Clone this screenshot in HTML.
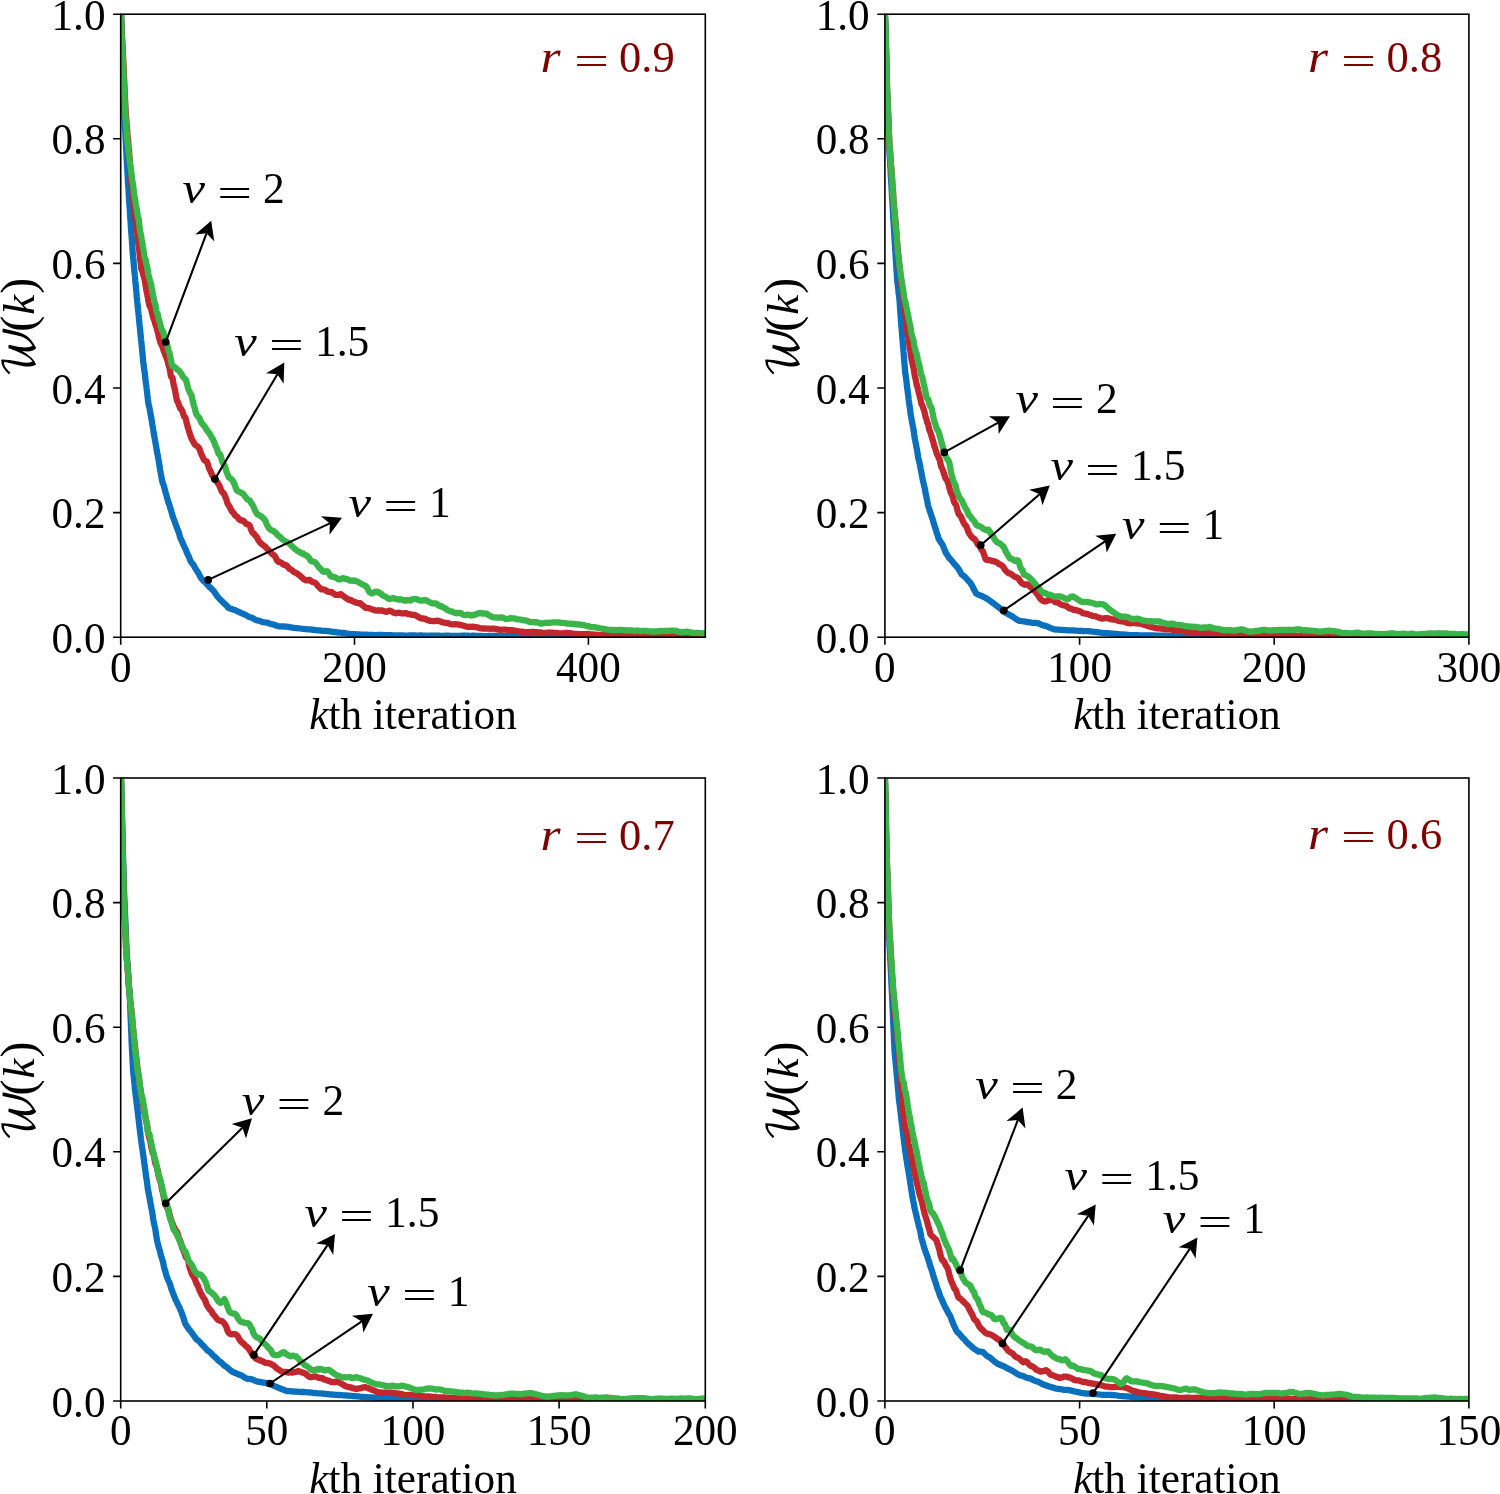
<!DOCTYPE html>
<html lang="en"><head><meta charset="utf-8"><title>W(k) versus kth iteration</title>
<style>html,body{margin:0;padding:0;background:#fff}body{width:1500px;height:1494px;overflow:hidden}svg{display:block}text{font-family:"Liberation Serif","DejaVu Serif",serif;fill:#000}.t{font-size:43.2px}.it{font-style:italic}.cal{font-family:"DejaVu Math TeX Gyre","DejaVu Serif","Liberation Serif",serif}.ax{stroke:#000;stroke-width:1.6;fill:none}.ar{stroke:#000;stroke-width:2.1;fill:none}.c{fill:none;stroke-width:6.3;stroke-linejoin:round;stroke-linecap:butt}</style></head><body>
<svg width="1500" height="1494" viewBox="0 0 1500 1494">
<rect width="1500" height="1494" fill="#fff"/>
<g id="panel1">
<clipPath id="cp1"><rect x="120.7" y="14.2" width="584.6" height="623.0"/></clipPath>
<g clip-path="url(#cp1)">
<path class="c" stroke="#0a70bd" d="M121.0,14.1 L121.1,15.6 L121.1,17.1 L121.2,18.6 L121.2,20.1 L121.3,21.6 L121.3,23.1 L121.4,24.6 L121.5,26.1 L121.5,27.6 L121.6,29.1 L121.6,30.6 L121.7,32.1 L121.7,33.6 L121.8,35.1 L121.8,36.6 L121.9,38.1 L122.0,39.6 L122.0,41.1 L122.1,42.6 L122.1,44.1 L122.1,45.6 L122.2,47.1 L122.2,48.6 L122.3,50.1 L122.3,51.6 L122.4,53.1 L122.4,54.6 L122.5,56.1 L122.5,57.6 L122.6,59.1 L122.6,60.7 L122.6,62.2 L122.7,63.7 L122.7,65.2 L122.8,66.7 L122.8,68.2 L122.9,69.7 L122.9,71.2 L123.0,72.7 L123.0,74.2 L123.0,75.7 L123.1,77.2 L123.1,78.7 L123.2,80.2 L123.2,81.7 L123.3,83.1 L123.3,84.6 L123.4,86.1 L123.4,87.6 L123.5,89.1 L123.5,90.6 L123.6,92.2 L123.7,93.7 L123.7,95.2 L123.8,96.7 L123.8,98.1 L123.9,99.5 L123.9,101.0 L124.0,102.7 L124.0,104.4 L124.1,105.9 L124.1,107.3 L124.2,108.6 L124.2,110.1 L124.3,111.7 L124.3,113.2 L124.4,114.8 L124.4,116.4 L124.5,117.9 L124.5,119.3 L124.6,120.8 L124.7,122.5 L124.8,124.0 L124.9,125.3 L124.9,126.6 L125.0,128.0 L125.1,129.4 L125.2,130.9 L125.3,132.4 L125.4,133.9 L125.5,135.4 L125.5,137.1 L125.6,138.5 L125.7,139.9 L125.8,141.3 L125.9,143.1 L126.0,144.7 L126.0,146.6 L126.1,148.2 L126.2,149.9 L126.3,151.2 L126.4,152.6 L126.5,153.9 L126.5,155.5 L126.6,157.2 L126.7,158.6 L126.8,159.9 L126.9,161.4 L126.9,163.2 L127.0,164.9 L127.1,166.1 L127.2,167.3 L127.3,168.5 L127.3,170.0 L127.4,171.5 L127.5,173.1 L127.6,174.6 L127.7,175.9 L127.7,177.1 L127.8,178.6 L127.9,180.5 L128.0,182.3 L128.1,184.0 L128.2,185.5 L128.3,186.8 L128.4,188.0 L128.5,189.6 L128.6,191.5 L128.7,193.2 L128.7,194.4 L128.8,195.3 L128.9,196.7 L129.0,198.2 L129.1,200.2 L129.2,201.7 L129.3,203.2 L129.4,204.4 L129.5,205.7 L129.6,207.0 L129.7,208.5 L129.8,209.9 L129.9,211.7 L130.0,213.0 L130.1,215.1 L130.2,216.6 L130.3,218.1 L130.4,219.3 L130.5,220.7 L130.6,222.2 L130.7,223.5 L130.8,225.1 L130.9,227.0 L131.0,228.6 L131.1,230.2 L131.2,231.5 L131.3,232.9 L131.4,234.4 L131.6,235.9 L131.7,237.3 L131.8,238.7 L131.9,240.1 L132.0,241.8 L132.1,243.5 L132.2,244.8 L132.3,246.3 L132.4,247.6 L132.5,249.1 L132.6,250.7 L132.7,252.4 L132.8,254.0 L133.0,255.1 L133.1,256.4 L133.2,257.8 L133.4,259.6 L133.5,261.1 L133.7,263.2 L133.8,264.6 L133.9,266.4 L134.1,268.1 L134.2,269.7 L134.4,271.1 L134.5,272.4 L134.6,273.4 L134.8,274.7 L134.9,276.0 L135.1,277.7 L135.2,279.3 L135.3,280.8 L135.5,282.5 L135.6,283.8 L135.8,285.2 L135.9,286.5 L136.0,288.1 L136.2,290.0 L136.3,291.7 L136.5,293.3 L136.6,294.9 L136.7,296.5 L136.9,298.4 L137.0,299.7 L137.2,301.0 L137.3,302.1 L137.5,303.6 L137.6,305.2 L137.8,306.8 L137.9,308.5 L138.1,309.8 L138.2,310.8 L138.4,312.3 L138.5,313.8 L138.7,315.3 L138.8,317.2 L139.0,319.0 L139.1,320.6 L139.3,322.0 L139.4,323.4 L139.6,324.8 L139.7,326.1 L139.9,327.6 L140.0,329.1 L140.2,330.9 L140.3,332.4 L140.5,334.0 L140.6,335.4 L140.8,337.0 L140.9,338.3 L141.0,339.6 L141.2,340.7 L141.3,342.0 L141.5,343.4 L141.6,345.0 L141.8,346.4 L141.9,348.0 L142.1,349.6 L142.2,351.2 L142.4,352.6 L142.5,354.2 L142.7,356.0 L142.8,357.6 L143.0,359.3 L143.1,361.1 L143.3,362.5 L143.5,363.8 L143.7,365.2 L143.9,366.7 L144.0,368.3 L144.2,369.5 L144.4,370.8 L144.6,372.0 L144.8,373.4 L145.0,375.2 L145.2,376.7 L145.3,378.4 L145.5,380.0 L145.7,381.5 L145.9,382.9 L146.1,384.4 L146.3,385.6 L146.5,387.0 L146.6,388.3 L146.8,389.8 L147.0,391.5 L147.2,393.5 L147.4,395.2 L147.6,396.9 L147.8,398.2 L147.9,399.8 L148.1,401.3 L148.4,403.0 L148.6,404.7 L148.9,405.7 L149.1,406.6 L149.4,407.7 L149.7,408.9 L149.9,410.3 L150.2,411.7 L150.4,413.4 L150.7,414.7 L150.9,415.9 L151.2,417.3 L151.5,418.8 L151.7,420.5 L152.0,422.2 L152.2,424.0 L152.5,425.6 L152.8,426.9 L153.0,428.5 L153.3,430.1 L153.5,431.7 L153.8,433.2 L154.0,434.9 L154.3,436.4 L154.6,437.8 L154.8,439.0 L155.1,440.6 L155.3,442.2 L155.6,443.5 L155.9,445.2 L156.1,446.7 L156.4,448.1 L156.6,449.6 L156.9,451.0 L157.1,452.4 L157.4,453.7 L157.7,455.0 L157.9,456.4 L158.2,457.8 L158.4,459.3 L158.7,460.9 L158.9,462.2 L159.2,463.8 L159.5,465.8 L159.7,467.5 L160.0,468.9 L160.2,470.3 L160.5,471.7 L160.7,473.2 L161.0,474.4 L161.3,475.9 L161.5,477.6 L161.8,479.0 L162.0,480.4 L162.4,481.8 L162.8,482.9 L163.2,484.1 L163.7,485.3 L164.1,486.8 L164.5,488.4 L165.0,490.1 L165.4,491.9 L165.8,493.4 L166.3,494.7 L166.7,496.2 L167.1,498.0 L167.6,499.7 L168.0,501.4 L168.4,502.5 L168.9,503.5 L169.3,504.8 L169.8,506.4 L170.2,507.8 L170.6,509.0 L171.1,510.3 L171.5,512.0 L172.0,513.8 L172.5,515.5 L173.0,517.3 L173.5,518.4 L174.0,519.7 L174.5,521.0 L174.9,522.2 L175.4,523.6 L175.9,524.9 L176.4,526.3 L176.9,527.7 L177.4,528.9 L177.9,530.2 L178.4,531.5 L178.9,532.8 L179.4,534.7 L179.8,536.4 L180.4,537.9 L181.0,539.3 L181.6,540.6 L182.2,541.9 L182.8,543.3 L183.4,544.7 L184.0,546.1 L184.6,547.2 L185.2,548.5 L185.9,549.8 L186.5,551.7 L187.1,553.1 L187.7,554.5 L188.3,555.4 L188.9,557.0 L189.5,558.3 L190.1,559.8 L190.7,561.3 L191.5,562.6 L192.3,563.4 L193.1,564.2 L193.9,565.6 L194.7,567.2 L195.5,568.6 L196.3,569.9 L197.1,571.0 L197.9,572.2 L198.7,573.7 L199.5,575.2 L200.3,576.8 L201.1,578.0 L201.9,579.1 L202.9,580.2 L203.9,581.2 L205.0,582.2 L206.1,583.2 L207.1,584.4 L208.2,585.5 L209.2,586.7 L210.2,587.5 L211.2,588.4 L212.2,589.4 L213.2,590.6 L214.2,591.8 L215.3,593.3 L216.3,594.7 L217.3,596.3 L218.3,597.4 L219.3,598.6 L220.3,599.7 L221.3,600.6 L222.3,601.6 L223.3,602.7 L224.4,603.7 L225.4,604.6 L226.4,605.6 L227.4,606.8 L228.5,607.9 L229.8,608.3 L231.2,608.9 L232.6,609.3 L233.9,609.8 L235.3,610.3 L236.7,611.0 L238.0,611.4 L239.4,612.2 L240.7,612.8 L242.1,613.5 L243.5,613.9 L244.8,614.5 L246.2,615.3 L247.6,616.0 L248.9,616.9 L250.3,617.4 L251.7,617.8 L253.0,618.3 L254.4,619.3 L255.7,620.0 L257.2,620.4 L258.6,620.6 L260.1,621.1 L261.5,621.7 L263.0,622.1 L264.5,622.3 L265.9,622.5 L267.4,622.7 L268.8,623.2 L270.3,623.7 L271.7,624.1 L273.2,624.4 L274.7,624.9 L276.1,625.5 L277.6,626.0 L279.1,626.3 L280.6,626.4 L282.1,626.4 L283.6,626.5 L285.1,626.6 L286.5,626.7 L288.0,626.8 L289.5,627.1 L291.0,627.3 L292.5,627.6 L294.0,627.8 L295.5,628.0 L297.0,628.2 L298.5,628.3 L300.0,628.5 L301.5,628.7 L302.9,628.8 L304.4,629.0 L305.9,629.2 L307.4,629.3 L308.9,629.4 L310.4,629.4 L311.9,629.6 L313.4,629.9 L314.9,630.0 L316.4,630.2 L317.9,630.3 L319.4,630.4 L320.9,630.6 L322.4,630.8 L323.9,630.9 L325.4,630.9 L326.9,631.0 L328.4,631.2 L329.9,631.4 L331.4,631.6 L332.8,631.8 L334.3,632.0 L335.8,632.1 L337.3,632.4 L338.8,632.6 L340.3,632.7 L341.8,632.8 L343.3,632.9 L344.8,633.0 L346.3,633.3 L347.8,633.5 L349.3,633.8 L350.8,634.0 L352.2,634.1 L353.7,634.1 L355.2,634.2 L356.7,634.4 L358.2,634.5 L359.7,634.5 L361.2,634.6 L362.7,634.6 L364.2,634.6 L365.7,634.6 L367.2,634.7 L368.7,634.8 L370.2,634.9 L371.7,634.9 L373.3,635.0 L374.8,635.1 L376.3,635.1 L377.8,635.0 L379.3,635.0 L380.8,635.0 L382.3,635.0 L383.8,635.1 L385.3,635.2 L386.8,635.1 L388.3,635.1 L389.8,635.2 L391.3,635.2 L392.8,635.3 L394.3,635.4 L395.8,635.4 L397.3,635.5 L398.8,635.4 L400.3,635.5 L401.8,635.5 L403.3,635.5 L404.8,635.6 L406.3,635.6 L407.8,635.6 L409.3,635.5 L410.8,635.4 L412.3,635.5 L413.8,635.5 L415.3,635.5 L416.8,635.6 L418.3,635.6 L419.8,635.5 L421.3,635.5 L422.8,635.6 L424.3,635.6 L425.8,635.7 L427.3,635.8 L428.8,635.7 L430.3,635.7 L431.8,635.6 L433.3,635.7 L434.8,635.7 L436.3,635.7 L437.9,635.6 L439.4,635.7 L440.9,635.8 L442.4,635.8 L443.9,635.8 L445.4,635.7 L446.9,635.7 L448.4,635.7 L449.9,635.8 L451.4,635.8 L452.9,635.8 L454.4,635.8 L455.9,635.9 L457.4,635.8 L458.9,635.8 L460.4,635.8 L461.9,635.7 L463.4,635.7 L464.9,635.7 L466.4,635.7 L467.9,635.7 L469.4,635.8 L470.9,635.8 L472.4,635.7 L473.9,635.7 L475.4,635.8 L476.9,635.8 L478.4,635.9 L479.9,635.9 L481.4,636.0 L482.9,636.1 L484.4,636.1 L485.9,636.1 L487.4,636.1 L488.9,636.0 L490.4,636.0 L491.9,635.9 L493.4,635.9 L494.9,636.0 L496.5,636.0 L498.0,636.0 L499.5,635.9 L501.0,635.9 L502.5,636.0 L504.0,636.1 L505.5,636.1 L507.0,636.1 L508.5,636.1 L510.0,636.1 L511.5,636.1 L513.0,636.2 L514.5,636.2 L516.0,636.2 L517.5,636.2 L519.0,636.2 L520.5,636.1 L522.0,636.1 L523.5,636.1 L525.0,636.2 L526.5,636.2 L528.0,636.1 L529.5,636.1 L531.0,636.1 L532.5,636.1 L534.0,636.2 L535.5,636.2 L537.0,636.3 L538.5,636.3 L540.0,636.3 L541.5,636.3 L543.0,636.2 L544.5,636.2 L546.0,636.3 L547.5,636.4 L549.0,636.4 L550.5,636.3 L552.0,636.2 L553.5,636.3 L555.0,636.3 L556.5,636.3 L558.1,636.2 L559.6,636.2 L561.1,636.3 L562.6,636.4 L564.1,636.6 L565.6,636.6 L567.1,636.6 L568.6,636.6 L570.1,636.5 L571.6,636.4 L573.1,636.4 L574.6,636.4 L576.1,636.4 L577.6,636.4 L579.1,636.5 L580.6,636.6 L582.1,636.6 L583.6,636.6 L585.1,636.5 L586.6,636.4 L588.1,636.4 L589.6,636.5 L591.1,636.5 L592.6,636.5 L594.1,636.5 L595.6,636.5 L597.1,636.5 L598.6,636.5 L600.1,636.5 L601.6,636.5 L603.1,636.6 L604.6,636.7 L606.1,636.6 L607.6,636.6 L609.1,636.6 L610.6,636.6 L612.1,636.5 L613.6,636.5 L615.1,636.5 L616.7,636.5 L618.2,636.5 L619.7,636.7 L621.2,636.8 L622.7,636.9 L624.2,636.9 L625.7,636.7 L627.2,636.6 L628.7,636.6 L630.2,636.7 L631.7,636.6 L633.2,636.5 L634.7,636.5 L636.2,636.4 L637.7,636.5 L639.2,636.6 L640.7,636.7 L642.2,636.6 L643.7,636.6 L645.2,636.6 L646.7,636.6 L648.2,636.6 L649.7,636.6 L651.2,636.6 L652.7,636.6 L654.2,636.5 L655.7,636.5 L657.2,636.5 L658.7,636.5 L660.2,636.5 L661.7,636.6 L663.2,636.7 L664.7,636.8 L666.2,636.7 L667.7,636.5 L669.2,636.4 L670.7,636.3 L672.2,636.3 L673.7,636.4 L675.2,636.4 L676.8,636.5 L678.3,636.5 L679.8,636.5 L681.3,636.6 L682.8,636.7 L684.3,636.7 L685.8,636.7 L687.3,636.7 L688.8,636.7 L690.3,636.6 L691.8,636.7 L693.3,636.8 L694.8,636.8 L696.3,636.8 L697.8,636.7 L699.3,636.7 L700.8,636.6 L702.3,636.6 L703.8,636.6 L705.3,636.6"/>
<path class="c" stroke="#c1272d" d="M121.0,14.1 L121.1,15.6 L121.1,17.1 L121.2,18.6 L121.3,20.1 L121.3,21.6 L121.4,23.1 L121.4,24.6 L121.5,26.1 L121.6,27.6 L121.6,29.1 L121.7,30.6 L121.8,32.1 L121.9,33.6 L121.9,35.1 L122.0,36.6 L122.1,38.1 L122.2,39.6 L122.3,41.1 L122.3,42.6 L122.4,44.1 L122.5,45.6 L122.6,47.1 L122.6,48.6 L122.7,50.1 L122.8,51.6 L122.9,53.1 L123.0,54.6 L123.0,56.1 L123.1,57.6 L123.2,59.1 L123.3,60.6 L123.4,62.1 L123.4,63.6 L123.5,65.1 L123.6,66.6 L123.6,68.1 L123.7,69.6 L123.8,71.1 L123.8,72.6 L123.9,74.1 L124.0,75.6 L124.0,77.1 L124.1,78.6 L124.2,80.1 L124.3,81.5 L124.3,83.0 L124.4,84.4 L124.5,86.0 L124.5,87.4 L124.6,89.1 L124.7,90.7 L124.7,92.4 L124.8,93.9 L124.9,95.4 L124.9,96.7 L125.0,98.2 L125.1,99.7 L125.2,101.3 L125.2,102.9 L125.3,104.4 L125.4,105.6 L125.4,107.0 L125.5,108.3 L125.6,109.8 L125.6,111.3 L125.7,113.0 L125.8,114.7 L126.0,116.1 L126.1,117.5 L126.2,119.3 L126.4,120.8 L126.5,122.3 L126.6,123.6 L126.8,125.2 L126.9,126.7 L127.0,128.5 L127.2,130.1 L127.3,131.9 L127.4,133.2 L127.5,134.8 L127.7,136.3 L127.8,137.8 L127.9,138.6 L128.1,139.9 L128.2,141.3 L128.3,143.5 L128.5,145.1 L128.6,147.2 L128.7,148.4 L128.9,149.4 L129.0,150.1 L129.1,150.7 L129.2,153.2 L129.3,155.0 L129.4,157.3 L129.6,158.5 L129.7,159.3 L129.8,160.7 L129.9,162.5 L130.0,164.3 L130.1,166.4 L130.2,167.0 L130.4,168.6 L130.5,169.9 L130.6,172.0 L130.7,174.0 L130.8,175.7 L130.9,177.0 L131.0,177.8 L131.2,179.5 L131.3,180.7 L131.4,182.4 L131.5,183.9 L131.6,185.7 L131.7,187.1 L131.8,188.3 L132.0,189.5 L132.1,190.8 L132.2,192.7 L132.4,194.6 L132.6,196.0 L132.8,197.1 L133.0,197.6 L133.2,199.0 L133.3,201.1 L133.5,203.7 L133.7,205.7 L133.9,207.6 L134.1,208.9 L134.3,210.4 L134.5,211.0 L134.7,212.5 L134.8,214.1 L135.0,214.9 L135.2,216.4 L135.4,217.4 L135.6,218.9 L135.8,221.1 L136.0,223.0 L136.1,224.7 L136.3,225.2 L136.5,226.4 L136.7,228.2 L136.9,229.4 L137.1,231.3 L137.2,232.6 L137.4,233.6 L137.6,235.2 L137.7,237.1 L137.9,238.7 L138.1,240.8 L138.3,242.9 L138.4,244.9 L138.6,245.5 L138.8,246.3 L138.9,248.0 L139.1,249.3 L139.3,250.6 L139.4,252.5 L139.6,253.4 L139.8,255.1 L139.9,257.0 L140.1,259.4 L140.3,260.8 L140.5,261.3 L140.6,262.6 L140.8,264.1 L141.0,265.6 L141.1,267.7 L141.4,269.3 L141.8,269.9 L142.2,270.2 L142.6,271.8 L143.0,273.7 L143.4,275.3 L143.8,276.6 L144.2,278.0 L144.5,279.4 L144.9,281.1 L145.3,283.1 L145.5,285.1 L145.8,286.5 L146.1,288.6 L146.3,290.2 L146.6,291.4 L146.8,292.3 L147.1,293.8 L147.4,294.8 L147.6,296.6 L147.9,297.8 L148.1,299.5 L148.5,301.3 L148.9,303.4 L149.3,305.0 L149.7,306.3 L150.1,306.8 L150.6,307.9 L151.0,308.7 L151.4,310.0 L151.8,311.9 L152.2,313.5 L152.6,315.2 L153.0,316.7 L153.4,318.0 L153.9,319.2 L154.3,320.3 L154.7,321.4 L155.1,323.3 L155.6,324.9 L156.0,326.1 L156.4,327.2 L156.9,328.3 L157.3,330.6 L157.7,331.9 L158.2,333.8 L158.6,335.8 L159.0,337.4 L159.5,339.1 L159.9,340.8 L160.3,342.4 L160.8,343.6 L161.3,344.0 L161.8,345.3 L162.3,346.5 L162.8,348.0 L163.3,349.5 L163.8,351.0 L164.3,352.2 L164.8,353.5 L165.3,354.8 L165.8,356.0 L166.3,357.6 L166.8,358.6 L167.3,359.9 L167.8,361.8 L168.3,363.9 L168.8,365.8 L169.2,367.2 L169.6,368.5 L169.9,370.3 L170.3,372.0 L170.6,374.5 L171.0,376.2 L171.3,377.2 L171.7,377.2 L172.0,377.2 L172.3,377.7 L172.7,379.0 L173.0,381.3 L173.4,383.5 L173.7,385.3 L174.1,386.5 L174.4,387.8 L174.7,389.0 L175.1,390.2 L175.4,392.6 L175.8,394.4 L176.1,396.6 L176.5,398.5 L176.8,399.7 L177.1,401.2 L177.7,401.9 L178.3,403.2 L179.0,405.3 L179.7,407.0 L180.3,408.5 L181.0,408.8 L181.7,409.9 L182.4,411.2 L183.0,413.4 L183.7,415.3 L184.3,416.9 L184.8,417.2 L185.2,417.3 L185.7,418.5 L186.1,420.4 L186.5,422.2 L187.0,424.1 L187.4,425.6 L187.8,427.3 L188.3,428.5 L188.7,430.1 L189.2,431.7 L189.6,433.2 L190.0,434.6 L190.5,435.7 L190.9,436.7 L191.3,437.8 L191.7,439.0 L192.3,440.1 L193.2,441.5 L194.1,443.3 L195.0,444.7 L195.9,445.3 L196.8,445.9 L197.7,446.5 L198.6,447.5 L199.3,448.6 L200.1,450.7 L200.9,453.2 L201.7,454.9 L202.5,456.5 L203.2,458.1 L204.0,459.8 L205.0,460.7 L206.0,461.2 L206.8,461.3 L207.4,463.0 L208.0,464.6 L208.6,466.9 L209.2,468.8 L209.8,469.8 L210.4,471.1 L211.1,472.5 L211.7,474.0 L212.3,475.4 L212.9,476.2 L213.5,477.0 L214.1,478.5 L214.8,479.5 L215.7,480.3 L216.6,481.2 L217.5,482.3 L218.4,484.1 L219.3,485.3 L220.2,487.7 L221.0,489.7 L221.9,491.7 L222.6,492.5 L223.2,493.0 L223.8,493.5 L224.4,494.6 L225.0,496.1 L225.5,497.7 L226.1,498.5 L226.7,500.7 L227.3,502.8 L227.9,504.3 L228.4,504.8 L229.0,505.7 L229.6,506.8 L230.2,508.2 L231.1,509.7 L232.0,511.5 L233.0,512.4 L234.0,513.5 L234.9,515.1 L235.9,516.2 L236.9,516.6 L237.8,517.4 L238.8,519.0 L239.8,519.8 L240.9,520.5 L242.3,520.3 L243.6,521.0 L245.0,522.5 L246.4,523.9 L247.8,524.5 L248.8,524.8 L249.6,525.4 L250.4,527.5 L251.2,529.8 L251.9,531.6 L252.7,532.9 L253.5,533.2 L254.3,534.3 L255.1,535.3 L256.0,536.2 L257.1,537.4 L258.1,539.7 L259.2,541.4 L260.3,542.8 L261.3,543.7 L262.4,544.7 L263.5,545.4 L264.5,546.1 L265.6,547.0 L266.7,548.5 L267.7,549.2 L268.7,550.2 L269.7,551.4 L270.6,552.5 L271.6,553.4 L272.6,554.6 L273.5,554.9 L274.5,555.6 L275.5,557.2 L276.4,559.1 L277.4,560.9 L278.4,561.7 L279.6,562.1 L280.8,562.5 L282.1,563.2 L283.3,564.6 L284.6,565.0 L285.8,564.9 L287.1,566.0 L288.3,567.6 L289.6,568.9 L290.9,569.4 L292.1,570.4 L293.4,571.6 L294.7,572.4 L295.9,572.8 L297.2,573.7 L298.5,574.5 L299.7,575.4 L301.0,576.8 L302.3,577.8 L303.5,579.0 L304.8,579.8 L306.0,580.3 L307.3,580.4 L308.6,579.8 L309.8,579.9 L311.1,581.2 L312.3,581.9 L313.6,582.4 L314.8,582.6 L316.1,583.7 L317.4,585.4 L318.8,587.0 L320.2,588.3 L321.6,589.4 L323.0,589.4 L324.4,589.6 L325.7,590.1 L327.1,591.4 L328.5,591.8 L329.9,592.0 L331.4,591.9 L332.8,593.2 L334.2,593.9 L335.7,594.9 L337.1,594.9 L338.5,595.0 L339.9,594.2 L341.3,594.4 L342.7,595.7 L344.0,596.4 L345.3,597.4 L346.7,598.5 L348.0,599.3 L349.4,600.2 L350.7,599.8 L352.1,600.9 L353.4,601.5 L354.7,601.9 L356.1,602.6 L357.4,602.8 L358.8,603.3 L360.1,603.1 L361.5,604.5 L362.8,605.5 L364.2,606.7 L365.5,607.8 L366.8,607.9 L368.2,608.1 L369.5,608.4 L370.9,608.9 L372.2,609.6 L373.7,609.7 L375.2,610.5 L376.7,610.7 L378.2,610.2 L379.7,610.6 L381.2,610.3 L382.7,610.6 L384.2,611.3 L385.7,611.8 L387.2,611.6 L388.7,610.9 L390.2,610.7 L391.7,611.5 L393.2,612.4 L394.7,612.9 L396.2,613.3 L397.7,612.8 L399.1,612.7 L400.6,613.2 L402.1,613.5 L403.6,613.3 L405.1,613.1 L406.5,613.1 L407.9,614.0 L409.4,614.1 L410.8,614.5 L412.2,614.8 L413.7,614.7 L415.1,615.2 L416.5,615.7 L418.0,616.8 L419.4,617.5 L420.8,618.4 L422.3,618.5 L423.8,618.5 L425.3,618.9 L426.7,619.8 L428.2,620.1 L429.7,620.8 L431.2,620.8 L432.6,621.2 L434.1,621.1 L435.6,621.0 L437.1,620.7 L438.5,620.8 L440.0,621.2 L441.5,622.1 L443.0,622.3 L444.5,622.8 L445.9,622.8 L447.4,623.1 L448.9,623.6 L450.4,624.2 L451.9,624.4 L453.4,624.3 L454.9,624.2 L456.3,624.4 L457.8,624.4 L459.3,624.8 L460.8,624.9 L462.3,625.4 L463.8,625.8 L465.3,626.2 L466.7,626.6 L468.2,626.9 L469.7,626.7 L471.2,626.8 L472.7,626.7 L474.2,627.0 L475.6,627.1 L477.1,627.3 L478.6,627.8 L480.1,628.3 L481.6,628.4 L483.1,628.5 L484.6,628.5 L486.1,628.6 L487.6,628.7 L489.1,628.7 L490.6,628.8 L492.1,628.6 L493.6,628.6 L495.1,628.8 L496.6,629.1 L498.1,629.5 L499.6,629.6 L501.1,629.8 L502.6,629.7 L504.1,629.7 L505.6,629.7 L507.1,629.8 L508.6,630.1 L510.1,630.2 L511.6,630.2 L513.1,630.4 L514.6,630.7 L516.1,630.9 L517.5,631.2 L519.0,631.4 L520.5,631.6 L522.0,631.6 L523.5,631.9 L525.0,632.1 L526.5,632.1 L528.0,632.1 L529.5,632.1 L531.0,632.0 L532.5,631.9 L534.0,631.9 L535.5,632.1 L537.0,632.2 L538.5,632.4 L540.0,632.5 L541.5,632.6 L543.1,632.8 L544.6,632.8 L546.1,632.8 L547.6,632.7 L549.1,632.7 L550.6,632.7 L552.1,632.7 L553.6,632.8 L555.1,632.8 L556.6,632.8 L558.1,633.1 L559.6,633.3 L561.1,633.3 L562.6,633.3 L564.1,633.1 L565.6,633.0 L567.1,632.9 L568.6,633.1 L570.1,633.2 L571.6,633.5 L573.1,633.7 L574.6,633.9 L576.1,633.8 L577.6,634.1 L579.1,634.2 L580.6,634.1 L582.1,634.2 L583.6,634.2 L585.1,634.2 L586.6,634.0 L588.1,633.9 L589.6,634.2 L591.1,634.4 L592.6,634.4 L594.1,634.6 L595.6,634.7 L597.1,634.9 L598.6,635.2 L600.1,635.1 L601.6,635.1 L603.1,635.0 L604.6,635.1 L606.1,635.2 L607.6,635.2 L609.1,635.3 L610.6,635.5 L612.1,635.5 L613.6,635.8 L615.1,635.8 L616.6,635.8 L618.1,635.9 L619.6,635.7 L621.1,635.6 L622.6,635.4 L624.1,635.3 L625.6,635.5 L627.2,635.4 L628.7,635.7 L630.2,635.7 L631.7,635.6 L633.2,635.7 L634.7,635.8 L636.2,635.8 L637.7,635.9 L639.2,635.7 L640.7,635.8 L642.2,635.8 L643.7,635.9 L645.2,636.1 L646.7,636.2 L648.2,636.2 L649.7,636.1 L651.2,635.8 L652.7,635.9 L654.2,635.9 L655.7,635.9 L657.2,635.6 L658.7,635.6 L660.2,635.6 L661.7,635.7 L663.2,635.8 L664.7,635.8 L666.2,635.8 L667.7,635.9 L669.2,636.0 L670.7,636.2 L672.2,636.2 L673.7,636.1 L675.2,636.1 L676.7,636.1 L678.2,636.4 L679.8,636.5 L681.3,636.6 L682.8,636.7 L684.3,636.4 L685.8,636.4 L687.3,636.5 L688.8,636.6 L690.3,636.7 L691.8,636.7 L693.3,636.6 L694.8,636.7 L696.3,636.7 L697.8,636.7 L699.3,636.6 L700.8,636.4 L702.3,636.4 L703.8,636.4 L705.3,636.4"/>
<path class="c" stroke="#3ab54a" d="M121.0,14.1 L121.0,15.6 L121.1,17.1 L121.1,18.6 L121.2,20.1 L121.2,21.6 L121.3,23.1 L121.3,24.6 L121.4,26.1 L121.4,27.6 L121.5,29.1 L121.5,30.6 L121.6,32.1 L121.6,33.6 L121.7,35.1 L121.8,36.6 L121.8,38.1 L121.9,39.6 L122.0,41.1 L122.1,42.6 L122.1,44.1 L122.2,45.6 L122.3,47.1 L122.3,48.6 L122.4,50.2 L122.5,51.7 L122.5,53.2 L122.6,54.7 L122.7,56.2 L122.7,57.7 L122.8,59.2 L122.9,60.7 L123.0,62.2 L123.0,63.7 L123.1,65.2 L123.2,66.7 L123.2,68.2 L123.3,69.7 L123.4,71.2 L123.4,72.7 L123.5,74.2 L123.6,75.7 L123.6,77.2 L123.7,78.7 L123.7,80.2 L123.8,81.7 L123.9,83.0 L123.9,84.4 L124.0,85.9 L124.1,87.5 L124.1,89.2 L124.2,90.7 L124.3,92.2 L124.3,93.5 L124.4,95.2 L124.5,96.7 L124.5,98.2 L124.6,99.7 L124.7,101.2 L124.7,102.5 L124.8,103.8 L124.9,105.1 L124.9,107.0 L125.0,108.5 L125.1,109.9 L125.1,111.2 L125.2,112.3 L125.3,113.7 L125.4,115.8 L125.5,117.4 L125.7,118.9 L125.8,120.6 L125.9,122.4 L126.0,123.8 L126.1,125.0 L126.2,126.4 L126.3,127.7 L126.4,128.9 L126.5,130.3 L126.7,131.8 L126.8,132.8 L126.9,134.2 L127.0,136.7 L127.1,138.9 L127.2,140.5 L127.4,141.0 L127.5,142.1 L127.7,143.4 L127.9,145.4 L128.1,147.7 L128.3,149.9 L128.5,151.5 L128.7,152.5 L128.8,153.3 L129.0,154.8 L129.2,156.3 L129.4,157.9 L129.6,160.3 L129.8,161.8 L130.0,163.0 L130.1,163.9 L130.3,164.8 L130.5,166.9 L130.7,168.0 L130.9,169.6 L131.1,170.8 L131.3,172.5 L131.4,173.9 L131.6,175.6 L131.8,176.9 L132.0,178.4 L132.2,180.0 L132.4,181.3 L132.6,182.5 L132.8,183.4 L133.1,184.8 L133.3,186.9 L133.5,189.2 L133.8,190.9 L134.0,192.8 L134.2,194.4 L134.5,196.1 L134.7,197.0 L134.9,198.2 L135.1,199.7 L135.4,201.7 L135.6,203.3 L135.8,204.6 L136.1,206.2 L136.3,207.0 L136.5,208.4 L136.7,209.4 L137.0,210.4 L137.2,212.4 L137.4,213.3 L137.7,215.5 L137.9,217.0 L138.1,218.2 L138.3,218.3 L138.6,218.3 L138.9,220.4 L139.1,223.0 L139.4,225.3 L139.7,227.8 L139.9,230.0 L140.2,232.0 L140.5,233.0 L140.8,234.1 L141.0,235.2 L141.3,236.5 L141.6,238.4 L141.8,240.2 L142.1,241.5 L142.4,242.7 L142.6,244.4 L142.9,246.5 L143.2,248.0 L143.5,249.6 L143.7,251.0 L144.0,252.7 L144.3,254.9 L144.5,256.4 L144.8,258.2 L145.1,259.2 L145.3,259.3 L145.6,259.4 L145.8,260.3 L146.1,261.8 L146.4,264.1 L146.6,264.9 L146.9,265.9 L147.2,267.2 L147.4,268.4 L147.7,269.8 L148.0,271.8 L148.2,274.0 L148.6,275.5 L149.1,277.6 L149.6,279.1 L150.1,281.1 L150.5,281.8 L150.8,283.0 L151.1,284.6 L151.4,286.1 L151.7,288.0 L152.0,289.5 L152.3,290.6 L152.5,292.5 L152.8,294.2 L153.1,294.9 L153.4,296.4 L153.7,298.1 L154.0,300.3 L154.3,301.5 L154.7,302.3 L155.1,303.7 L155.5,304.9 L155.8,307.0 L156.2,309.6 L156.6,311.4 L156.9,312.6 L157.3,313.7 L157.7,314.0 L158.1,316.2 L158.5,317.6 L158.9,319.7 L159.4,321.5 L159.8,322.4 L160.3,324.3 L160.7,326.0 L161.1,327.7 L161.6,329.4 L162.0,329.9 L162.5,330.7 L162.9,331.4 L163.4,332.5 L163.8,334.7 L164.3,336.4 L164.7,338.3 L165.2,339.3 L165.6,340.7 L166.0,342.4 L166.5,343.6 L166.9,344.5 L167.3,345.4 L167.7,346.4 L168.0,348.6 L168.4,349.9 L168.8,351.2 L169.2,352.1 L169.6,353.2 L170.0,355.6 L170.4,357.8 L170.8,359.6 L171.2,361.8 L171.6,363.1 L172.0,365.1 L172.5,366.2 L173.6,366.2 L174.6,367.0 L175.7,367.8 L176.7,369.1 L177.8,369.9 L178.9,370.5 L179.9,371.9 L181.0,373.2 L182.0,375.1 L183.1,376.9 L184.2,378.2 L184.8,378.6 L185.3,379.1 L185.8,379.6 L186.4,381.5 L186.9,383.6 L187.4,385.6 L188.0,387.9 L188.5,389.6 L189.0,390.9 L189.6,391.8 L190.1,393.1 L190.6,393.8 L191.0,394.3 L191.5,395.1 L191.9,397.0 L192.3,399.0 L192.8,401.3 L193.2,402.7 L193.6,404.7 L194.0,405.9 L194.5,407.5 L194.9,408.7 L195.3,410.8 L195.8,412.3 L196.2,414.0 L196.8,414.7 L197.6,416.1 L198.4,416.8 L199.2,417.7 L200.0,419.5 L200.8,421.1 L201.6,422.9 L202.4,424.1 L203.2,424.7 L204.0,425.8 L204.7,426.5 L205.5,427.9 L206.3,429.3 L207.2,430.7 L208.0,431.7 L208.9,432.4 L209.7,433.7 L210.5,435.5 L211.4,436.8 L212.2,438.4 L213.1,439.5 L213.9,441.7 L214.7,443.4 L215.2,445.3 L215.8,446.4 L216.3,447.2 L216.9,448.5 L217.4,450.1 L218.0,451.9 L218.5,453.9 L219.1,454.4 L219.7,454.2 L220.2,454.4 L220.8,456.2 L221.3,458.4 L221.9,460.4 L222.4,461.9 L223.0,463.2 L223.5,464.1 L224.1,464.7 L224.6,465.6 L225.2,466.8 L225.7,468.7 L226.3,471.1 L227.2,473.5 L228.0,475.6 L228.8,477.3 L229.6,477.6 L230.4,478.6 L231.1,478.9 L231.8,479.7 L232.5,480.3 L233.2,481.3 L233.8,483.1 L234.5,484.2 L235.2,486.1 L235.9,488.4 L236.7,490.4 L237.8,490.9 L239.0,491.6 L240.1,492.3 L241.3,492.9 L242.4,493.2 L243.6,494.5 L244.7,496.0 L245.9,497.3 L247.0,499.1 L248.2,499.8 L249.1,500.0 L249.9,500.6 L250.7,502.2 L251.4,503.6 L252.2,504.2 L253.0,505.7 L253.8,507.7 L254.6,509.4 L255.4,511.0 L256.2,512.6 L257.1,514.0 L258.2,514.7 L259.2,515.4 L260.3,515.8 L261.4,516.5 L262.4,517.5 L263.5,518.4 L264.6,519.6 L265.6,521.2 L266.7,524.1 L267.8,526.3 L268.8,528.1 L269.8,529.1 L270.8,529.8 L271.8,530.5 L272.8,530.8 L273.8,531.2 L274.8,532.2 L275.8,532.9 L276.9,534.2 L277.9,535.5 L278.9,536.0 L279.9,536.8 L281.1,537.9 L282.2,539.2 L283.4,540.0 L284.5,540.8 L285.7,541.7 L286.8,542.3 L288.0,542.5 L289.1,543.3 L290.3,544.1 L291.4,545.7 L292.6,546.8 L293.9,547.9 L295.2,549.2 L296.5,550.1 L297.8,551.3 L299.1,551.5 L300.4,552.4 L301.7,553.4 L303.0,553.3 L304.3,554.6 L305.6,555.2 L306.9,555.7 L308.1,557.0 L309.2,558.0 L310.3,560.2 L311.4,561.3 L312.4,561.4 L313.5,561.6 L314.6,562.0 L315.7,563.0 L316.8,564.5 L317.9,565.9 L319.0,567.4 L320.3,568.6 L321.5,569.8 L322.7,571.4 L324.0,571.8 L325.2,571.7 L326.4,571.1 L327.7,571.7 L328.9,573.3 L330.1,575.5 L331.4,576.6 L332.8,576.7 L334.2,577.2 L335.6,577.5 L337.0,578.4 L338.4,579.4 L339.8,579.3 L341.2,579.1 L342.6,578.2 L344.0,578.3 L345.4,579.0 L346.8,579.0 L348.3,579.7 L349.8,580.7 L351.2,580.7 L352.7,580.8 L354.2,580.4 L355.6,581.0 L357.1,581.4 L358.6,582.3 L360.1,583.1 L361.4,584.1 L362.6,584.5 L363.9,585.1 L365.1,585.7 L366.3,586.5 L367.6,588.5 L368.8,591.2 L370.0,592.5 L371.4,593.4 L372.8,593.0 L374.2,592.3 L375.7,591.6 L377.1,591.8 L378.5,592.3 L380.0,593.2 L381.4,594.0 L382.8,595.5 L384.3,596.3 L385.7,596.7 L387.1,597.7 L388.6,598.9 L390.1,598.8 L391.5,598.5 L393.0,598.2 L394.4,598.4 L395.9,599.0 L397.4,599.2 L398.8,599.7 L400.3,599.2 L401.7,599.6 L403.2,599.9 L404.7,600.8 L406.2,600.0 L407.7,600.5 L409.2,600.2 L410.7,600.5 L412.2,599.4 L413.7,599.0 L415.2,598.8 L416.7,599.3 L418.2,599.8 L419.7,600.4 L421.2,600.7 L422.6,600.5 L424.1,600.2 L425.5,600.1 L426.9,600.5 L428.4,601.6 L429.8,602.1 L431.3,603.1 L432.7,603.4 L434.2,603.5 L435.6,603.5 L437.1,604.0 L438.4,605.5 L439.8,606.0 L441.1,606.0 L442.4,607.0 L443.8,607.6 L445.1,608.6 L446.5,609.2 L447.8,610.2 L449.2,610.9 L450.5,611.4 L452.0,611.4 L453.4,612.3 L454.9,612.9 L456.4,613.3 L457.9,612.9 L459.4,613.0 L460.9,613.2 L462.4,614.3 L463.9,615.0 L465.4,615.2 L466.8,614.6 L468.3,614.7 L469.8,615.1 L471.3,615.6 L472.8,615.1 L474.3,615.0 L475.8,614.2 L477.3,613.9 L478.8,613.2 L480.3,613.0 L481.8,613.5 L483.2,613.5 L484.7,613.5 L486.1,613.6 L487.6,614.4 L489.0,615.2 L490.5,616.0 L491.9,616.9 L493.4,617.4 L494.8,617.4 L496.3,617.5 L497.7,617.6 L499.2,617.6 L500.6,617.5 L502.1,617.5 L503.6,618.0 L505.1,618.8 L506.6,619.0 L508.1,618.8 L509.6,618.4 L511.1,618.2 L512.6,618.3 L514.1,618.4 L515.6,618.7 L517.1,619.3 L518.6,619.3 L520.1,619.5 L521.6,619.8 L523.1,620.3 L524.6,620.3 L526.0,620.4 L527.5,620.9 L529.0,621.7 L530.5,622.1 L531.9,622.2 L533.4,622.0 L534.9,622.3 L536.4,622.2 L537.8,622.5 L539.3,623.0 L540.8,623.6 L542.3,623.5 L543.8,623.2 L545.3,622.8 L546.8,622.9 L548.3,622.6 L549.8,622.8 L551.3,622.7 L552.8,622.4 L554.3,622.4 L555.8,622.3 L557.3,622.4 L558.8,622.5 L560.3,622.7 L561.8,622.8 L563.3,623.0 L564.8,623.2 L566.3,623.5 L567.8,623.5 L569.3,623.7 L570.8,624.0 L572.3,623.7 L573.8,623.8 L575.3,624.1 L576.8,624.5 L578.3,624.3 L579.8,624.6 L581.2,624.7 L582.7,625.0 L584.2,625.2 L585.7,625.6 L587.1,625.9 L588.6,626.1 L590.1,626.7 L591.5,627.1 L593.0,627.1 L594.5,627.2 L596.0,627.5 L597.4,627.7 L598.9,628.1 L600.4,628.3 L601.8,628.7 L603.3,628.9 L604.8,629.1 L606.3,629.4 L607.8,629.6 L609.3,629.8 L610.8,630.0 L612.3,629.9 L613.8,630.0 L615.3,630.1 L616.8,630.2 L618.3,630.1 L619.8,629.8 L621.3,629.9 L622.8,630.1 L624.3,630.2 L625.8,630.5 L627.3,630.4 L628.8,630.3 L630.3,630.3 L631.8,630.4 L633.3,630.6 L634.8,630.8 L636.3,630.7 L637.8,630.7 L639.3,630.8 L640.8,631.0 L642.3,631.0 L643.8,630.8 L645.3,630.8 L646.8,631.0 L648.3,631.1 L649.8,631.3 L651.3,631.5 L652.8,631.5 L654.3,631.5 L655.8,631.4 L657.3,631.3 L658.8,631.1 L660.3,631.0 L661.8,631.1 L663.4,630.9 L664.9,630.9 L666.4,630.9 L667.9,630.9 L669.4,630.8 L670.9,630.6 L672.4,630.6 L673.9,630.6 L675.3,630.7 L676.8,631.1 L678.3,631.6 L679.8,631.9 L681.3,632.1 L682.8,632.0 L684.3,631.8 L685.8,631.8 L687.3,631.7 L688.8,632.0 L690.3,632.4 L691.8,632.6 L693.3,632.8 L694.8,633.0 L696.3,632.9 L697.8,632.9 L699.3,633.1 L700.8,633.2 L702.3,633.4 L703.8,633.5 L705.3,633.6"/>
</g>
<rect class="ax" x="120.7" y="14.2" width="584.6" height="623.0"/>
<text class="t" transform="translate(105.5,652.8) scale(1,1.04)" text-anchor="end">0.0</text>
<text class="t" transform="translate(105.5,528.2) scale(1,1.04)" text-anchor="end">0.2</text>
<text class="t" transform="translate(105.5,403.6) scale(1,1.04)" text-anchor="end">0.4</text>
<text class="t" transform="translate(105.5,279.0) scale(1,1.04)" text-anchor="end">0.6</text>
<text class="t" transform="translate(105.5,154.4) scale(1,1.04)" text-anchor="end">0.8</text>
<text class="t" transform="translate(105.5,29.8) scale(1,1.04)" text-anchor="end">1.0</text>
<text class="t" transform="translate(120.7,681.6) scale(1,1.04)" text-anchor="middle">0</text>
<text class="t" transform="translate(354.5,681.6) scale(1,1.04)" text-anchor="middle">200</text>
<text class="t" transform="translate(588.4,681.6) scale(1,1.04)" text-anchor="middle">400</text>
<path class="ax" d="M120.7,637.2h-7.6M120.7,512.6h-7.6M120.7,388.0h-7.6M120.7,263.4h-7.6M120.7,138.8h-7.6M120.7,14.2h-7.6M120.7,637.2v7.6M354.5,637.2v7.6M588.4,637.2v7.6"/>
<text class="t" transform="translate(413.0,728.8) scale(1,1.04)" text-anchor="middle"><tspan class="it">k</tspan>th iteration</text>
<g transform="translate(33.5,328.7) rotate(-90)">
<text y="0"><tspan class="cal" x="-49" font-size="42">𝒲</tspan><tspan x="-3" font-size="48">(</tspan><tspan class="it" dx="1" font-size="45">k</tspan><tspan dx="1" font-size="48">)</tspan></text>
</g>
<text y="72.2" style="fill:#7f0000"><tspan class="it" x="540.6" font-size="46" textLength="20.05" lengthAdjust="spacingAndGlyphs">r</tspan> <tspan x="574.1" dy="2.0" font-size="38" textLength="35.1" lengthAdjust="spacingAndGlyphs">=</tspan> <tspan x="619.1" dy="-2.0" font-size="44.5">0.9</tspan></text>
<path class="ar" d="M165.7,342.1L206.5,233.3"/>
<path d="M211.2,220.7L214.3,241.6L206.5,233.3L195.2,234.4Z" fill="#000"/>
<circle cx="165.7" cy="342.1" r="3.85" fill="#000"/>
<path class="ar" d="M214.9,479.1L277.4,374.2"/>
<path d="M284.3,362.6L283.6,383.7L277.4,374.2L266.1,373.3Z" fill="#000"/>
<circle cx="214.9" cy="479.1" r="3.85" fill="#000"/>
<path class="ar" d="M208.2,579.9L329.8,523.4"/>
<path d="M342.0,517.7L329.5,534.7L329.8,523.4L320.9,516.2Z" fill="#000"/>
<circle cx="208.2" cy="579.9" r="3.85" fill="#000"/>
<text y="202.9"><tspan class="it" x="182.5" font-size="44" textLength="22.5" lengthAdjust="spacingAndGlyphs">ν</tspan> <tspan x="217.2" dy="2.6" font-size="38" textLength="34.9" lengthAdjust="spacingAndGlyphs">=</tspan> <tspan x="263.1" dy="-2.6" font-size="43.5">2</tspan></text>
<text y="355.7"><tspan class="it" x="234.3" font-size="44" textLength="22.5" lengthAdjust="spacingAndGlyphs">ν</tspan> <tspan x="269.0" dy="2.6" font-size="38" textLength="34.9" lengthAdjust="spacingAndGlyphs">=</tspan> <tspan x="314.9" dy="-2.6" font-size="43.5">1.5</tspan></text>
<text y="516.7"><tspan class="it" x="348.5" font-size="44" textLength="22.5" lengthAdjust="spacingAndGlyphs">ν</tspan> <tspan x="383.2" dy="2.6" font-size="38" textLength="34.9" lengthAdjust="spacingAndGlyphs">=</tspan> <tspan x="429.1" dy="-2.6" font-size="43.5">1</tspan></text>
</g>
<g id="panel2">
<clipPath id="cp2"><rect x="884.9" y="14.2" width="584.0" height="623.0"/></clipPath>
<g clip-path="url(#cp2)">
<path class="c" stroke="#0a70bd" d="M884.9,14.1 L885.0,15.6 L885.0,17.1 L885.1,18.6 L885.1,20.1 L885.2,21.6 L885.2,23.1 L885.3,24.6 L885.3,26.1 L885.4,27.6 L885.4,29.1 L885.5,30.6 L885.5,32.1 L885.6,33.6 L885.6,35.1 L885.7,36.6 L885.7,38.1 L885.8,39.7 L885.8,41.2 L885.8,42.7 L885.9,44.2 L885.9,45.7 L885.9,47.2 L886.0,48.7 L886.0,50.2 L886.0,51.7 L886.1,53.2 L886.1,54.7 L886.1,56.2 L886.2,57.7 L886.2,59.2 L886.2,60.7 L886.3,62.2 L886.3,63.7 L886.3,65.2 L886.4,66.7 L886.4,68.2 L886.4,69.7 L886.5,71.2 L886.5,72.7 L886.5,74.2 L886.6,75.7 L886.6,77.3 L886.6,78.8 L886.7,80.3 L886.7,81.8 L886.7,83.3 L886.8,84.8 L886.8,86.3 L886.8,87.8 L886.9,89.3 L886.9,90.8 L887.0,92.4 L887.0,93.8 L887.1,95.2 L887.1,96.7 L887.2,98.3 L887.3,99.7 L887.3,101.3 L887.4,102.7 L887.4,104.2 L887.5,105.7 L887.6,107.4 L887.6,108.9 L887.7,110.4 L887.7,111.7 L887.8,113.2 L887.9,114.5 L887.9,116.1 L888.0,117.6 L888.0,119.3 L888.1,121.0 L888.2,122.7 L888.2,124.3 L888.3,125.9 L888.3,127.1 L888.4,128.7 L888.4,130.1 L888.5,131.7 L888.6,133.1 L888.6,134.5 L888.7,136.0 L888.7,137.5 L888.8,138.9 L888.9,140.3 L888.9,142.0 L889.0,143.7 L889.1,145.2 L889.2,146.7 L889.3,148.5 L889.4,150.1 L889.4,151.5 L889.5,153.0 L889.6,154.6 L889.7,156.1 L889.8,157.2 L889.9,158.4 L890.0,160.1 L890.1,161.7 L890.1,163.5 L890.2,165.1 L890.3,166.4 L890.4,167.4 L890.5,168.8 L890.6,170.5 L890.7,172.6 L890.7,174.4 L890.8,176.0 L890.9,177.3 L891.0,178.3 L891.1,179.7 L891.2,181.3 L891.3,182.7 L891.3,184.1 L891.4,185.6 L891.5,187.0 L891.6,188.6 L891.7,190.2 L891.8,191.9 L891.9,193.4 L891.9,194.9 L892.0,196.7 L892.1,198.3 L892.2,199.8 L892.3,201.1 L892.4,202.3 L892.5,203.4 L892.5,204.6 L892.6,206.0 L892.7,207.5 L892.8,209.1 L892.9,211.0 L893.0,212.7 L893.1,214.5 L893.1,215.7 L893.2,216.9 L893.3,218.0 L893.4,219.9 L893.5,221.6 L893.6,223.1 L893.7,224.7 L893.8,225.9 L893.9,227.6 L894.0,229.2 L894.1,230.9 L894.1,232.1 L894.2,233.3 L894.3,234.6 L894.4,236.4 L894.5,238.0 L894.6,240.0 L894.7,241.6 L894.8,243.0 L894.9,244.4 L895.0,246.1 L895.1,247.9 L895.2,249.5 L895.3,250.9 L895.4,252.4 L895.5,253.6 L895.6,254.9 L895.7,256.5 L895.7,258.0 L895.8,259.1 L895.9,260.3 L896.0,261.7 L896.1,263.2 L896.2,264.9 L896.3,266.7 L896.4,268.4 L896.5,269.9 L896.6,271.0 L896.7,272.4 L896.8,273.9 L896.9,275.8 L897.0,277.5 L897.1,279.2 L897.2,280.6 L897.3,282.0 L897.5,283.0 L897.7,284.3 L897.8,285.5 L898.0,286.9 L898.2,288.3 L898.4,290.2 L898.5,292.0 L898.7,293.5 L898.9,294.8 L899.1,296.3 L899.3,298.0 L899.4,299.7 L899.6,301.0 L899.7,302.5 L899.8,304.3 L899.9,306.0 L900.0,307.4 L900.1,308.8 L900.2,310.3 L900.3,311.6 L900.4,312.8 L900.5,314.4 L900.6,316.1 L900.8,317.6 L900.9,319.2 L901.0,320.9 L901.1,322.5 L901.2,324.1 L901.3,325.5 L901.4,326.7 L901.6,328.0 L901.7,329.5 L901.8,331.0 L901.9,332.5 L902.1,334.0 L902.2,335.5 L902.3,337.1 L902.4,338.5 L902.6,340.4 L902.7,341.9 L902.8,343.5 L902.9,344.8 L903.0,346.1 L903.2,347.3 L903.3,348.7 L903.4,350.2 L903.5,351.8 L903.7,353.4 L903.8,355.1 L903.9,356.6 L904.0,358.3 L904.1,359.8 L904.3,361.2 L904.4,362.7 L904.5,364.3 L904.6,365.8 L904.8,367.0 L904.9,368.3 L905.0,369.8 L905.1,371.5 L905.3,373.1 L905.5,374.3 L905.7,375.6 L905.9,377.0 L906.1,378.6 L906.3,380.0 L906.5,381.6 L906.7,383.5 L906.8,384.9 L907.0,386.4 L907.2,387.8 L907.4,389.5 L907.6,390.8 L907.8,392.2 L908.0,393.8 L908.2,395.3 L908.4,396.7 L908.5,398.4 L908.7,400.1 L908.9,401.5 L909.1,402.6 L909.3,403.9 L909.5,405.4 L909.7,406.7 L909.9,408.1 L910.1,409.5 L910.3,411.3 L910.5,413.0 L910.8,414.9 L911.0,416.3 L911.3,417.7 L911.6,419.4 L911.8,420.8 L912.1,422.3 L912.3,423.6 L912.6,424.8 L912.8,426.1 L913.1,427.2 L913.4,428.8 L913.6,430.6 L913.9,432.3 L914.1,434.2 L914.4,435.8 L914.6,437.3 L914.9,438.9 L915.2,440.3 L915.4,441.7 L915.7,442.9 L915.9,444.2 L916.2,445.6 L916.4,447.1 L916.7,448.2 L916.9,449.4 L917.2,450.9 L917.5,452.5 L917.7,454.6 L918.0,456.4 L918.2,457.9 L918.5,459.0 L918.8,459.9 L919.2,461.4 L919.5,462.8 L919.8,464.3 L920.1,465.7 L920.4,467.4 L920.7,469.1 L921.0,470.6 L921.3,472.0 L921.6,473.6 L921.9,475.3 L922.2,477.0 L922.5,478.6 L922.8,480.0 L923.1,481.3 L923.4,482.7 L923.7,484.0 L924.0,485.2 L924.3,486.4 L924.7,488.0 L925.0,489.7 L925.3,491.3 L925.6,493.2 L925.9,494.5 L926.2,495.9 L926.5,497.3 L926.8,498.8 L927.1,500.3 L927.4,501.8 L927.7,503.5 L928.0,505.1 L928.4,506.5 L928.8,507.8 L929.3,509.2 L929.7,510.7 L930.2,512.0 L930.6,513.5 L931.1,514.7 L931.5,516.0 L932.0,517.2 L932.4,518.5 L932.9,520.0 L933.3,521.7 L933.8,523.3 L934.2,524.8 L934.7,526.2 L935.1,527.6 L935.6,529.0 L936.1,530.7 L936.5,532.3 L937.0,533.5 L937.4,534.7 L937.9,536.0 L938.3,537.8 L939.0,539.3 L939.7,540.6 L940.5,541.8 L941.2,542.7 L941.9,543.6 L942.6,545.0 L943.3,546.4 L944.0,548.4 L944.7,550.1 L945.5,551.9 L946.2,553.5 L946.9,554.4 L947.6,555.5 L948.3,556.6 L949.0,557.8 L950.0,558.7 L950.9,559.8 L951.9,561.0 L952.8,562.1 L953.8,563.2 L954.7,564.4 L955.6,565.4 L956.6,566.5 L957.5,567.6 L958.5,568.9 L959.4,570.5 L960.4,572.2 L961.3,573.9 L962.3,574.9 L963.3,575.7 L964.3,576.4 L965.3,577.3 L966.3,578.4 L967.3,579.6 L968.2,580.7 L969.2,581.5 L970.2,582.6 L971.0,584.0 L971.7,585.1 L972.5,586.5 L973.2,587.9 L974.0,589.5 L974.7,590.9 L975.4,592.1 L976.2,593.5 L977.6,594.3 L978.9,594.9 L980.3,595.4 L981.6,596.0 L983.0,596.6 L984.3,597.3 L985.7,598.0 L987.0,598.8 L988.3,599.5 L989.5,600.4 L990.7,601.3 L991.9,602.4 L993.1,603.0 L994.3,604.0 L995.5,604.8 L996.7,605.8 L997.9,606.7 L999.1,607.6 L1000.3,608.6 L1001.5,609.7 L1002.7,610.8 L1003.9,611.8 L1005.2,612.6 L1006.5,613.2 L1007.7,613.8 L1009.0,614.7 L1010.3,615.3 L1011.5,615.9 L1012.8,616.7 L1014.1,617.7 L1015.3,618.5 L1016.6,619.4 L1017.9,620.2 L1019.3,620.8 L1020.8,621.0 L1022.3,621.2 L1023.7,621.3 L1025.2,621.6 L1026.7,621.8 L1028.2,622.2 L1029.7,622.4 L1031.2,622.6 L1032.7,622.8 L1034.2,622.8 L1035.6,622.9 L1037.1,623.1 L1038.6,623.4 L1040.0,624.1 L1041.4,624.8 L1042.8,625.3 L1044.2,625.7 L1045.6,625.9 L1047.0,626.4 L1048.4,627.0 L1049.8,627.7 L1051.3,628.3 L1052.7,628.9 L1054.1,629.4 L1055.5,629.5 L1057.0,629.6 L1058.5,629.6 L1060.0,629.8 L1061.5,629.9 L1063.0,630.0 L1064.5,630.2 L1066.0,630.2 L1067.5,630.3 L1069.1,630.3 L1070.6,630.4 L1072.1,630.4 L1073.6,630.5 L1075.1,630.6 L1076.6,630.7 L1078.1,630.8 L1079.6,630.8 L1081.1,630.9 L1082.6,631.0 L1084.1,631.1 L1085.6,631.1 L1087.1,631.2 L1088.6,631.2 L1090.1,631.4 L1091.6,631.5 L1093.1,631.7 L1094.6,631.8 L1096.1,632.0 L1097.6,632.1 L1099.1,632.4 L1100.6,632.6 L1102.1,632.8 L1103.5,633.0 L1105.0,633.1 L1106.5,633.1 L1108.0,633.1 L1109.5,633.3 L1111.0,633.5 L1112.5,633.6 L1114.0,633.7 L1115.5,633.8 L1117.0,633.9 L1118.5,634.1 L1120.0,634.3 L1121.5,634.4 L1123.0,634.5 L1124.5,634.6 L1126.0,634.7 L1127.5,634.9 L1129.0,635.0 L1130.5,635.2 L1132.0,635.2 L1133.5,635.2 L1135.0,635.2 L1136.5,635.2 L1138.0,635.2 L1139.5,635.3 L1141.0,635.3 L1142.6,635.3 L1144.1,635.3 L1145.6,635.3 L1147.1,635.3 L1148.6,635.3 L1150.1,635.3 L1151.6,635.3 L1153.1,635.3 L1154.6,635.5 L1156.1,635.6 L1157.6,635.7 L1159.1,635.7 L1160.6,635.6 L1162.1,635.6 L1163.6,635.6 L1165.1,635.7 L1166.6,635.8 L1168.1,635.8 L1169.6,635.8 L1171.1,636.0 L1172.6,636.1 L1174.1,636.0 L1175.6,636.0 L1177.1,636.0 L1178.6,636.0 L1180.1,636.0 L1181.6,636.0 L1183.2,636.0 L1184.7,636.1 L1186.2,636.1 L1187.7,636.1 L1189.2,636.1 L1190.7,636.1 L1192.2,636.1 L1193.7,636.1 L1195.2,636.1 L1196.7,636.2 L1198.2,636.2 L1199.7,636.2 L1201.2,636.2 L1202.7,636.1 L1204.2,636.2 L1205.7,636.2 L1207.2,636.2 L1208.7,636.2 L1210.2,636.2 L1211.7,636.3 L1213.2,636.4 L1214.7,636.3 L1216.2,636.3 L1217.7,636.3 L1219.2,636.3 L1220.7,636.3 L1222.3,636.3 L1223.8,636.3 L1225.3,636.3 L1226.8,636.2 L1228.3,636.2 L1229.8,636.2 L1231.3,636.2 L1232.8,636.3 L1234.3,636.3 L1235.8,636.4 L1237.3,636.4 L1238.8,636.4 L1240.3,636.4 L1241.8,636.3 L1243.3,636.4 L1244.8,636.4 L1246.3,636.5 L1247.8,636.5 L1249.3,636.5 L1250.8,636.4 L1252.3,636.5 L1253.8,636.5 L1255.3,636.4 L1256.8,636.3 L1258.3,636.4 L1259.9,636.4 L1261.4,636.4 L1262.9,636.4 L1264.4,636.4 L1265.9,636.4 L1267.4,636.5 L1268.9,636.6 L1270.4,636.6 L1271.9,636.6 L1273.4,636.6 L1274.9,636.6 L1276.4,636.6 L1277.9,636.5 L1279.4,636.5 L1280.9,636.4 L1282.4,636.4 L1283.9,636.5 L1285.4,636.5 L1286.9,636.5 L1288.4,636.6 L1289.9,636.5 L1291.4,636.6 L1292.9,636.6 L1294.4,636.6 L1295.9,636.6 L1297.4,636.6 L1299.0,636.6 L1300.5,636.6 L1302.0,636.6 L1303.5,636.7 L1305.0,636.6 L1306.5,636.5 L1308.0,636.5 L1309.5,636.5 L1311.0,636.5 L1312.5,636.5 L1314.0,636.6 L1315.5,636.6 L1317.0,636.7 L1318.5,636.6 L1320.0,636.6 L1321.5,636.6 L1323.0,636.6 L1324.5,636.5 L1326.0,636.6 L1327.5,636.6 L1329.0,636.6 L1330.5,636.6 L1332.0,636.5 L1333.5,636.5 L1335.0,636.5 L1336.6,636.5 L1338.1,636.5 L1339.6,636.5 L1341.1,636.6 L1342.6,636.6 L1344.1,636.6 L1345.6,636.6 L1347.1,636.5 L1348.6,636.4 L1350.1,636.4 L1351.6,636.5 L1353.1,636.6 L1354.6,636.6 L1356.1,636.6 L1357.6,636.5 L1359.1,636.5 L1360.6,636.4 L1362.1,636.5 L1363.6,636.5 L1365.1,636.6 L1366.6,636.5 L1368.1,636.6 L1369.6,636.6 L1371.1,636.7 L1372.6,636.8 L1374.2,636.7 L1375.7,636.7 L1377.2,636.7 L1378.7,636.7 L1380.2,636.6 L1381.7,636.6 L1383.2,636.6 L1384.7,636.6 L1386.2,636.7 L1387.7,636.7 L1389.2,636.7 L1390.7,636.7 L1392.2,636.7 L1393.7,636.7 L1395.2,636.7 L1396.7,636.7 L1398.2,636.7 L1399.7,636.8 L1401.2,636.8 L1402.7,636.8 L1404.2,636.7 L1405.7,636.7 L1407.2,636.7 L1408.7,636.6 L1410.2,636.6 L1411.7,636.6 L1413.3,636.6 L1414.8,636.7 L1416.3,636.8 L1417.8,636.8 L1419.3,636.8 L1420.8,636.8 L1422.3,636.8 L1423.8,636.7 L1425.3,636.8 L1426.8,636.8 L1428.3,636.8 L1429.8,636.7 L1431.3,636.7 L1432.8,636.7 L1434.3,636.6 L1435.8,636.7 L1437.3,636.7 L1438.8,636.6 L1440.3,636.5 L1441.8,636.4 L1443.3,636.5 L1444.8,636.6 L1446.3,636.6 L1447.8,636.6 L1449.3,636.6 L1450.9,636.6 L1452.4,636.6 L1453.9,636.6 L1455.4,636.6 L1456.9,636.6 L1458.4,636.6 L1459.9,636.5 L1461.4,636.5 L1462.9,636.5 L1464.4,636.6 L1465.9,636.6 L1467.4,636.6 L1468.9,636.6"/>
<path class="c" stroke="#c1272d" d="M884.9,14.1 L885.0,15.6 L885.0,17.1 L885.1,18.6 L885.2,20.1 L885.2,21.6 L885.3,23.1 L885.3,24.6 L885.4,26.1 L885.5,27.6 L885.5,29.1 L885.6,30.6 L885.6,32.1 L885.7,33.6 L885.7,35.1 L885.7,36.6 L885.8,38.1 L885.8,39.6 L885.8,41.1 L885.9,42.6 L885.9,44.1 L886.0,45.6 L886.0,47.2 L886.0,48.7 L886.1,50.2 L886.1,51.7 L886.1,53.2 L886.2,54.7 L886.2,56.2 L886.2,57.7 L886.3,59.2 L886.3,60.7 L886.4,62.2 L886.4,63.7 L886.4,65.2 L886.5,66.7 L886.5,68.2 L886.5,69.7 L886.6,71.2 L886.6,72.7 L886.6,74.2 L886.7,75.7 L886.7,77.2 L886.7,78.7 L886.8,80.2 L886.8,81.7 L886.9,83.3 L887.0,84.8 L887.0,86.3 L887.1,87.9 L887.1,89.6 L887.2,91.1 L887.3,92.6 L887.3,94.0 L887.4,95.6 L887.5,97.0 L887.5,98.3 L887.6,99.5 L887.6,100.9 L887.7,102.6 L887.8,104.4 L887.8,106.0 L887.9,107.5 L888.0,108.7 L888.0,110.2 L888.1,112.0 L888.1,114.0 L888.2,115.3 L888.3,116.7 L888.3,118.0 L888.4,119.5 L888.4,121.0 L888.5,122.4 L888.6,123.8 L888.6,125.4 L888.7,127.1 L888.8,129.4 L888.8,130.8 L888.9,132.4 L888.9,133.4 L889.0,135.1 L889.1,136.7 L889.1,137.9 L889.2,139.2 L889.3,141.0 L889.3,142.8 L889.4,144.3 L889.5,145.2 L889.7,146.6 L889.8,147.7 L889.9,148.6 L890.0,150.0 L890.1,151.4 L890.2,152.5 L890.3,154.3 L890.4,156.4 L890.5,157.6 L890.6,159.0 L890.7,161.0 L890.8,163.0 L890.9,164.5 L891.0,165.7 L891.2,167.2 L891.3,168.5 L891.4,170.1 L891.5,172.1 L891.6,173.7 L891.7,174.3 L891.8,175.0 L891.9,176.4 L892.0,178.1 L892.1,180.0 L892.2,182.0 L892.3,183.1 L892.4,184.7 L892.5,186.5 L892.7,188.2 L892.8,189.6 L892.9,190.0 L893.0,190.8 L893.1,191.6 L893.2,193.6 L893.3,195.8 L893.4,197.7 L893.5,198.8 L893.6,201.0 L893.8,203.6 L893.9,205.6 L894.0,207.1 L894.1,208.3 L894.3,209.5 L894.4,210.4 L894.5,211.7 L894.7,213.1 L894.8,214.7 L894.9,215.8 L895.1,217.0 L895.2,218.9 L895.3,219.9 L895.5,221.5 L895.6,223.1 L895.7,225.1 L895.9,227.2 L896.0,228.2 L896.1,230.1 L896.2,231.7 L896.4,233.2 L896.5,235.5 L896.6,237.0 L896.8,238.3 L896.9,240.0 L897.0,241.1 L897.2,243.5 L897.3,245.5 L897.4,247.3 L897.6,248.5 L897.7,249.3 L897.8,250.6 L898.0,251.8 L898.1,253.7 L898.2,255.5 L898.4,256.3 L898.5,256.9 L898.7,258.5 L898.8,260.4 L899.0,262.0 L899.1,263.3 L899.3,265.0 L899.4,266.1 L899.6,267.5 L899.7,269.3 L899.9,270.7 L900.0,271.9 L900.2,273.2 L900.3,274.8 L900.5,276.3 L900.6,278.4 L900.8,280.3 L900.9,281.8 L901.1,282.1 L901.3,283.1 L901.5,284.8 L901.6,286.1 L901.8,288.0 L902.0,289.4 L902.2,290.6 L902.4,292.2 L902.6,294.0 L902.8,296.2 L903.0,297.6 L903.2,298.3 L903.4,299.3 L903.6,300.7 L903.8,302.3 L904.0,304.6 L904.2,306.5 L904.4,308.3 L904.6,309.4 L904.8,310.8 L905.0,312.0 L905.2,313.2 L905.4,313.8 L905.6,315.5 L905.8,317.7 L906.0,319.7 L906.2,321.8 L906.4,323.4 L906.6,324.6 L906.8,326.3 L907.0,327.7 L907.2,329.9 L907.4,331.4 L907.6,332.6 L907.8,334.0 L908.0,335.2 L908.2,336.3 L908.4,337.8 L908.6,339.3 L908.8,341.1 L909.0,342.4 L909.2,343.8 L909.4,345.5 L909.6,347.2 L909.8,348.0 L910.0,348.3 L910.2,350.0 L910.5,352.4 L910.8,354.8 L911.1,357.0 L911.4,358.4 L911.7,360.1 L912.0,361.2 L912.3,362.7 L912.6,364.4 L912.9,365.3 L913.2,366.8 L913.5,368.0 L913.8,369.1 L914.0,370.8 L914.3,372.9 L914.6,374.9 L914.9,376.4 L915.2,377.6 L915.5,378.8 L915.8,380.2 L916.1,381.6 L916.4,383.6 L916.7,385.0 L917.0,386.0 L917.3,386.7 L917.6,387.3 L917.9,388.7 L918.2,390.5 L918.6,391.9 L919.0,393.9 L919.4,394.9 L919.8,397.0 L920.3,398.3 L920.7,400.5 L921.1,402.5 L921.5,404.1 L921.9,404.9 L922.4,405.6 L922.8,406.5 L923.2,407.9 L923.6,409.3 L924.1,410.7 L924.5,412.0 L924.9,413.5 L925.3,415.8 L925.7,417.3 L926.2,418.3 L926.6,419.9 L927.0,421.8 L927.4,422.9 L927.9,423.5 L928.3,424.9 L928.7,427.1 L929.2,429.6 L929.6,430.5 L930.1,431.7 L930.5,432.5 L931.0,434.3 L931.4,435.6 L931.9,437.5 L932.3,439.1 L932.8,440.0 L933.2,441.4 L933.7,443.4 L934.1,445.8 L934.6,446.8 L935.0,447.6 L935.5,449.3 L936.0,451.1 L936.4,452.5 L936.9,454.2 L937.3,454.9 L937.8,455.7 L938.2,456.5 L938.7,457.9 L939.2,459.0 L939.7,459.8 L940.2,462.2 L940.7,464.7 L941.2,466.4 L941.8,467.8 L942.3,468.6 L942.8,470.6 L943.3,471.3 L943.8,473.3 L944.3,474.9 L944.8,476.2 L945.3,477.8 L945.8,478.6 L946.3,479.3 L946.8,480.0 L947.3,480.8 L947.8,482.4 L948.4,483.7 L948.9,485.5 L949.4,487.7 L949.9,489.9 L950.5,491.6 L951.0,493.1 L951.5,494.0 L952.0,495.1 L952.6,496.3 L953.1,498.2 L953.6,500.4 L954.2,502.2 L954.7,503.2 L955.2,503.8 L955.8,504.5 L956.3,505.7 L956.8,507.6 L957.3,509.8 L957.9,511.8 L958.4,513.3 L958.9,514.3 L959.6,515.0 L960.3,515.6 L961.0,516.5 L961.7,518.5 L962.4,519.9 L963.0,521.4 L963.7,522.8 L964.4,524.2 L965.1,524.9 L965.8,525.7 L966.5,526.9 L967.2,528.7 L967.8,530.1 L968.5,532.2 L969.3,533.6 L970.3,535.0 L971.3,536.6 L972.3,537.6 L973.3,538.3 L974.2,538.8 L975.2,540.0 L976.2,541.7 L977.2,543.3 L978.2,545.0 L979.2,545.7 L980.2,546.5 L980.9,548.8 L981.5,549.6 L982.1,550.7 L982.8,551.2 L983.4,552.6 L984.0,554.7 L984.7,556.4 L985.3,558.5 L985.9,559.6 L986.9,559.7 L988.3,560.1 L989.6,560.2 L991.0,560.5 L992.4,561.1 L993.7,561.1 L995.1,561.8 L996.5,562.3 L997.9,563.0 L999.1,564.2 L1000.4,564.5 L1001.6,565.3 L1002.8,566.3 L1004.0,568.0 L1005.2,570.1 L1006.5,571.3 L1007.7,572.6 L1008.9,573.3 L1010.1,573.5 L1011.3,574.1 L1012.5,575.1 L1013.7,576.0 L1014.9,576.8 L1016.1,577.0 L1017.3,577.8 L1018.5,578.5 L1019.7,580.5 L1020.9,582.1 L1022.2,583.5 L1023.5,584.1 L1024.8,584.8 L1026.2,584.4 L1027.5,584.3 L1028.8,585.6 L1030.1,586.8 L1031.5,587.7 L1032.6,588.7 L1033.5,589.8 L1034.4,590.6 L1035.3,591.6 L1036.2,592.8 L1037.1,594.1 L1038.0,594.8 L1038.9,596.2 L1039.8,598.0 L1040.8,599.2 L1042.2,600.4 L1043.7,601.2 L1045.1,601.5 L1046.6,601.1 L1048.0,600.3 L1049.4,600.3 L1050.9,599.8 L1052.3,600.0 L1053.8,601.0 L1055.2,602.1 L1056.7,602.4 L1058.2,602.7 L1059.6,603.6 L1061.1,604.6 L1062.5,605.1 L1063.9,605.3 L1065.2,605.7 L1066.6,606.1 L1067.9,607.3 L1069.2,608.3 L1070.6,608.5 L1071.9,609.0 L1073.3,609.8 L1074.6,610.0 L1076.1,610.0 L1077.6,610.7 L1079.0,610.8 L1080.5,611.5 L1081.9,612.6 L1083.4,613.3 L1084.9,613.5 L1086.3,613.8 L1087.7,614.0 L1089.2,614.8 L1090.6,615.0 L1092.0,615.8 L1093.5,616.0 L1094.9,616.2 L1096.3,616.6 L1097.7,617.2 L1099.2,617.6 L1100.7,618.2 L1102.2,618.6 L1103.7,618.4 L1105.2,618.2 L1106.7,618.1 L1108.2,618.4 L1109.7,618.8 L1111.2,619.3 L1112.6,619.5 L1114.0,619.4 L1115.5,619.8 L1116.9,620.2 L1118.4,620.9 L1119.8,621.1 L1121.3,621.3 L1122.7,621.5 L1124.2,621.7 L1125.6,622.3 L1127.1,622.9 L1128.6,623.2 L1130.1,623.4 L1131.6,623.2 L1133.1,623.0 L1134.6,622.9 L1136.1,623.3 L1137.6,623.5 L1139.1,623.6 L1140.6,623.7 L1142.0,623.9 L1143.5,624.6 L1144.9,624.9 L1146.4,625.5 L1147.8,626.0 L1149.3,626.5 L1150.8,626.9 L1152.2,627.2 L1153.7,627.6 L1155.1,627.9 L1156.6,628.3 L1158.1,628.3 L1159.6,628.4 L1161.1,628.6 L1162.6,628.8 L1164.1,629.1 L1165.6,629.1 L1167.1,629.3 L1168.6,629.3 L1170.1,629.5 L1171.6,629.7 L1173.1,629.9 L1174.5,630.2 L1176.0,630.3 L1177.5,630.4 L1179.0,630.4 L1180.5,630.4 L1182.0,630.8 L1183.5,631.1 L1184.9,631.4 L1186.4,631.7 L1187.9,631.9 L1189.4,632.1 L1190.9,632.3 L1192.4,632.6 L1193.9,632.5 L1195.4,632.5 L1196.9,632.5 L1198.4,632.9 L1199.9,633.2 L1201.4,633.2 L1202.9,633.1 L1204.4,633.1 L1205.9,633.1 L1207.4,633.0 L1208.9,633.1 L1210.4,633.2 L1211.9,633.3 L1213.4,633.4 L1214.9,633.5 L1216.4,633.6 L1217.9,633.7 L1219.4,633.7 L1220.9,633.9 L1222.4,633.9 L1223.9,633.9 L1225.4,633.9 L1226.9,634.1 L1228.4,634.4 L1229.9,634.6 L1231.4,634.8 L1232.9,635.0 L1234.4,635.1 L1235.9,634.9 L1237.4,634.8 L1238.9,634.9 L1240.4,635.0 L1241.9,635.1 L1243.4,635.2 L1244.9,635.4 L1246.4,635.5 L1247.9,635.5 L1249.4,635.6 L1250.9,635.6 L1252.4,635.4 L1254.0,635.2 L1255.5,635.2 L1257.0,635.3 L1258.5,635.5 L1260.0,635.4 L1261.5,635.4 L1263.0,635.2 L1264.5,635.3 L1266.0,635.4 L1267.5,635.7 L1269.0,635.8 L1270.5,636.0 L1272.0,636.0 L1273.5,636.0 L1275.0,635.9 L1276.5,635.9 L1278.0,635.8 L1279.5,635.8 L1281.0,635.7 L1282.5,635.6 L1284.0,635.5 L1285.5,635.6 L1287.0,635.6 L1288.5,635.6 L1290.0,635.4 L1291.5,635.5 L1293.0,635.5 L1294.5,635.6 L1296.0,635.7 L1297.5,635.6 L1299.0,635.6 L1300.6,635.5 L1302.1,635.5 L1303.6,635.6 L1305.1,635.8 L1306.6,635.6 L1308.1,635.6 L1309.6,635.6 L1311.1,635.9 L1312.6,635.9 L1314.1,636.1 L1315.6,636.3 L1317.1,636.3 L1318.6,636.0 L1320.1,635.9 L1321.6,635.7 L1323.1,636.0 L1324.6,636.0 L1326.1,635.9 L1327.6,636.0 L1329.1,636.0 L1330.6,636.1 L1332.1,636.2 L1333.6,636.4 L1335.1,636.5 L1336.6,636.6 L1338.1,636.6 L1339.6,636.6 L1341.1,636.7 L1342.6,636.6 L1344.1,636.6 L1345.6,636.4 L1347.1,636.2 L1348.6,636.0 L1350.1,636.0 L1351.7,636.1 L1353.2,636.1 L1354.7,636.0 L1356.2,636.0 L1357.7,635.9 L1359.2,635.9 L1360.7,635.8 L1362.2,635.9 L1363.7,635.9 L1365.2,635.9 L1366.7,635.9 L1368.2,636.1 L1369.7,636.1 L1371.2,636.2 L1372.7,636.3 L1374.2,636.4 L1375.7,636.7 L1377.2,636.7 L1378.7,636.6 L1380.2,636.6 L1381.7,636.4 L1383.2,636.4 L1384.7,636.3 L1386.2,636.3 L1387.7,636.3 L1389.2,636.2 L1390.7,636.0 L1392.2,635.9 L1393.7,635.9 L1395.2,636.1 L1396.7,636.2 L1398.3,636.2 L1399.8,636.1 L1401.3,635.9 L1402.8,636.1 L1404.3,636.3 L1405.8,636.5 L1407.3,636.6 L1408.8,636.5 L1410.3,636.5 L1411.8,636.5 L1413.3,636.4 L1414.8,636.3 L1416.3,636.2 L1417.8,636.3 L1419.3,636.3 L1420.8,636.4 L1422.3,636.6 L1423.8,636.7 L1425.3,636.6 L1426.8,636.4 L1428.3,636.4 L1429.8,636.5 L1431.3,636.6 L1432.8,636.6 L1434.3,636.6 L1435.8,636.7 L1437.3,636.5 L1438.8,636.6 L1440.3,636.5 L1441.8,636.6 L1443.3,636.5 L1444.8,636.5 L1446.4,636.4 L1447.9,636.6 L1449.4,636.6 L1450.9,636.6 L1452.4,636.5 L1453.9,636.4 L1455.4,636.4 L1456.9,636.6 L1458.4,636.9 L1459.9,636.9 L1461.4,636.9 L1462.9,636.9 L1464.4,636.8 L1465.9,636.8 L1467.4,636.8 L1468.9,636.8"/>
<path class="c" stroke="#3ab54a" d="M884.9,14.1 L885.0,15.6 L885.0,17.1 L885.1,18.6 L885.2,20.1 L885.2,21.6 L885.3,23.1 L885.3,24.6 L885.4,26.1 L885.5,27.6 L885.5,29.1 L885.6,30.6 L885.6,32.1 L885.7,33.6 L885.7,35.1 L885.7,36.6 L885.8,38.1 L885.8,39.6 L885.8,41.1 L885.9,42.7 L885.9,44.2 L886.0,45.7 L886.0,47.2 L886.0,48.7 L886.1,50.2 L886.1,51.7 L886.1,53.2 L886.2,54.7 L886.2,56.2 L886.2,57.7 L886.3,59.2 L886.3,60.7 L886.4,62.2 L886.4,63.7 L886.4,65.2 L886.5,66.7 L886.5,68.2 L886.5,69.7 L886.6,71.2 L886.6,72.7 L886.6,74.2 L886.7,75.7 L886.7,77.2 L886.7,78.6 L886.8,80.2 L886.8,81.8 L886.9,83.3 L887.0,84.9 L887.0,86.3 L887.1,87.8 L887.1,89.2 L887.2,90.6 L887.3,91.9 L887.3,93.3 L887.4,94.8 L887.5,96.3 L887.5,98.0 L887.6,99.6 L887.6,101.0 L887.7,102.7 L887.8,104.1 L887.8,105.5 L887.9,106.6 L888.0,108.2 L888.0,109.8 L888.1,111.5 L888.1,113.8 L888.2,115.6 L888.3,117.5 L888.3,118.9 L888.4,120.5 L888.5,122.3 L888.5,123.5 L888.6,125.3 L888.6,126.6 L888.7,127.2 L888.8,128.4 L888.8,129.6 L888.9,131.0 L888.9,132.7 L889.0,133.9 L889.1,136.2 L889.1,137.2 L889.2,138.5 L889.3,139.8 L889.3,141.6 L889.4,143.8 L889.5,145.9 L889.7,147.2 L889.8,147.9 L889.9,148.6 L890.0,149.9 L890.1,151.6 L890.2,153.4 L890.3,155.3 L890.4,156.7 L890.5,158.1 L890.6,159.1 L890.7,160.7 L890.8,162.0 L890.9,163.8 L891.0,165.0 L891.1,166.5 L891.2,167.8 L891.3,168.6 L891.4,169.6 L891.5,170.3 L891.6,172.2 L891.7,173.5 L891.8,176.0 L892.0,177.6 L892.1,178.8 L892.2,180.1 L892.3,181.8 L892.4,184.1 L892.5,186.3 L892.6,188.0 L892.7,190.0 L892.8,192.1 L892.9,193.9 L893.0,195.0 L893.1,196.1 L893.2,197.5 L893.3,198.7 L893.4,199.7 L893.5,201.3 L893.7,203.1 L893.8,204.1 L893.9,205.3 L894.1,206.8 L894.2,208.8 L894.3,210.4 L894.5,212.3 L894.6,214.4 L894.7,215.5 L894.9,216.9 L895.0,218.1 L895.1,220.1 L895.3,221.7 L895.4,223.3 L895.5,224.6 L895.7,225.9 L895.8,226.4 L895.9,228.1 L896.1,229.0 L896.2,231.1 L896.4,232.7 L896.5,234.3 L896.6,235.0 L896.8,236.4 L896.9,238.6 L897.0,241.1 L897.2,243.0 L897.3,244.5 L897.4,245.8 L897.6,247.5 L897.7,250.2 L897.8,251.3 L898.0,252.9 L898.1,253.1 L898.3,254.2 L898.5,255.5 L898.6,257.3 L898.8,259.6 L899.0,261.0 L899.2,263.0 L899.4,265.1 L899.5,265.8 L899.7,266.3 L899.9,267.3 L900.1,268.9 L900.2,270.8 L900.4,272.6 L900.6,274.1 L900.8,274.8 L900.9,275.7 L901.1,277.2 L901.3,278.7 L901.5,279.4 L901.8,281.1 L902.1,283.0 L902.3,284.9 L902.6,286.6 L902.9,288.2 L903.2,290.0 L903.5,292.5 L903.8,294.7 L904.0,297.2 L904.3,298.5 L904.6,299.9 L904.9,300.8 L905.2,301.4 L905.5,302.7 L905.8,304.2 L906.0,306.2 L906.3,306.8 L906.6,307.8 L906.9,308.9 L907.2,311.1 L907.5,313.0 L907.8,314.0 L908.1,315.0 L908.4,316.5 L908.6,318.1 L908.9,319.8 L909.2,320.9 L909.5,322.8 L909.9,324.2 L910.2,325.8 L910.5,326.9 L910.8,329.2 L911.1,330.8 L911.5,333.3 L911.8,334.8 L912.1,335.9 L912.4,336.4 L912.7,337.7 L913.0,339.1 L913.4,340.1 L913.7,341.1 L914.0,343.4 L914.3,345.3 L914.6,346.9 L915.0,348.3 L915.3,350.2 L915.6,351.8 L915.9,352.2 L916.2,353.0 L916.6,353.4 L916.9,355.0 L917.2,356.2 L917.5,357.4 L917.8,359.7 L918.2,361.3 L918.6,362.6 L918.9,363.9 L919.3,365.4 L919.7,367.6 L920.1,368.6 L920.5,371.3 L920.8,374.0 L921.2,374.8 L921.6,375.6 L922.0,376.4 L922.3,377.4 L922.7,378.8 L923.1,380.7 L923.5,382.9 L923.8,384.4 L924.2,385.6 L924.6,387.8 L925.0,389.2 L925.3,390.8 L925.7,393.3 L926.1,395.5 L926.5,397.3 L927.0,398.1 L927.4,398.6 L927.9,399.2 L928.3,399.6 L928.7,401.2 L929.2,403.2 L929.6,404.7 L930.1,405.9 L930.5,406.3 L931.0,406.7 L931.4,408.1 L931.9,409.3 L932.3,411.2 L932.7,413.4 L933.2,415.6 L933.6,418.6 L934.1,420.3 L934.5,421.9 L935.0,423.2 L935.4,424.2 L935.9,426.0 L936.3,427.2 L936.8,428.8 L937.2,429.4 L937.6,430.0 L938.1,430.5 L938.5,432.0 L939.0,433.1 L939.4,434.7 L939.9,436.3 L940.3,438.0 L940.8,439.7 L941.2,441.6 L941.7,443.1 L942.1,444.7 L942.6,445.9 L943.0,448.0 L943.5,449.6 L943.9,451.2 L944.4,452.6 L944.9,454.3 L945.5,456.1 L946.1,457.0 L946.7,458.0 L947.2,458.9 L947.8,460.0 L948.4,460.5 L949.0,461.9 L949.5,463.4 L950.1,465.8 L950.3,467.7 L950.6,469.9 L950.9,471.4 L951.2,472.7 L951.4,474.5 L951.7,475.3 L952.0,476.0 L952.3,477.0 L952.8,478.7 L953.3,480.6 L953.8,481.8 L954.3,482.7 L954.9,484.1 L955.4,484.7 L955.9,486.6 L956.4,489.0 L956.9,491.5 L957.5,492.8 L958.0,494.0 L958.5,495.5 L959.0,496.6 L959.5,497.5 L960.0,498.1 L960.6,499.4 L961.3,499.7 L962.1,501.1 L962.8,502.7 L963.6,504.5 L964.3,505.4 L965.1,507.5 L965.8,508.5 L966.6,510.0 L967.3,511.3 L968.1,513.4 L968.8,515.0 L969.8,515.8 L970.8,516.8 L971.7,518.5 L972.7,519.5 L973.7,520.6 L974.7,522.1 L975.6,523.5 L976.6,525.1 L977.6,525.7 L978.7,525.8 L980.1,526.5 L981.5,527.2 L982.9,528.4 L984.3,529.2 L985.7,530.0 L987.1,530.3 L988.4,529.7 L989.2,530.8 L990.0,532.0 L990.8,533.6 L991.6,534.5 L992.4,535.1 L993.2,536.6 L994.0,538.1 L994.8,539.7 L995.8,540.9 L996.9,541.9 L998.1,542.8 L999.2,543.1 L1000.3,543.7 L1001.5,544.8 L1002.6,546.0 L1003.6,546.7 L1004.3,548.3 L1005.0,549.6 L1005.7,551.2 L1006.4,552.8 L1007.1,554.1 L1007.8,554.9 L1008.5,555.9 L1009.2,557.3 L1010.3,558.7 L1011.6,558.8 L1013.0,559.5 L1014.3,560.6 L1015.7,560.9 L1017.0,560.2 L1018.3,560.8 L1019.1,562.5 L1019.8,565.6 L1020.5,567.8 L1021.2,568.9 L1021.8,569.5 L1022.5,570.1 L1023.2,572.3 L1023.9,574.5 L1024.8,574.9 L1026.1,575.3 L1027.4,576.0 L1028.7,577.1 L1029.9,578.0 L1031.2,579.6 L1032.5,580.5 L1033.4,581.9 L1034.2,582.7 L1035.1,583.6 L1035.9,585.2 L1036.8,585.9 L1037.7,586.6 L1038.5,587.7 L1039.4,588.5 L1040.3,590.1 L1041.5,591.4 L1042.9,592.2 L1044.2,593.2 L1045.6,593.0 L1046.9,594.2 L1048.2,594.7 L1049.6,594.6 L1051.0,595.2 L1052.5,595.9 L1054.0,596.5 L1055.5,596.8 L1057.0,596.3 L1058.5,596.5 L1060.0,596.4 L1061.5,596.8 L1063.0,597.4 L1064.4,598.2 L1065.9,598.9 L1067.3,599.4 L1068.7,598.7 L1070.1,597.4 L1071.6,596.6 L1073.0,596.4 L1074.4,597.4 L1075.9,598.1 L1077.4,599.3 L1078.9,600.1 L1080.4,601.2 L1081.9,601.7 L1083.4,602.1 L1084.9,601.8 L1086.4,601.9 L1087.9,602.1 L1089.3,602.4 L1090.8,602.7 L1092.2,603.0 L1093.7,603.3 L1095.1,604.1 L1096.6,604.4 L1098.1,604.3 L1099.4,604.0 L1100.8,604.1 L1102.1,604.1 L1103.5,604.5 L1104.8,605.3 L1106.2,606.6 L1107.5,607.6 L1108.9,609.0 L1110.2,609.9 L1111.6,610.8 L1112.9,612.0 L1114.2,612.8 L1115.6,613.8 L1116.9,614.7 L1118.3,615.4 L1119.6,616.1 L1121.0,616.5 L1122.3,616.6 L1123.7,616.9 L1125.1,616.7 L1126.5,617.0 L1128.0,617.2 L1129.5,618.0 L1131.0,618.8 L1132.4,619.3 L1133.9,618.9 L1135.4,618.8 L1136.9,618.7 L1138.4,618.9 L1139.8,619.3 L1141.3,620.0 L1142.8,620.6 L1144.3,620.7 L1145.8,620.9 L1147.3,621.2 L1148.8,621.3 L1150.3,621.1 L1151.8,621.3 L1153.3,621.5 L1154.8,621.4 L1156.3,621.3 L1157.8,621.5 L1159.3,621.5 L1160.8,622.0 L1162.3,622.5 L1163.7,622.9 L1165.2,623.4 L1166.7,623.7 L1168.2,624.2 L1169.7,623.8 L1171.2,623.6 L1172.7,623.7 L1174.2,624.1 L1175.6,624.5 L1177.1,624.8 L1178.6,624.8 L1180.1,625.0 L1181.6,625.1 L1183.1,625.7 L1184.6,626.0 L1186.1,626.2 L1187.6,626.4 L1189.1,626.5 L1190.6,626.6 L1192.0,626.7 L1193.5,626.8 L1195.0,626.9 L1196.5,626.9 L1198.0,627.2 L1199.5,627.7 L1201.0,627.9 L1202.5,627.6 L1204.0,627.5 L1205.5,627.4 L1207.0,627.5 L1208.5,627.3 L1209.9,626.9 L1211.4,627.6 L1212.9,628.0 L1214.3,628.4 L1215.8,628.6 L1217.2,628.8 L1218.7,629.0 L1220.2,629.3 L1221.6,629.7 L1223.1,630.1 L1224.5,630.2 L1226.0,630.3 L1227.5,630.2 L1229.0,630.0 L1230.5,630.1 L1232.0,630.4 L1233.5,630.6 L1235.0,630.4 L1236.5,630.3 L1238.0,629.9 L1239.5,629.8 L1241.0,629.4 L1242.5,629.5 L1243.9,630.1 L1245.4,630.4 L1246.9,630.9 L1248.4,631.4 L1249.9,631.7 L1251.4,631.6 L1252.9,631.4 L1254.4,631.1 L1255.9,631.1 L1257.4,630.9 L1258.9,630.8 L1260.4,630.4 L1261.9,630.2 L1263.4,629.8 L1264.9,629.8 L1266.4,630.0 L1267.9,630.3 L1269.4,630.5 L1270.9,630.4 L1272.4,630.4 L1273.9,630.2 L1275.4,630.2 L1276.9,630.2 L1278.4,630.0 L1279.9,629.9 L1281.4,630.0 L1282.9,630.0 L1284.4,630.1 L1285.9,629.9 L1287.4,629.8 L1288.9,629.8 L1290.4,629.9 L1291.9,630.0 L1293.4,629.8 L1294.9,629.7 L1296.4,629.4 L1297.9,629.3 L1299.5,629.4 L1301.0,629.8 L1302.4,630.1 L1303.9,630.3 L1305.4,630.2 L1306.9,630.3 L1308.4,630.4 L1309.9,630.6 L1311.4,630.7 L1312.9,630.8 L1314.4,630.9 L1315.9,631.1 L1317.4,631.3 L1318.9,631.5 L1320.4,631.6 L1321.9,631.5 L1323.4,631.3 L1324.9,631.1 L1326.4,630.9 L1327.9,630.8 L1329.4,630.7 L1330.9,630.9 L1332.3,631.1 L1333.8,631.2 L1335.3,631.3 L1336.8,631.5 L1338.3,631.9 L1339.7,632.3 L1341.2,632.8 L1342.7,633.0 L1344.2,633.1 L1345.7,633.0 L1347.2,633.0 L1348.7,633.2 L1350.2,633.3 L1351.7,633.3 L1353.2,633.2 L1354.7,633.0 L1356.2,632.7 L1357.7,632.7 L1359.2,632.9 L1360.7,633.3 L1362.2,633.6 L1363.7,633.6 L1365.2,633.6 L1366.7,633.5 L1368.2,633.3 L1369.7,633.4 L1371.2,633.5 L1372.7,633.5 L1374.2,633.8 L1375.8,633.9 L1377.3,633.9 L1378.8,634.0 L1380.3,634.1 L1381.8,634.2 L1383.3,634.2 L1384.8,634.0 L1386.3,633.8 L1387.8,633.6 L1389.3,633.6 L1390.8,633.5 L1392.3,633.4 L1393.8,633.5 L1395.3,633.7 L1396.8,633.8 L1398.3,634.0 L1399.8,634.0 L1401.3,633.8 L1402.8,633.7 L1404.3,633.6 L1405.8,634.0 L1407.3,634.2 L1408.8,634.1 L1410.3,633.8 L1411.8,633.7 L1413.3,633.9 L1414.8,634.3 L1416.3,634.4 L1417.9,634.3 L1419.4,634.2 L1420.9,634.0 L1422.4,634.1 L1423.9,633.9 L1425.4,633.8 L1426.9,633.7 L1428.4,633.5 L1429.9,633.4 L1431.4,633.4 L1432.9,633.5 L1434.4,633.6 L1435.9,633.4 L1437.4,633.4 L1438.9,633.2 L1440.4,633.3 L1441.9,633.5 L1443.4,633.5 L1444.9,633.5 L1446.4,633.4 L1447.9,633.6 L1449.4,633.9 L1450.9,634.0 L1452.4,633.9 L1453.9,634.0 L1455.4,634.0 L1456.9,634.3 L1458.4,634.4 L1459.9,634.2 L1461.4,634.0 L1462.9,634.1 L1464.4,634.4 L1465.9,634.4 L1467.4,634.4 L1468.9,634.4"/>
</g>
<rect class="ax" x="884.9" y="14.2" width="584.0" height="623.0"/>
<text class="t" transform="translate(869.7,652.8) scale(1,1.04)" text-anchor="end">0.0</text>
<text class="t" transform="translate(869.7,528.2) scale(1,1.04)" text-anchor="end">0.2</text>
<text class="t" transform="translate(869.7,403.6) scale(1,1.04)" text-anchor="end">0.4</text>
<text class="t" transform="translate(869.7,279.0) scale(1,1.04)" text-anchor="end">0.6</text>
<text class="t" transform="translate(869.7,154.4) scale(1,1.04)" text-anchor="end">0.8</text>
<text class="t" transform="translate(869.7,29.8) scale(1,1.04)" text-anchor="end">1.0</text>
<text class="t" transform="translate(884.9,681.6) scale(1,1.04)" text-anchor="middle">0</text>
<text class="t" transform="translate(1079.6,681.6) scale(1,1.04)" text-anchor="middle">100</text>
<text class="t" transform="translate(1274.2,681.6) scale(1,1.04)" text-anchor="middle">200</text>
<text class="t" transform="translate(1468.9,681.6) scale(1,1.04)" text-anchor="middle">300</text>
<path class="ax" d="M884.9,637.2h-7.6M884.9,512.6h-7.6M884.9,388.0h-7.6M884.9,263.4h-7.6M884.9,138.8h-7.6M884.9,14.2h-7.6M884.9,637.2v7.6M1079.6,637.2v7.6M1274.2,637.2v7.6M1468.9,637.2v7.6"/>
<text class="t" transform="translate(1176.9,728.8) scale(1,1.04)" text-anchor="middle"><tspan class="it">k</tspan>th iteration</text>
<g transform="translate(797.7,328.7) rotate(-90)">
<text y="0"><tspan class="cal" x="-49" font-size="42">𝒲</tspan><tspan x="-3" font-size="48">(</tspan><tspan class="it" dx="1" font-size="45">k</tspan><tspan dx="1" font-size="48">)</tspan></text>
</g>
<text y="72.3" style="fill:#7f0000"><tspan class="it" x="1308.1" font-size="46" textLength="20.05" lengthAdjust="spacingAndGlyphs">r</tspan> <tspan x="1341.0" dy="2.0" font-size="38" textLength="35.1" lengthAdjust="spacingAndGlyphs">=</tspan> <tspan x="1386.6" dy="-2.0" font-size="44.5">0.8</tspan></text>
<path class="ar" d="M944.3,452.4L998.2,422.7"/>
<path d="M1010.0,416.2L998.7,434.1L998.2,422.7L988.9,416.2Z" fill="#000"/>
<circle cx="944.3" cy="452.4" r="3.85" fill="#000"/>
<path class="ar" d="M980.7,545.2L1039.6,494.2"/>
<path d="M1049.8,485.4L1042.5,505.2L1039.6,494.2L1029.1,489.8Z" fill="#000"/>
<circle cx="980.7" cy="545.2" r="3.85" fill="#000"/>
<path class="ar" d="M1003.8,610.4L1105.0,541.3"/>
<path d="M1116.2,533.7L1106.7,552.6L1105.0,541.3L1095.2,535.7Z" fill="#000"/>
<circle cx="1003.8" cy="610.4" r="3.85" fill="#000"/>
<text y="412.9"><tspan class="it" x="1015.4" font-size="44" textLength="22.5" lengthAdjust="spacingAndGlyphs">ν</tspan> <tspan x="1050.1" dy="2.6" font-size="38" textLength="34.9" lengthAdjust="spacingAndGlyphs">=</tspan> <tspan x="1096.0" dy="-2.6" font-size="43.5">2</tspan></text>
<text y="480.2"><tspan class="it" x="1050.4" font-size="44" textLength="22.5" lengthAdjust="spacingAndGlyphs">ν</tspan> <tspan x="1085.1" dy="2.6" font-size="38" textLength="34.9" lengthAdjust="spacingAndGlyphs">=</tspan> <tspan x="1131.0" dy="-2.6" font-size="43.5">1.5</tspan></text>
<text y="538.6"><tspan class="it" x="1122.0" font-size="44" textLength="22.5" lengthAdjust="spacingAndGlyphs">ν</tspan> <tspan x="1156.7" dy="2.6" font-size="38" textLength="34.9" lengthAdjust="spacingAndGlyphs">=</tspan> <tspan x="1202.6" dy="-2.6" font-size="43.5">1</tspan></text>
</g>
<g id="panel3">
<clipPath id="cp3"><rect x="120.7" y="778.0" width="584.6" height="623.0"/></clipPath>
<g clip-path="url(#cp3)">
<path class="c" stroke="#0a70bd" d="M121.0,778.3 L121.0,779.8 L121.1,781.3 L121.1,782.8 L121.2,784.3 L121.2,785.8 L121.2,787.3 L121.3,788.8 L121.3,790.3 L121.4,791.8 L121.4,793.3 L121.5,794.8 L121.5,796.3 L121.5,797.8 L121.6,799.3 L121.6,800.8 L121.6,802.3 L121.7,803.8 L121.7,805.3 L121.8,806.8 L121.8,808.3 L121.8,809.8 L121.9,811.3 L121.9,812.8 L121.9,814.3 L122.0,815.9 L122.0,817.4 L122.0,818.9 L122.1,820.4 L122.1,821.9 L122.1,823.4 L122.2,824.9 L122.2,826.4 L122.2,827.9 L122.3,829.4 L122.3,830.9 L122.4,832.4 L122.4,833.9 L122.4,835.4 L122.5,836.9 L122.5,838.4 L122.6,839.9 L122.6,841.4 L122.7,842.9 L122.7,844.3 L122.7,845.8 L122.8,847.3 L122.8,848.8 L122.9,850.3 L122.9,851.8 L123.0,853.3 L123.0,854.8 L123.0,856.3 L123.1,857.9 L123.1,859.6 L123.2,861.1 L123.2,862.7 L123.3,864.1 L123.3,865.6 L123.3,866.9 L123.4,868.4 L123.4,869.9 L123.5,871.3 L123.5,872.8 L123.6,874.5 L123.6,876.3 L123.6,878.0 L123.7,879.4 L123.7,880.8 L123.8,882.2 L123.8,883.6 L123.8,885.0 L123.9,886.3 L123.9,887.8 L124.0,889.2 L124.0,890.7 L124.1,892.3 L124.2,893.9 L124.2,895.5 L124.3,897.0 L124.4,898.7 L124.4,900.4 L124.5,901.9 L124.5,903.4 L124.6,904.8 L124.7,906.4 L124.7,908.0 L124.8,909.5 L124.9,910.8 L124.9,912.0 L125.0,913.4 L125.1,915.0 L125.1,916.4 L125.2,918.1 L125.3,919.5 L125.3,921.1 L125.4,922.7 L125.5,924.1 L125.5,925.6 L125.6,927.2 L125.7,928.7 L125.7,930.4 L125.8,931.9 L125.8,933.4 L125.9,934.8 L126.0,936.2 L126.0,937.6 L126.1,939.1 L126.2,940.8 L126.2,942.5 L126.3,943.8 L126.4,945.2 L126.4,946.6 L126.5,948.1 L126.6,949.3 L126.6,951.0 L126.7,952.6 L126.8,954.2 L126.9,955.7 L127.0,957.1 L127.1,958.5 L127.2,960.1 L127.3,961.5 L127.4,963.2 L127.5,964.5 L127.6,966.1 L127.7,967.5 L127.8,969.2 L127.9,970.6 L128.0,972.0 L128.1,973.6 L128.2,975.1 L128.3,976.6 L128.4,978.0 L128.5,979.8 L128.6,981.4 L128.7,982.7 L128.8,984.2 L128.9,985.6 L129.0,987.0 L129.1,988.5 L129.2,990.4 L129.3,991.8 L129.4,992.9 L129.5,994.3 L129.6,995.9 L129.7,997.2 L129.8,998.4 L129.9,999.5 L130.0,1001.1 L130.0,1002.6 L130.1,1004.2 L130.2,1005.9 L130.2,1007.4 L130.3,1008.9 L130.3,1010.3 L130.4,1011.5 L130.5,1013.2 L130.5,1015.0 L130.6,1016.8 L130.7,1018.4 L130.7,1019.8 L130.8,1021.5 L130.9,1023.2 L130.9,1024.8 L131.0,1026.5 L131.0,1027.7 L131.1,1029.1 L131.2,1030.2 L131.2,1032.0 L131.3,1033.5 L131.4,1035.0 L131.4,1036.4 L131.5,1038.3 L131.5,1039.9 L131.6,1041.4 L131.7,1042.8 L131.7,1044.3 L131.8,1045.6 L131.9,1046.8 L131.9,1048.0 L132.0,1049.5 L132.1,1050.9 L132.1,1052.4 L132.2,1054.1 L132.3,1055.8 L132.4,1057.7 L132.5,1059.0 L132.6,1060.5 L132.6,1061.9 L132.7,1063.6 L132.8,1065.1 L132.9,1066.6 L133.0,1068.1 L133.1,1069.9 L133.2,1071.2 L133.3,1072.7 L133.5,1074.0 L133.6,1075.7 L133.8,1076.9 L133.9,1078.4 L134.1,1079.7 L134.2,1081.1 L134.4,1082.6 L134.5,1084.3 L134.7,1086.2 L134.8,1087.9 L134.9,1089.2 L135.1,1090.4 L135.3,1091.9 L135.5,1093.4 L135.6,1094.7 L135.8,1096.2 L136.0,1097.7 L136.2,1099.3 L136.4,1100.6 L136.5,1102.1 L136.7,1103.5 L136.9,1105.0 L137.1,1106.3 L137.3,1107.8 L137.4,1109.2 L137.6,1111.0 L137.8,1112.7 L138.0,1114.3 L138.2,1115.9 L138.4,1117.5 L138.5,1119.0 L138.7,1120.4 L138.9,1121.8 L139.1,1123.4 L139.3,1124.9 L139.4,1126.6 L139.6,1128.2 L139.8,1129.7 L140.0,1131.2 L140.2,1132.4 L140.3,1133.7 L140.5,1135.2 L140.7,1136.9 L140.9,1138.8 L141.1,1140.3 L141.3,1141.7 L141.5,1142.9 L141.7,1144.3 L141.9,1145.9 L142.1,1147.2 L142.3,1148.4 L142.5,1149.8 L142.7,1151.3 L142.9,1153.0 L143.1,1154.6 L143.3,1155.8 L143.5,1157.5 L143.8,1158.9 L144.0,1160.7 L144.2,1162.3 L144.4,1163.8 L144.6,1165.5 L144.8,1166.9 L145.0,1168.3 L145.2,1169.7 L145.4,1171.0 L145.6,1172.7 L145.8,1174.2 L146.0,1175.9 L146.2,1177.4 L146.5,1178.6 L146.7,1180.2 L146.9,1181.6 L147.1,1183.2 L147.3,1184.6 L147.5,1186.3 L147.7,1187.9 L147.9,1189.4 L148.1,1190.5 L148.4,1191.9 L148.6,1193.2 L148.9,1194.6 L149.1,1195.7 L149.4,1197.2 L149.7,1198.7 L149.9,1200.2 L150.2,1201.6 L150.5,1203.1 L150.7,1204.7 L151.0,1206.0 L151.3,1207.4 L151.5,1208.8 L151.8,1210.0 L152.1,1211.5 L152.3,1213.1 L152.6,1214.9 L152.9,1216.8 L153.1,1218.7 L153.4,1220.3 L153.7,1221.7 L153.9,1223.0 L154.2,1224.2 L154.5,1225.4 L154.7,1226.5 L155.0,1227.6 L155.2,1228.8 L155.5,1230.5 L155.8,1232.6 L156.0,1234.3 L156.3,1235.8 L156.6,1237.5 L156.8,1239.1 L157.1,1240.5 L157.4,1241.9 L157.8,1243.5 L158.2,1245.1 L158.6,1246.7 L159.0,1248.1 L159.4,1249.4 L159.8,1250.6 L160.2,1252.2 L160.5,1253.7 L160.9,1255.1 L161.3,1256.4 L161.7,1257.6 L162.1,1258.9 L162.5,1260.3 L162.9,1261.7 L163.3,1263.2 L163.6,1265.2 L164.0,1266.9 L164.4,1268.7 L164.8,1269.8 L165.2,1271.1 L165.6,1272.3 L166.0,1274.0 L166.4,1275.4 L166.9,1277.0 L167.4,1278.3 L168.0,1279.7 L168.5,1280.8 L169.0,1281.8 L169.5,1283.0 L170.1,1284.5 L170.6,1286.2 L171.1,1288.0 L171.6,1289.6 L172.2,1290.9 L172.7,1292.3 L173.2,1293.6 L173.7,1295.0 L174.3,1296.4 L174.8,1297.9 L175.3,1299.1 L176.0,1300.6 L176.7,1301.7 L177.4,1303.5 L178.1,1304.8 L178.8,1306.2 L179.5,1307.6 L180.1,1309.2 L180.6,1310.4 L181.1,1311.4 L181.6,1312.4 L182.0,1314.0 L182.5,1315.4 L183.0,1316.5 L183.5,1317.9 L183.9,1319.3 L184.4,1321.0 L184.9,1322.8 L185.6,1324.2 L186.5,1325.6 L187.3,1327.0 L188.2,1327.9 L189.0,1329.4 L189.9,1330.3 L190.7,1331.4 L191.5,1332.5 L192.4,1333.6 L193.2,1334.8 L194.1,1336.0 L195.1,1337.4 L196.1,1339.0 L197.2,1339.9 L198.3,1340.7 L199.4,1341.5 L200.4,1342.7 L201.5,1344.1 L202.6,1345.2 L203.7,1346.2 L204.7,1347.2 L205.8,1348.5 L206.9,1349.8 L208.0,1350.8 L209.0,1351.4 L210.1,1352.2 L211.2,1353.4 L212.3,1354.6 L213.4,1355.8 L214.5,1356.6 L215.6,1357.7 L216.7,1358.7 L217.8,1359.9 L218.9,1361.0 L219.9,1361.7 L221.1,1362.3 L222.2,1363.5 L223.4,1364.6 L224.5,1365.8 L225.7,1366.4 L226.9,1367.2 L228.0,1368.3 L229.2,1369.2 L230.3,1370.3 L231.5,1371.0 L232.7,1372.0 L234.1,1372.5 L235.5,1373.0 L236.9,1373.6 L238.2,1374.4 L239.6,1374.8 L241.0,1375.3 L242.4,1376.0 L243.8,1376.9 L245.1,1377.8 L246.5,1378.5 L248.0,1378.8 L249.4,1378.9 L250.9,1379.1 L252.3,1379.5 L253.8,1380.2 L255.2,1380.8 L256.6,1381.3 L258.1,1381.6 L259.5,1381.9 L261.0,1382.2 L262.5,1382.5 L263.9,1382.6 L265.4,1382.9 L266.9,1383.2 L268.3,1383.7 L269.8,1383.9 L271.2,1384.6 L272.6,1385.2 L274.0,1385.9 L275.4,1386.4 L276.7,1387.0 L278.1,1387.6 L279.5,1388.3 L280.9,1388.8 L282.2,1389.3 L283.6,1389.8 L285.0,1390.3 L286.4,1390.9 L287.9,1391.1 L289.4,1391.2 L290.9,1391.3 L292.4,1391.5 L293.9,1391.5 L295.4,1391.6 L296.9,1391.7 L298.4,1391.8 L299.9,1391.9 L301.4,1392.0 L302.9,1392.0 L304.4,1392.0 L305.9,1392.2 L307.4,1392.3 L308.9,1392.4 L310.4,1392.5 L311.9,1392.7 L313.4,1393.0 L314.9,1393.1 L316.4,1393.2 L317.9,1393.3 L319.4,1393.3 L320.8,1393.4 L322.3,1393.6 L323.8,1393.7 L325.3,1393.9 L326.8,1394.0 L328.3,1394.2 L329.8,1394.4 L331.3,1394.5 L332.8,1394.6 L334.3,1394.7 L335.8,1394.8 L337.3,1395.0 L338.8,1395.0 L340.3,1395.1 L341.8,1395.2 L343.3,1395.3 L344.8,1395.4 L346.3,1395.5 L347.8,1395.6 L349.3,1395.7 L350.8,1395.8 L352.3,1396.0 L353.8,1396.1 L355.3,1396.2 L356.8,1396.3 L358.3,1396.4 L359.8,1396.6 L361.3,1396.8 L362.8,1396.9 L364.3,1397.0 L365.8,1397.1 L367.3,1397.2 L368.8,1397.3 L370.3,1397.3 L371.8,1397.4 L373.3,1397.5 L374.8,1397.7 L376.3,1397.8 L377.8,1398.0 L379.3,1398.1 L380.8,1398.2 L382.3,1398.2 L383.8,1398.2 L385.3,1398.2 L386.8,1398.2 L388.3,1398.2 L389.8,1398.2 L391.3,1398.3 L392.8,1398.4 L394.3,1398.4 L395.8,1398.4 L397.3,1398.5 L398.8,1398.5 L400.3,1398.5 L401.8,1398.5 L403.3,1398.6 L404.8,1398.7 L406.3,1398.7 L407.8,1398.8 L409.3,1398.9 L410.8,1399.0 L412.3,1399.1 L413.8,1399.1 L415.3,1399.2 L416.8,1399.1 L418.3,1399.1 L419.8,1399.2 L421.3,1399.3 L422.8,1399.3 L424.3,1399.4 L425.8,1399.4 L427.3,1399.3 L428.8,1399.2 L430.3,1399.2 L431.8,1399.2 L433.3,1399.2 L434.8,1399.2 L436.4,1399.3 L437.9,1399.3 L439.4,1399.3 L440.9,1399.4 L442.4,1399.4 L443.9,1399.4 L445.4,1399.4 L446.9,1399.4 L448.4,1399.4 L449.9,1399.5 L451.4,1399.5 L452.9,1399.6 L454.4,1399.5 L455.9,1399.5 L457.4,1399.5 L458.9,1399.6 L460.4,1399.5 L461.9,1399.4 L463.4,1399.3 L464.9,1399.3 L466.4,1399.3 L467.9,1399.4 L469.4,1399.4 L470.9,1399.5 L472.4,1399.6 L473.9,1399.6 L475.4,1399.6 L476.9,1399.5 L478.4,1399.4 L479.9,1399.4 L481.4,1399.5 L482.9,1399.6 L484.4,1399.6 L485.9,1399.6 L487.4,1399.6 L488.9,1399.6 L490.4,1399.7 L491.9,1399.7 L493.4,1399.7 L494.9,1399.7 L496.5,1399.7 L498.0,1399.6 L499.5,1399.5 L501.0,1399.5 L502.5,1399.5 L504.0,1399.5 L505.5,1399.5 L507.0,1399.6 L508.5,1399.6 L510.0,1399.7 L511.5,1399.7 L513.0,1399.7 L514.5,1399.7 L516.0,1399.6 L517.5,1399.6 L519.0,1399.6 L520.5,1399.6 L522.0,1399.6 L523.5,1399.5 L525.0,1399.5 L526.5,1399.6 L528.0,1399.7 L529.5,1399.8 L531.0,1399.7 L532.5,1399.6 L534.0,1399.6 L535.5,1399.6 L537.0,1399.7 L538.5,1399.8 L540.0,1399.8 L541.5,1399.7 L543.0,1399.6 L544.5,1399.6 L546.0,1399.6 L547.5,1399.6 L549.0,1399.5 L550.5,1399.5 L552.0,1399.6 L553.5,1399.6 L555.0,1399.7 L556.6,1399.7 L558.1,1399.6 L559.6,1399.6 L561.1,1399.6 L562.6,1399.7 L564.1,1399.8 L565.6,1399.9 L567.1,1399.8 L568.6,1399.7 L570.1,1399.8 L571.6,1399.9 L573.1,1399.9 L574.6,1399.9 L576.1,1399.9 L577.6,1399.9 L579.1,1399.8 L580.6,1399.8 L582.1,1399.7 L583.6,1399.8 L585.1,1399.9 L586.6,1399.9 L588.1,1399.9 L589.6,1399.8 L591.1,1399.7 L592.6,1399.8 L594.1,1399.8 L595.6,1399.8 L597.1,1399.8 L598.6,1399.8 L600.1,1399.8 L601.6,1399.8 L603.1,1399.9 L604.6,1399.8 L606.1,1399.8 L607.6,1399.8 L609.1,1399.9 L610.6,1399.8 L612.1,1399.9 L613.6,1399.9 L615.1,1400.1 L616.7,1400.1 L618.2,1400.1 L619.7,1400.1 L621.2,1400.1 L622.7,1400.0 L624.2,1400.0 L625.7,1400.0 L627.2,1400.0 L628.7,1399.9 L630.2,1399.9 L631.7,1400.0 L633.2,1400.0 L634.7,1400.0 L636.2,1400.0 L637.7,1400.0 L639.2,1400.0 L640.7,1400.0 L642.2,1399.9 L643.7,1400.0 L645.2,1400.0 L646.7,1400.0 L648.2,1399.9 L649.7,1399.9 L651.2,1400.0 L652.7,1400.1 L654.2,1400.1 L655.7,1400.1 L657.2,1400.1 L658.7,1400.1 L660.2,1400.1 L661.7,1400.2 L663.2,1400.2 L664.7,1400.1 L666.2,1400.1 L667.7,1400.1 L669.2,1400.0 L670.7,1399.9 L672.2,1400.0 L673.7,1400.0 L675.2,1400.1 L676.8,1400.2 L678.3,1400.2 L679.8,1400.2 L681.3,1400.2 L682.8,1400.3 L684.3,1400.3 L685.8,1400.3 L687.3,1400.3 L688.8,1400.3 L690.3,1400.4 L691.8,1400.5 L693.3,1400.4 L694.8,1400.2 L696.3,1400.1 L697.8,1400.2 L699.3,1400.2 L700.8,1400.3 L702.3,1400.2 L703.8,1400.2 L705.3,1400.2"/>
<path class="c" stroke="#c1272d" d="M121.0,778.3 L121.0,779.8 L121.1,781.3 L121.1,782.8 L121.2,784.3 L121.2,785.8 L121.2,787.3 L121.3,788.8 L121.3,790.3 L121.4,791.8 L121.4,793.3 L121.5,794.8 L121.5,796.3 L121.5,797.8 L121.6,799.3 L121.6,800.8 L121.6,802.3 L121.7,803.8 L121.7,805.3 L121.7,806.8 L121.8,808.3 L121.8,809.8 L121.8,811.3 L121.8,812.8 L121.9,814.3 L121.9,815.8 L121.9,817.3 L122.0,818.8 L122.0,820.4 L122.0,821.9 L122.1,823.4 L122.1,824.9 L122.1,826.4 L122.1,827.9 L122.2,829.4 L122.2,830.9 L122.2,832.4 L122.3,833.9 L122.3,835.4 L122.3,836.9 L122.4,838.4 L122.4,839.9 L122.5,841.3 L122.5,842.8 L122.5,844.3 L122.6,845.8 L122.6,847.4 L122.6,849.0 L122.7,850.5 L122.7,851.9 L122.7,853.2 L122.8,854.7 L122.8,856.2 L122.8,857.7 L122.9,859.3 L122.9,860.9 L122.9,862.6 L123.0,864.0 L123.0,865.5 L123.0,867.0 L123.1,868.3 L123.1,869.7 L123.1,871.5 L123.2,872.9 L123.2,874.8 L123.3,876.5 L123.3,878.5 L123.3,879.8 L123.4,880.9 L123.4,881.7 L123.4,883.1 L123.5,884.8 L123.5,886.5 L123.5,888.0 L123.6,889.0 L123.6,890.3 L123.7,891.8 L123.7,893.5 L123.8,895.5 L123.9,897.1 L123.9,898.8 L124.0,899.9 L124.1,900.5 L124.1,901.9 L124.2,904.3 L124.3,906.3 L124.3,908.0 L124.4,908.9 L124.4,910.7 L124.5,912.3 L124.6,913.8 L124.6,915.6 L124.7,916.8 L124.8,918.0 L124.8,919.8 L124.9,920.9 L125.0,922.5 L125.0,923.2 L125.1,925.2 L125.2,927.0 L125.2,928.6 L125.3,929.8 L125.4,931.2 L125.4,932.9 L125.5,934.6 L125.6,935.4 L125.6,936.9 L125.7,937.7 L125.7,939.1 L125.8,940.4 L125.9,942.8 L125.9,945.3 L126.0,947.1 L126.1,949.0 L126.1,950.6 L126.2,952.2 L126.3,953.7 L126.4,955.7 L126.6,957.3 L126.7,959.1 L126.8,959.5 L126.9,960.7 L127.1,961.6 L127.2,962.4 L127.3,963.6 L127.4,965.4 L127.5,967.4 L127.7,969.3 L127.8,970.3 L127.9,971.9 L128.0,973.5 L128.2,976.2 L128.3,978.5 L128.4,979.9 L128.5,980.7 L128.6,982.2 L128.8,984.1 L128.9,986.2 L129.0,987.5 L129.1,988.4 L129.3,989.0 L129.4,990.2 L129.5,990.9 L129.6,992.8 L129.7,993.7 L129.9,995.3 L130.0,996.6 L130.1,998.5 L130.2,1000.0 L130.4,1001.7 L130.5,1003.7 L130.7,1005.5 L130.8,1006.3 L131.0,1007.0 L131.1,1007.9 L131.3,1009.7 L131.4,1011.4 L131.6,1012.9 L131.7,1013.6 L131.9,1014.8 L132.0,1016.0 L132.2,1017.9 L132.4,1020.2 L132.5,1022.6 L132.7,1024.9 L132.8,1026.6 L133.0,1027.8 L133.1,1028.9 L133.3,1030.1 L133.4,1032.2 L133.6,1034.6 L133.7,1035.9 L133.9,1037.9 L134.0,1038.7 L134.2,1039.8 L134.3,1040.7 L134.5,1041.6 L134.7,1043.3 L134.8,1044.1 L135.0,1045.8 L135.2,1047.9 L135.3,1049.7 L135.5,1051.5 L135.6,1052.5 L135.8,1053.7 L136.0,1055.3 L136.1,1056.8 L136.3,1058.0 L136.5,1059.5 L136.6,1060.9 L136.8,1062.1 L137.0,1063.5 L137.1,1065.4 L137.3,1066.9 L137.5,1068.5 L137.6,1070.2 L137.9,1071.6 L138.1,1072.9 L138.3,1074.3 L138.5,1075.6 L138.7,1077.1 L138.9,1078.4 L139.2,1080.2 L139.4,1081.6 L139.6,1083.5 L139.8,1085.3 L140.0,1086.6 L140.2,1087.8 L140.5,1089.4 L140.7,1090.8 L140.9,1092.8 L141.2,1094.7 L141.5,1096.0 L141.7,1096.4 L142.0,1097.6 L142.3,1099.1 L142.5,1100.6 L142.8,1102.3 L143.1,1104.4 L143.4,1106.7 L143.6,1108.6 L143.9,1110.0 L144.2,1111.6 L144.5,1113.1 L144.7,1114.4 L145.0,1114.8 L145.3,1116.0 L145.6,1117.7 L145.8,1119.9 L146.1,1121.0 L146.4,1122.0 L146.6,1122.7 L146.9,1124.0 L147.2,1125.9 L147.5,1128.6 L147.7,1130.5 L148.0,1132.2 L148.3,1133.4 L148.7,1135.4 L149.0,1136.8 L149.3,1138.1 L149.7,1139.4 L150.0,1139.9 L150.4,1141.7 L150.7,1143.3 L151.1,1145.3 L151.4,1147.8 L151.8,1149.1 L152.1,1150.8 L152.4,1151.7 L152.8,1153.0 L153.1,1153.5 L153.5,1154.4 L153.8,1155.4 L154.2,1157.5 L154.5,1159.1 L154.8,1161.0 L155.2,1162.7 L155.5,1164.2 L155.9,1164.6 L156.2,1165.7 L156.6,1166.3 L157.0,1167.8 L157.3,1169.0 L157.7,1170.7 L158.1,1172.3 L158.4,1174.4 L158.8,1176.4 L159.2,1178.0 L159.5,1179.3 L159.9,1179.8 L160.3,1180.6 L160.6,1182.2 L161.0,1183.5 L161.4,1186.0 L161.7,1187.9 L162.1,1189.7 L162.5,1191.0 L162.9,1192.5 L163.2,1194.2 L163.6,1196.1 L164.0,1198.1 L164.3,1199.9 L164.7,1200.8 L165.1,1202.2 L165.5,1203.6 L165.9,1205.3 L166.4,1206.2 L166.9,1207.2 L167.3,1208.0 L167.8,1208.2 L168.3,1209.4 L168.7,1211.2 L169.2,1212.9 L169.7,1214.7 L170.1,1216.6 L170.6,1218.3 L171.1,1220.1 L171.5,1221.1 L172.0,1222.2 L172.5,1223.5 L173.1,1225.3 L173.8,1227.0 L174.5,1228.4 L175.1,1229.4 L175.8,1230.4 L176.5,1231.4 L177.2,1232.4 L177.8,1234.5 L178.4,1236.3 L179.0,1237.8 L179.5,1239.0 L180.1,1240.6 L180.6,1242.1 L181.0,1243.7 L181.5,1245.5 L182.0,1247.2 L182.4,1248.3 L182.9,1249.3 L183.4,1250.4 L183.8,1251.7 L184.4,1252.6 L184.9,1254.1 L185.5,1256.0 L186.1,1257.5 L186.6,1258.2 L187.2,1258.5 L187.8,1259.0 L188.4,1260.9 L188.8,1263.5 L189.3,1266.2 L189.7,1268.0 L190.2,1269.2 L190.6,1269.9 L191.1,1271.4 L191.5,1272.9 L192.0,1274.3 L192.7,1275.2 L193.3,1276.2 L194.0,1277.6 L194.7,1278.6 L195.4,1280.6 L196.1,1282.7 L196.8,1283.8 L197.4,1285.1 L198.1,1286.1 L198.7,1288.3 L199.4,1290.1 L200.1,1291.4 L200.7,1293.0 L201.4,1294.2 L202.1,1295.4 L202.8,1296.9 L203.4,1297.7 L204.1,1298.7 L204.8,1299.9 L205.5,1301.1 L206.1,1303.3 L206.8,1304.9 L207.5,1306.2 L208.1,1307.1 L209.0,1308.3 L209.8,1309.4 L210.6,1310.2 L211.4,1311.1 L212.2,1312.8 L213.0,1314.0 L213.9,1315.1 L214.7,1315.7 L215.6,1317.1 L216.6,1318.4 L217.9,1319.8 L219.1,1320.3 L220.4,1320.9 L221.6,1320.8 L222.8,1321.8 L223.8,1322.9 L224.8,1324.1 L225.8,1325.8 L226.7,1328.0 L227.4,1330.3 L228.1,1331.8 L228.7,1332.7 L229.4,1333.5 L230.1,1334.0 L231.3,1334.3 L232.8,1334.2 L234.3,1334.1 L235.7,1334.4 L237.2,1335.7 L238.5,1337.5 L239.5,1339.7 L240.5,1340.8 L241.4,1342.0 L242.4,1342.9 L243.4,1343.4 L244.4,1344.5 L245.4,1345.7 L246.3,1346.3 L247.2,1347.1 L248.1,1347.9 L249.0,1349.2 L249.9,1350.7 L250.8,1351.9 L251.6,1353.4 L252.5,1354.6 L253.5,1356.0 L254.8,1357.6 L256.2,1358.7 L257.6,1359.2 L258.9,1360.1 L260.3,1360.2 L261.6,1360.9 L263.0,1361.5 L264.4,1362.3 L265.7,1362.9 L267.0,1363.0 L268.3,1363.1 L269.6,1363.3 L270.9,1363.9 L272.2,1364.8 L273.5,1365.2 L274.8,1366.5 L276.1,1367.9 L277.4,1368.8 L278.8,1369.8 L280.1,1370.4 L281.4,1371.4 L282.8,1371.9 L284.1,1371.9 L285.5,1372.1 L286.8,1371.9 L288.2,1372.5 L289.6,1372.5 L291.1,1372.3 L292.6,1372.6 L294.0,1372.1 L295.5,1371.9 L297.0,1371.6 L298.4,1370.9 L299.8,1371.7 L301.1,1371.9 L302.5,1372.6 L303.8,1372.9 L305.2,1373.6 L306.5,1374.6 L307.9,1375.9 L309.3,1376.8 L310.8,1377.3 L312.3,1376.9 L313.8,1376.6 L315.3,1376.5 L316.8,1376.9 L318.3,1377.8 L319.8,1377.9 L321.2,1378.3 L322.6,1378.1 L324.0,1379.4 L325.4,1379.8 L326.8,1380.3 L328.2,1380.8 L329.5,1380.9 L330.9,1381.9 L332.3,1382.2 L333.7,1382.0 L335.2,1382.0 L336.7,1381.5 L338.1,1382.0 L339.6,1382.8 L341.0,1383.5 L342.5,1384.4 L344.0,1385.1 L345.4,1386.1 L346.8,1386.7 L348.2,1386.9 L349.7,1387.3 L351.1,1387.4 L352.5,1388.1 L353.9,1388.4 L355.4,1388.8 L356.8,1389.0 L358.3,1388.4 L359.7,1388.4 L361.2,1388.0 L362.6,1387.6 L364.1,1387.2 L365.5,1387.2 L366.9,1387.8 L368.3,1388.3 L369.7,1388.8 L371.1,1389.5 L372.4,1389.9 L373.8,1390.4 L375.2,1391.0 L376.6,1391.9 L378.1,1392.2 L379.6,1392.3 L381.1,1392.6 L382.6,1392.7 L384.1,1392.5 L385.6,1392.6 L387.1,1392.6 L388.6,1392.6 L390.1,1392.7 L391.6,1392.7 L393.1,1392.9 L394.6,1393.1 L396.1,1393.3 L397.6,1393.6 L399.1,1393.7 L400.6,1393.9 L402.0,1394.2 L403.5,1394.6 L405.0,1394.9 L406.5,1395.1 L408.0,1395.0 L409.5,1395.1 L411.0,1395.1 L412.5,1395.2 L414.0,1395.1 L415.5,1395.3 L417.0,1395.3 L418.5,1395.4 L420.0,1395.5 L421.5,1395.8 L423.0,1396.1 L424.5,1396.3 L426.0,1396.3 L427.5,1396.4 L429.0,1396.4 L430.5,1396.6 L432.0,1396.7 L433.5,1396.8 L435.0,1397.0 L436.5,1397.1 L438.0,1397.4 L439.5,1397.5 L441.0,1397.5 L442.5,1397.5 L444.0,1397.5 L445.5,1397.6 L447.0,1397.6 L448.5,1397.7 L450.0,1397.8 L451.5,1397.8 L453.0,1397.9 L454.5,1398.1 L456.0,1398.2 L457.5,1398.4 L459.0,1398.4 L460.5,1398.4 L462.0,1398.4 L463.5,1398.3 L465.0,1398.2 L466.5,1398.1 L468.0,1398.3 L469.5,1398.3 L471.0,1398.3 L472.5,1398.4 L474.0,1398.5 L475.5,1398.5 L477.0,1398.3 L478.5,1398.2 L480.0,1398.1 L481.5,1398.2 L483.0,1398.1 L484.5,1397.9 L486.0,1397.9 L487.5,1398.0 L489.0,1398.2 L490.5,1398.4 L492.0,1398.4 L493.5,1398.3 L495.0,1398.2 L496.5,1398.1 L498.0,1398.1 L499.5,1398.2 L501.0,1398.4 L502.5,1398.6 L504.0,1398.5 L505.5,1398.6 L507.0,1398.5 L508.5,1398.5 L510.0,1398.7 L511.5,1398.9 L513.0,1398.9 L514.5,1398.9 L516.0,1398.8 L517.5,1398.5 L519.0,1398.3 L520.5,1398.4 L522.0,1398.5 L523.5,1398.5 L525.0,1398.5 L526.5,1398.7 L528.1,1398.6 L529.6,1398.7 L531.1,1398.7 L532.6,1398.5 L534.1,1398.6 L535.6,1398.5 L537.1,1398.6 L538.6,1398.6 L540.1,1398.8 L541.6,1398.9 L543.1,1398.9 L544.6,1399.0 L546.1,1399.0 L547.6,1399.1 L549.1,1399.0 L550.6,1399.0 L552.1,1398.9 L553.6,1398.9 L555.1,1399.1 L556.6,1399.3 L558.1,1399.5 L559.6,1399.6 L561.1,1399.5 L562.6,1399.6 L564.1,1399.6 L565.6,1399.6 L567.1,1399.5 L568.6,1399.5 L570.1,1399.3 L571.6,1399.4 L573.1,1399.6 L574.6,1399.8 L576.1,1399.8 L577.6,1399.8 L579.1,1400.1 L580.6,1400.2 L582.1,1400.0 L583.6,1399.9 L585.1,1399.7 L586.6,1399.7 L588.1,1399.6 L589.6,1399.7 L591.1,1399.8 L592.6,1399.9 L594.1,1399.8 L595.6,1399.8 L597.1,1399.8 L598.6,1400.0 L600.1,1399.9 L601.6,1399.8 L603.1,1399.8 L604.7,1399.9 L606.2,1399.9 L607.7,1399.9 L609.2,1399.7 L610.7,1399.6 L612.2,1399.6 L613.7,1399.8 L615.2,1399.9 L616.7,1399.8 L618.2,1399.7 L619.7,1399.6 L621.2,1399.5 L622.7,1399.6 L624.2,1399.7 L625.7,1399.8 L627.2,1399.7 L628.7,1399.7 L630.2,1399.7 L631.7,1399.8 L633.2,1400.0 L634.7,1400.0 L636.2,1399.9 L637.7,1399.8 L639.2,1399.8 L640.7,1399.8 L642.2,1399.9 L643.7,1399.9 L645.2,1400.1 L646.7,1400.1 L648.2,1400.1 L649.7,1399.9 L651.2,1399.9 L652.7,1400.0 L654.2,1400.1 L655.7,1400.0 L657.2,1399.8 L658.7,1399.8 L660.2,1399.8 L661.7,1399.9 L663.2,1400.0 L664.7,1400.0 L666.2,1400.1 L667.7,1400.0 L669.2,1400.0 L670.7,1400.1 L672.3,1400.1 L673.8,1400.3 L675.3,1400.3 L676.8,1400.3 L678.3,1400.3 L679.8,1400.3 L681.3,1400.3 L682.8,1400.3 L684.3,1400.3 L685.8,1400.2 L687.3,1400.2 L688.8,1400.3 L690.3,1400.3 L691.8,1400.3 L693.3,1400.2 L694.8,1400.1 L696.3,1400.0 L697.8,1399.9 L699.3,1400.0 L700.8,1399.9 L702.3,1400.0 L703.8,1400.0 L705.3,1400.1"/>
<path class="c" stroke="#3ab54a" d="M121.0,778.3 L121.0,779.8 L121.1,781.3 L121.1,782.8 L121.2,784.3 L121.2,785.8 L121.2,787.3 L121.3,788.8 L121.3,790.3 L121.4,791.8 L121.4,793.3 L121.5,794.8 L121.5,796.3 L121.5,797.8 L121.6,799.3 L121.6,800.8 L121.6,802.3 L121.7,803.8 L121.7,805.3 L121.7,806.8 L121.8,808.3 L121.8,809.8 L121.8,811.4 L121.8,812.9 L121.9,814.4 L121.9,815.9 L121.9,817.4 L122.0,818.9 L122.0,820.4 L122.0,821.9 L122.1,823.4 L122.1,824.9 L122.1,826.4 L122.1,827.9 L122.2,829.4 L122.2,830.9 L122.2,832.4 L122.3,833.9 L122.3,835.4 L122.3,836.9 L122.4,838.4 L122.4,839.9 L122.5,841.4 L122.5,842.9 L122.5,844.4 L122.6,845.9 L122.6,847.4 L122.6,848.9 L122.7,850.4 L122.7,852.0 L122.7,853.4 L122.8,854.8 L122.8,856.3 L122.8,857.8 L122.9,859.1 L122.9,860.7 L122.9,862.4 L123.0,864.4 L123.0,865.9 L123.0,867.4 L123.1,868.8 L123.1,870.0 L123.2,871.4 L123.2,873.0 L123.2,874.8 L123.3,876.3 L123.3,877.5 L123.3,878.7 L123.4,880.1 L123.4,881.7 L123.4,883.1 L123.5,884.9 L123.5,887.0 L123.5,888.9 L123.6,890.7 L123.6,891.9 L123.7,892.8 L123.7,894.2 L123.8,895.8 L123.9,897.7 L123.9,899.2 L124.0,900.9 L124.1,901.7 L124.1,902.9 L124.2,904.0 L124.3,905.5 L124.3,906.8 L124.4,908.1 L124.5,910.0 L124.5,911.6 L124.6,913.8 L124.6,916.3 L124.7,918.3 L124.8,919.1 L124.8,920.1 L124.9,921.1 L125.0,922.9 L125.0,924.0 L125.1,925.3 L125.2,926.9 L125.2,929.0 L125.3,930.1 L125.4,931.3 L125.4,932.1 L125.5,934.5 L125.6,936.1 L125.6,938.0 L125.7,939.7 L125.7,940.8 L125.8,942.6 L125.9,943.8 L125.9,945.6 L126.0,947.0 L126.1,948.0 L126.1,949.6 L126.2,950.6 L126.3,951.9 L126.4,953.6 L126.6,956.2 L126.7,957.9 L126.8,959.6 L126.9,961.1 L127.1,962.2 L127.2,964.0 L127.3,965.3 L127.4,966.8 L127.5,967.5 L127.7,968.3 L127.8,969.9 L127.9,971.1 L128.0,971.8 L128.2,973.4 L128.3,974.7 L128.4,975.5 L128.5,976.8 L128.6,979.1 L128.8,981.9 L128.9,984.0 L129.0,985.9 L129.1,988.2 L129.3,990.1 L129.4,991.5 L129.5,992.6 L129.6,993.9 L129.8,995.6 L129.9,996.2 L130.0,998.4 L130.1,999.9 L130.2,1001.1 L130.4,1001.3 L130.5,1002.7 L130.7,1004.7 L130.8,1005.8 L131.0,1007.7 L131.1,1009.2 L131.3,1010.4 L131.4,1011.2 L131.6,1012.9 L131.7,1014.8 L131.9,1016.7 L132.1,1018.8 L132.2,1021.3 L132.4,1022.2 L132.5,1023.2 L132.7,1024.9 L132.8,1027.0 L133.0,1028.4 L133.1,1029.2 L133.3,1030.2 L133.4,1031.3 L133.6,1032.8 L133.7,1034.7 L133.9,1036.4 L134.0,1037.4 L134.2,1039.2 L134.3,1041.6 L134.5,1043.7 L134.7,1045.0 L134.8,1046.7 L135.0,1048.8 L135.2,1050.1 L135.3,1051.0 L135.5,1052.9 L135.7,1053.9 L135.8,1054.9 L136.0,1056.2 L136.2,1057.6 L136.3,1059.4 L136.5,1061.0 L136.7,1062.8 L136.8,1063.8 L137.0,1064.8 L137.2,1067.0 L137.3,1068.6 L137.5,1070.0 L137.7,1071.3 L137.9,1072.8 L138.1,1073.6 L138.4,1074.5 L138.6,1075.6 L138.8,1076.4 L139.1,1077.5 L139.3,1080.0 L139.5,1082.4 L139.8,1085.0 L140.0,1087.2 L140.3,1089.1 L140.5,1089.8 L140.7,1091.1 L141.0,1092.7 L141.3,1094.1 L141.5,1095.6 L141.8,1097.0 L142.1,1098.0 L142.3,1098.3 L142.6,1098.8 L142.9,1100.4 L143.2,1101.8 L143.4,1103.7 L143.7,1105.7 L144.0,1107.2 L144.3,1108.4 L144.5,1110.0 L144.8,1112.7 L145.1,1114.9 L145.3,1116.7 L145.6,1118.0 L145.9,1119.4 L146.2,1120.8 L146.4,1122.2 L146.7,1124.0 L147.0,1125.7 L147.3,1127.2 L147.5,1129.3 L147.8,1131.4 L148.1,1132.7 L148.4,1133.4 L148.7,1133.7 L149.1,1134.4 L149.4,1134.3 L149.7,1135.2 L150.1,1136.8 L150.4,1139.0 L150.8,1141.1 L151.1,1142.8 L151.5,1144.2 L151.8,1145.3 L152.1,1147.1 L152.5,1149.3 L152.8,1151.3 L153.2,1151.6 L153.5,1152.9 L153.9,1154.7 L154.2,1156.5 L154.5,1157.2 L154.9,1158.4 L155.2,1159.5 L155.6,1161.0 L155.9,1162.1 L156.3,1163.9 L156.6,1165.5 L157.0,1167.2 L157.4,1169.2 L157.7,1172.1 L158.1,1173.9 L158.5,1175.1 L158.8,1175.3 L159.2,1176.2 L159.6,1177.5 L159.9,1179.1 L160.3,1180.3 L160.7,1181.6 L161.0,1183.0 L161.4,1184.4 L161.8,1185.9 L162.1,1187.1 L162.5,1188.9 L162.9,1191.2 L163.2,1193.4 L163.6,1195.5 L164.0,1196.2 L164.3,1196.6 L164.7,1198.2 L165.1,1200.2 L165.4,1202.3 L165.8,1203.6 L166.2,1204.3 L166.6,1205.4 L167.0,1205.6 L167.4,1206.3 L167.8,1208.5 L168.2,1210.8 L168.6,1212.5 L169.0,1213.9 L169.3,1215.2 L169.7,1217.0 L170.1,1218.5 L170.5,1219.5 L170.9,1220.8 L171.3,1221.7 L171.7,1222.6 L172.1,1224.5 L172.6,1225.9 L173.2,1228.4 L173.9,1230.0 L174.6,1230.9 L175.2,1231.5 L175.9,1232.6 L176.6,1233.9 L177.2,1235.5 L177.9,1236.9 L178.7,1238.5 L179.6,1240.9 L180.3,1242.5 L180.9,1244.0 L181.5,1244.8 L182.2,1245.8 L182.8,1247.4 L183.4,1249.2 L184.0,1250.6 L184.6,1251.1 L185.3,1251.2 L185.9,1252.8 L186.6,1254.6 L187.3,1256.7 L187.9,1259.1 L188.6,1260.6 L189.3,1262.0 L190.0,1262.6 L190.7,1263.5 L191.5,1264.4 L192.3,1265.7 L193.1,1267.7 L193.9,1269.4 L194.6,1270.9 L195.4,1271.6 L196.2,1273.0 L197.3,1273.9 L198.4,1274.6 L199.5,1274.4 L200.6,1274.7 L201.7,1275.7 L202.7,1277.1 L203.8,1278.2 L204.5,1279.9 L205.1,1280.8 L205.8,1282.4 L206.5,1284.3 L207.1,1286.8 L207.8,1289.0 L208.5,1290.4 L209.6,1291.5 L210.7,1292.1 L211.8,1292.7 L212.9,1294.1 L213.9,1294.6 L214.9,1295.9 L216.0,1297.3 L216.9,1299.1 L217.8,1300.7 L218.6,1301.6 L219.5,1302.3 L220.4,1302.9 L221.4,1301.9 L222.5,1300.8 L223.5,1300.1 L224.4,1299.2 L225.1,1300.6 L225.7,1301.8 L226.4,1303.8 L227.0,1305.2 L227.7,1307.2 L228.3,1308.8 L229.0,1310.7 L229.6,1311.7 L230.3,1312.6 L231.7,1313.2 L233.1,1313.5 L234.5,1313.6 L235.9,1314.5 L236.8,1315.8 L237.5,1317.7 L238.3,1318.5 L239.0,1319.9 L239.7,1320.7 L240.5,1321.6 L241.9,1322.0 L243.3,1322.4 L244.7,1322.8 L246.0,1323.0 L247.4,1323.1 L248.6,1323.5 L249.4,1324.5 L250.2,1325.8 L250.9,1327.4 L251.7,1328.6 L252.5,1330.0 L253.2,1332.6 L254.0,1334.2 L254.7,1335.6 L255.5,1336.1 L256.3,1337.1 L257.4,1337.6 L258.7,1337.9 L259.9,1338.8 L261.2,1340.4 L262.4,1341.9 L263.6,1343.3 L264.8,1343.9 L265.6,1344.5 L266.5,1345.4 L267.4,1346.5 L268.2,1347.7 L269.1,1348.3 L270.0,1349.3 L270.8,1350.2 L271.7,1352.0 L272.7,1353.9 L274.2,1355.0 L275.7,1355.2 L277.2,1355.1 L278.6,1354.7 L280.1,1354.2 L281.6,1353.0 L283.1,1352.2 L284.6,1352.4 L286.1,1353.9 L287.5,1354.6 L289.0,1355.6 L290.5,1356.3 L291.9,1355.9 L293.4,1355.7 L294.8,1356.4 L296.3,1356.5 L297.4,1358.0 L298.5,1358.5 L299.5,1360.4 L300.6,1361.4 L301.7,1361.8 L302.7,1363.0 L303.8,1363.9 L304.9,1365.2 L306.3,1365.8 L307.6,1366.8 L309.0,1367.8 L310.3,1369.0 L311.6,1369.8 L313.1,1370.5 L314.6,1370.1 L316.1,1369.9 L317.6,1369.0 L319.1,1369.6 L320.6,1369.0 L322.1,1369.4 L323.6,1370.1 L325.1,1370.4 L326.6,1370.2 L328.1,1369.6 L329.5,1370.1 L330.8,1371.3 L332.1,1372.3 L333.5,1373.1 L334.8,1374.1 L336.2,1374.9 L337.5,1375.5 L338.9,1375.8 L340.2,1376.8 L341.6,1377.5 L343.1,1377.4 L344.6,1377.0 L346.1,1377.3 L347.6,1377.2 L349.1,1377.0 L350.5,1377.3 L352.0,1378.2 L353.5,1377.9 L355.0,1377.6 L356.5,1377.1 L358.0,1377.7 L359.4,1378.1 L360.9,1378.4 L362.4,1379.2 L363.9,1379.5 L365.3,1379.9 L366.7,1380.4 L368.1,1380.6 L369.5,1381.6 L370.9,1382.2 L372.2,1382.9 L373.6,1383.4 L375.0,1383.9 L376.4,1384.2 L377.9,1384.3 L379.4,1384.4 L380.9,1384.8 L382.4,1385.0 L383.9,1385.4 L385.4,1385.8 L386.9,1386.4 L388.4,1386.1 L389.9,1386.2 L391.4,1385.8 L392.9,1385.7 L394.4,1386.0 L395.9,1386.4 L397.4,1386.4 L398.9,1386.4 L400.4,1385.8 L401.9,1385.7 L403.4,1385.9 L404.8,1386.4 L406.3,1386.7 L407.8,1386.9 L409.2,1387.5 L410.7,1388.2 L412.1,1388.6 L413.6,1389.2 L415.1,1389.7 L416.5,1390.1 L418.0,1389.9 L419.5,1389.9 L421.0,1389.7 L422.5,1389.5 L424.0,1389.3 L425.5,1389.0 L426.9,1388.7 L428.4,1388.5 L429.9,1388.5 L431.4,1388.6 L432.9,1388.7 L434.4,1389.1 L435.9,1389.5 L437.4,1389.5 L438.9,1389.3 L440.4,1389.5 L441.9,1389.9 L443.3,1390.4 L444.8,1390.9 L446.3,1391.2 L447.8,1391.2 L449.3,1391.2 L450.8,1391.4 L452.3,1391.6 L453.8,1391.7 L455.3,1391.8 L456.8,1392.1 L458.3,1392.5 L459.8,1392.6 L461.3,1392.7 L462.8,1392.7 L464.3,1392.8 L465.8,1392.8 L467.3,1392.7 L468.8,1392.8 L470.3,1393.1 L471.8,1393.4 L473.3,1393.5 L474.8,1393.3 L476.2,1393.4 L477.7,1393.4 L479.2,1393.9 L480.7,1393.9 L482.2,1394.1 L483.7,1394.4 L485.2,1394.5 L486.7,1394.6 L488.2,1394.7 L489.7,1395.0 L491.2,1395.1 L492.7,1395.1 L494.2,1395.4 L495.7,1395.5 L497.2,1395.4 L498.7,1395.1 L500.2,1395.1 L501.7,1394.9 L503.2,1394.8 L504.7,1394.6 L506.2,1394.3 L507.7,1394.2 L509.2,1393.9 L510.7,1393.7 L512.2,1393.6 L513.7,1393.7 L515.2,1393.8 L516.7,1393.8 L518.2,1393.9 L519.7,1394.1 L521.2,1394.1 L522.7,1393.9 L524.2,1393.7 L525.7,1393.4 L527.2,1393.3 L528.7,1393.2 L530.2,1393.0 L531.7,1393.2 L533.2,1393.5 L534.7,1393.9 L536.2,1394.4 L537.7,1394.6 L539.2,1395.2 L540.6,1395.5 L542.1,1395.9 L543.6,1396.2 L545.1,1396.4 L546.6,1396.5 L548.1,1396.6 L549.6,1396.5 L551.1,1396.2 L552.6,1396.0 L554.1,1395.9 L555.6,1395.7 L557.1,1395.5 L558.6,1395.3 L560.1,1395.2 L561.6,1395.3 L563.1,1395.2 L564.6,1395.4 L566.0,1395.5 L567.5,1395.3 L569.0,1395.3 L570.5,1395.1 L572.0,1395.0 L573.5,1394.7 L575.0,1394.4 L576.5,1394.4 L577.9,1394.8 L579.4,1395.1 L580.8,1395.5 L582.3,1395.8 L583.7,1396.3 L585.1,1396.9 L586.6,1397.4 L588.1,1397.6 L589.6,1397.8 L591.1,1397.7 L592.6,1397.7 L594.1,1397.5 L595.6,1397.5 L597.1,1397.6 L598.6,1397.8 L600.1,1397.8 L601.6,1397.6 L603.1,1397.6 L604.6,1397.5 L606.1,1397.5 L607.6,1397.5 L609.1,1397.7 L610.6,1397.8 L612.1,1398.0 L613.6,1398.1 L615.1,1398.4 L616.6,1398.4 L618.1,1398.5 L619.6,1398.8 L621.1,1399.0 L622.6,1399.1 L624.2,1399.3 L625.7,1399.0 L627.2,1398.9 L628.7,1398.6 L630.2,1398.5 L631.7,1398.4 L633.2,1398.3 L634.7,1398.2 L636.2,1398.3 L637.7,1398.1 L639.2,1398.2 L640.7,1398.2 L642.2,1398.2 L643.7,1398.2 L645.2,1398.4 L646.7,1398.5 L648.2,1398.8 L649.7,1398.9 L651.2,1399.2 L652.7,1399.3 L654.2,1399.0 L655.7,1398.9 L657.2,1398.6 L658.7,1398.6 L660.2,1398.5 L661.7,1398.6 L663.2,1398.7 L664.7,1398.8 L666.2,1398.8 L667.7,1399.0 L669.2,1398.9 L670.7,1398.7 L672.2,1398.6 L673.7,1398.8 L675.2,1398.7 L676.7,1398.8 L678.3,1398.7 L679.8,1398.5 L681.3,1398.5 L682.8,1398.6 L684.3,1398.7 L685.8,1398.7 L687.3,1398.5 L688.8,1398.5 L690.3,1398.4 L691.8,1398.7 L693.3,1399.0 L694.8,1399.1 L696.3,1399.1 L697.8,1399.1 L699.3,1398.9 L700.8,1398.7 L702.3,1398.5 L703.8,1398.6 L705.3,1398.7"/>
</g>
<rect class="ax" x="120.7" y="778.0" width="584.6" height="623.0"/>
<text class="t" transform="translate(105.5,1416.6) scale(1,1.04)" text-anchor="end">0.0</text>
<text class="t" transform="translate(105.5,1292.0) scale(1,1.04)" text-anchor="end">0.2</text>
<text class="t" transform="translate(105.5,1167.4) scale(1,1.04)" text-anchor="end">0.4</text>
<text class="t" transform="translate(105.5,1042.8) scale(1,1.04)" text-anchor="end">0.6</text>
<text class="t" transform="translate(105.5,918.2) scale(1,1.04)" text-anchor="end">0.8</text>
<text class="t" transform="translate(105.5,793.6) scale(1,1.04)" text-anchor="end">1.0</text>
<text class="t" transform="translate(120.7,1445.4) scale(1,1.04)" text-anchor="middle">0</text>
<text class="t" transform="translate(266.8,1445.4) scale(1,1.04)" text-anchor="middle">50</text>
<text class="t" transform="translate(413.0,1445.4) scale(1,1.04)" text-anchor="middle">100</text>
<text class="t" transform="translate(559.1,1445.4) scale(1,1.04)" text-anchor="middle">150</text>
<text class="t" transform="translate(705.3,1445.4) scale(1,1.04)" text-anchor="middle">200</text>
<path class="ax" d="M120.7,1401.0h-7.6M120.7,1276.4h-7.6M120.7,1151.8h-7.6M120.7,1027.2h-7.6M120.7,902.6h-7.6M120.7,778.0h-7.6M120.7,1401.0v7.6M266.8,1401.0v7.6M413.0,1401.0v7.6M559.1,1401.0v7.6M705.3,1401.0v7.6"/>
<text class="t" transform="translate(413.0,1492.6) scale(1,1.04)" text-anchor="middle"><tspan class="it">k</tspan>th iteration</text>
<g transform="translate(33.5,1092.5) rotate(-90)">
<text y="0"><tspan class="cal" x="-49" font-size="42">𝒲</tspan><tspan x="-3" font-size="48">(</tspan><tspan class="it" dx="1" font-size="45">k</tspan><tspan dx="1" font-size="48">)</tspan></text>
</g>
<text y="849.8" style="fill:#7f0000"><tspan class="it" x="540.6" font-size="46" textLength="20.05" lengthAdjust="spacingAndGlyphs">r</tspan> <tspan x="574.1" dy="1.0" font-size="38" textLength="35.1" lengthAdjust="spacingAndGlyphs">=</tspan> <tspan x="619.1" dy="-1.0" font-size="44.5">0.7</tspan></text>
<path class="ar" d="M165.7,1203.3L242.4,1127.7"/>
<path d="M252.0,1118.2L246.0,1138.5L242.4,1127.7L231.7,1123.9Z" fill="#000"/>
<circle cx="165.7" cy="1203.3" r="3.85" fill="#000"/>
<path class="ar" d="M253.9,1354.9L327.5,1245.1"/>
<path d="M335.0,1233.9L333.2,1254.9L327.5,1245.1L316.2,1243.6Z" fill="#000"/>
<circle cx="253.9" cy="1354.9" r="3.85" fill="#000"/>
<path class="ar" d="M270.0,1383.5L361.8,1321.4"/>
<path d="M373.0,1313.8L363.4,1332.6L361.8,1321.4L352.0,1315.7Z" fill="#000"/>
<circle cx="270.0" cy="1383.5" r="3.85" fill="#000"/>
<text y="1114.5"><tspan class="it" x="241.8" font-size="44" textLength="22.5" lengthAdjust="spacingAndGlyphs">ν</tspan> <tspan x="276.5" dy="2.6" font-size="38" textLength="34.9" lengthAdjust="spacingAndGlyphs">=</tspan> <tspan x="322.4" dy="-2.6" font-size="43.5">2</tspan></text>
<text y="1226.5"><tspan class="it" x="304.4" font-size="44" textLength="22.5" lengthAdjust="spacingAndGlyphs">ν</tspan> <tspan x="339.1" dy="2.6" font-size="38" textLength="34.9" lengthAdjust="spacingAndGlyphs">=</tspan> <tspan x="385.0" dy="-2.6" font-size="43.5">1.5</tspan></text>
<text y="1305.8"><tspan class="it" x="367.2" font-size="44" textLength="22.5" lengthAdjust="spacingAndGlyphs">ν</tspan> <tspan x="401.9" dy="2.6" font-size="38" textLength="34.9" lengthAdjust="spacingAndGlyphs">=</tspan> <tspan x="447.8" dy="-2.6" font-size="43.5">1</tspan></text>
</g>
<g id="panel4">
<clipPath id="cp4"><rect x="884.9" y="778.0" width="584.0" height="623.0"/></clipPath>
<g clip-path="url(#cp4)">
<path class="c" stroke="#0a70bd" d="M884.9,778.3 L884.9,779.8 L885.0,781.3 L885.0,782.8 L885.0,784.3 L885.1,785.8 L885.1,787.3 L885.1,788.8 L885.2,790.3 L885.2,791.8 L885.3,793.3 L885.3,794.8 L885.3,796.3 L885.3,797.8 L885.4,799.3 L885.4,800.8 L885.4,802.3 L885.5,803.8 L885.5,805.3 L885.5,806.8 L885.5,808.3 L885.6,809.8 L885.6,811.3 L885.6,812.8 L885.6,814.3 L885.7,815.9 L885.7,817.4 L885.7,818.9 L885.8,820.4 L885.8,821.9 L885.8,823.4 L885.8,824.9 L885.9,826.4 L885.9,827.9 L885.9,829.4 L885.9,830.9 L886.0,832.4 L886.0,833.9 L886.0,835.4 L886.1,836.9 L886.1,838.4 L886.1,839.9 L886.1,841.4 L886.2,842.9 L886.2,844.4 L886.2,845.8 L886.2,847.3 L886.3,848.8 L886.3,850.3 L886.3,851.8 L886.4,853.3 L886.4,854.9 L886.5,856.4 L886.5,857.9 L886.6,859.5 L886.6,860.9 L886.7,862.4 L886.7,863.9 L886.8,865.4 L886.8,866.9 L886.9,868.4 L886.9,869.9 L887.0,871.3 L887.0,872.8 L887.1,874.4 L887.1,876.0 L887.1,877.7 L887.2,879.3 L887.2,880.8 L887.3,882.2 L887.3,883.6 L887.4,885.1 L887.4,886.7 L887.5,888.1 L887.5,889.5 L887.6,890.9 L887.6,892.0 L887.7,893.5 L887.7,895.1 L887.8,896.8 L887.8,898.3 L887.9,899.9 L887.9,901.4 L887.9,903.0 L888.0,904.5 L888.0,905.8 L888.1,907.3 L888.1,909.0 L888.2,910.8 L888.2,912.5 L888.3,914.1 L888.3,915.6 L888.4,916.8 L888.4,918.0 L888.5,919.8 L888.5,921.6 L888.6,922.8 L888.6,923.8 L888.6,925.0 L888.7,926.4 L888.7,927.9 L888.8,929.6 L888.9,931.2 L888.9,932.7 L889.0,934.2 L889.1,935.8 L889.2,937.1 L889.2,938.4 L889.3,939.9 L889.4,941.9 L889.5,943.4 L889.5,945.2 L889.6,946.4 L889.7,947.7 L889.8,949.1 L889.8,950.6 L889.9,952.4 L890.0,953.9 L890.1,955.8 L890.1,957.7 L890.2,959.4 L890.3,960.6 L890.4,962.0 L890.4,963.3 L890.5,964.9 L890.6,966.2 L890.7,967.4 L890.7,968.4 L890.8,969.7 L890.9,971.2 L891.0,973.0 L891.0,974.7 L891.1,976.6 L891.2,978.3 L891.3,979.8 L891.3,981.1 L891.4,982.5 L891.5,984.1 L891.6,985.5 L891.6,987.0 L891.7,988.8 L891.8,990.3 L891.9,991.8 L891.9,992.9 L892.0,994.3 L892.1,995.7 L892.1,997.2 L892.2,999.0 L892.3,1000.8 L892.3,1002.4 L892.4,1003.6 L892.5,1004.9 L892.5,1006.4 L892.6,1008.3 L892.7,1009.4 L892.7,1010.9 L892.8,1012.5 L892.9,1013.9 L892.9,1015.7 L893.0,1017.5 L893.1,1019.4 L893.1,1020.8 L893.2,1021.8 L893.3,1023.3 L893.3,1024.4 L893.4,1026.0 L893.5,1027.6 L893.5,1029.1 L893.6,1030.6 L893.7,1031.7 L893.7,1033.5 L893.8,1035.1 L893.9,1036.9 L893.9,1038.4 L894.0,1039.8 L894.1,1041.4 L894.2,1042.7 L894.2,1044.1 L894.3,1045.8 L894.4,1047.3 L894.4,1048.7 L894.5,1050.0 L894.6,1051.6 L894.7,1053.4 L894.9,1054.8 L895.0,1056.3 L895.2,1057.6 L895.3,1059.0 L895.4,1060.3 L895.6,1061.7 L895.7,1063.3 L895.8,1064.8 L896.0,1066.3 L896.1,1067.8 L896.3,1069.4 L896.4,1071.0 L896.5,1072.6 L896.7,1074.1 L896.8,1075.5 L896.9,1076.9 L897.1,1078.3 L897.2,1079.9 L897.4,1081.4 L897.5,1083.1 L897.6,1084.5 L897.8,1086.0 L897.9,1087.5 L898.0,1088.9 L898.2,1090.4 L898.3,1092.0 L898.5,1093.8 L898.6,1095.5 L898.7,1097.1 L898.9,1098.8 L899.0,1100.1 L899.1,1101.3 L899.3,1102.3 L899.5,1103.6 L899.7,1104.7 L899.9,1106.4 L900.0,1107.9 L900.2,1109.4 L900.4,1110.8 L900.6,1112.4 L900.8,1114.0 L900.9,1115.6 L901.1,1117.0 L901.3,1118.7 L901.5,1120.1 L901.6,1121.6 L901.8,1123.0 L902.0,1124.3 L902.2,1125.7 L902.4,1127.1 L902.5,1128.7 L902.7,1130.7 L902.9,1132.2 L903.1,1133.8 L903.2,1135.2 L903.4,1136.7 L903.6,1138.1 L903.8,1139.6 L904.0,1141.1 L904.1,1142.5 L904.3,1143.6 L904.5,1145.0 L904.7,1146.6 L904.9,1148.1 L905.0,1149.7 L905.2,1151.2 L905.5,1152.7 L905.7,1154.2 L906.0,1156.0 L906.2,1157.7 L906.4,1159.1 L906.7,1160.2 L906.9,1161.8 L907.2,1163.5 L907.4,1165.3 L907.6,1166.8 L907.9,1168.0 L908.1,1169.3 L908.4,1170.8 L908.6,1172.3 L908.8,1173.7 L909.1,1175.2 L909.3,1176.5 L909.6,1178.1 L909.8,1179.5 L910.0,1181.1 L910.3,1182.8 L910.5,1184.6 L910.8,1186.0 L911.0,1187.9 L911.2,1189.4 L911.5,1190.8 L911.7,1192.1 L911.9,1193.5 L912.2,1195.0 L912.4,1196.7 L912.7,1198.2 L912.9,1199.8 L913.1,1200.9 L913.5,1202.1 L913.8,1203.7 L914.1,1205.5 L914.4,1207.3 L914.8,1208.9 L915.1,1210.3 L915.4,1211.6 L915.7,1212.9 L916.1,1214.2 L916.4,1215.8 L916.7,1217.1 L917.1,1218.6 L917.4,1219.9 L917.7,1221.3 L918.0,1222.5 L918.4,1224.0 L918.7,1225.6 L919.0,1226.9 L919.4,1227.8 L919.7,1228.7 L920.0,1230.0 L920.3,1231.5 L920.7,1233.5 L921.0,1235.6 L921.3,1237.5 L921.7,1238.9 L922.0,1239.8 L922.4,1241.2 L922.8,1242.7 L923.3,1244.4 L923.8,1246.4 L924.3,1247.9 L924.7,1249.3 L925.2,1250.7 L925.7,1252.1 L926.2,1253.5 L926.6,1254.7 L927.1,1255.8 L927.6,1257.2 L928.0,1258.6 L928.5,1260.3 L929.0,1261.7 L929.5,1263.3 L929.9,1265.0 L930.4,1266.5 L930.9,1267.8 L931.4,1269.2 L931.8,1270.6 L932.3,1272.1 L932.7,1273.7 L933.2,1275.4 L933.6,1276.8 L934.1,1278.3 L934.5,1279.6 L935.0,1280.9 L935.4,1282.1 L935.9,1283.3 L936.3,1285.0 L936.8,1286.4 L937.2,1288.0 L937.6,1289.2 L938.1,1290.0 L938.5,1291.3 L939.0,1292.4 L939.4,1294.0 L939.9,1295.5 L940.3,1296.7 L941.0,1298.0 L941.7,1299.3 L942.4,1301.0 L943.1,1302.7 L943.8,1304.2 L944.5,1305.6 L945.2,1307.1 L945.9,1308.2 L946.6,1309.9 L947.3,1311.0 L948.0,1312.4 L948.7,1313.6 L949.4,1314.5 L950.0,1315.6 L950.6,1316.8 L951.2,1318.5 L951.8,1320.2 L952.4,1321.8 L953.0,1323.2 L953.6,1324.7 L954.2,1326.0 L954.8,1327.2 L955.5,1328.7 L956.1,1330.2 L956.9,1331.5 L957.9,1332.6 L958.8,1333.3 L959.8,1334.4 L960.8,1335.6 L961.7,1336.7 L962.7,1337.8 L963.6,1338.6 L964.6,1339.5 L965.5,1340.8 L966.6,1341.9 L967.8,1343.3 L968.9,1344.4 L970.1,1345.2 L971.3,1346.1 L972.5,1347.4 L973.7,1348.5 L974.9,1349.2 L976.0,1349.9 L977.2,1350.8 L978.5,1351.7 L980.0,1351.5 L981.5,1351.7 L982.8,1352.0 L983.9,1352.9 L985.1,1354.2 L986.3,1355.3 L987.5,1356.4 L988.7,1356.9 L989.9,1357.5 L991.0,1358.4 L992.2,1359.7 L993.4,1360.5 L994.6,1361.6 L995.8,1362.4 L997.0,1363.4 L998.4,1364.1 L999.7,1364.8 L1001.1,1365.3 L1002.4,1365.8 L1003.8,1366.3 L1005.1,1366.9 L1006.5,1367.8 L1007.8,1368.5 L1009.1,1369.2 L1010.5,1369.7 L1011.8,1370.4 L1013.2,1371.3 L1014.5,1372.1 L1015.9,1373.0 L1017.3,1374.0 L1018.7,1374.7 L1020.0,1375.3 L1021.4,1375.7 L1022.8,1375.9 L1024.2,1376.6 L1025.5,1377.2 L1026.9,1377.8 L1028.3,1378.0 L1029.7,1378.4 L1031.1,1378.8 L1032.4,1379.6 L1033.8,1380.3 L1035.2,1381.0 L1036.6,1381.3 L1038.0,1381.7 L1039.4,1382.3 L1040.7,1383.2 L1042.1,1383.9 L1043.5,1384.6 L1045.0,1385.0 L1046.4,1385.6 L1047.8,1386.0 L1049.2,1386.5 L1050.7,1386.9 L1052.1,1387.4 L1053.5,1387.8 L1055.0,1388.3 L1056.5,1388.7 L1057.9,1388.9 L1059.4,1389.0 L1060.9,1389.2 L1062.4,1389.5 L1063.9,1389.8 L1065.4,1389.8 L1066.9,1389.9 L1068.4,1390.0 L1069.8,1390.2 L1071.3,1390.6 L1072.8,1391.0 L1074.2,1391.4 L1075.7,1391.7 L1077.2,1391.9 L1078.6,1392.2 L1080.1,1392.6 L1081.6,1393.0 L1083.1,1393.2 L1084.6,1393.4 L1086.0,1393.5 L1087.5,1393.6 L1089.0,1393.7 L1090.5,1393.8 L1092.0,1393.9 L1093.5,1394.0 L1095.0,1394.0 L1096.5,1394.2 L1098.0,1394.3 L1099.5,1394.5 L1101.0,1394.7 L1102.5,1394.8 L1104.0,1394.8 L1105.5,1394.8 L1107.0,1394.8 L1108.5,1394.9 L1110.0,1394.9 L1111.5,1395.0 L1113.0,1395.1 L1114.5,1395.2 L1116.0,1395.3 L1117.5,1395.5 L1119.0,1395.8 L1120.5,1396.0 L1122.0,1396.2 L1123.5,1396.2 L1125.0,1396.3 L1126.5,1396.4 L1128.0,1396.5 L1129.5,1396.6 L1131.0,1396.8 L1132.5,1396.9 L1134.0,1397.0 L1135.5,1397.1 L1137.0,1397.3 L1138.5,1397.3 L1140.0,1397.5 L1141.5,1397.7 L1143.0,1397.9 L1144.4,1398.1 L1145.9,1398.2 L1147.4,1398.3 L1148.9,1398.4 L1150.4,1398.6 L1151.9,1398.8 L1153.4,1398.9 L1154.9,1398.9 L1156.4,1398.9 L1157.9,1399.0 L1159.4,1399.0 L1160.9,1399.1 L1162.4,1399.2 L1163.9,1399.3 L1165.4,1399.3 L1166.9,1399.3 L1168.4,1399.2 L1169.9,1399.3 L1171.4,1399.4 L1172.9,1399.4 L1174.4,1399.4 L1175.9,1399.4 L1177.5,1399.4 L1179.0,1399.4 L1180.5,1399.5 L1182.0,1399.5 L1183.5,1399.5 L1185.0,1399.5 L1186.5,1399.4 L1188.0,1399.5 L1189.5,1399.5 L1191.0,1399.5 L1192.5,1399.6 L1194.0,1399.7 L1195.5,1399.8 L1197.0,1399.8 L1198.5,1399.8 L1200.0,1399.7 L1201.5,1399.7 L1203.0,1399.7 L1204.5,1399.7 L1206.0,1399.6 L1207.5,1399.5 L1209.0,1399.5 L1210.5,1399.5 L1212.0,1399.6 L1213.5,1399.6 L1215.0,1399.7 L1216.5,1399.6 L1218.0,1399.5 L1219.5,1399.5 L1221.0,1399.6 L1222.5,1399.7 L1224.0,1399.7 L1225.5,1399.6 L1227.0,1399.6 L1228.5,1399.7 L1230.0,1399.8 L1231.5,1399.8 L1233.0,1399.8 L1234.5,1399.8 L1236.0,1399.7 L1237.5,1399.7 L1239.0,1399.7 L1240.5,1399.7 L1242.0,1399.7 L1243.6,1399.7 L1245.1,1399.8 L1246.6,1399.7 L1248.1,1399.6 L1249.6,1399.6 L1251.1,1399.7 L1252.6,1399.6 L1254.1,1399.6 L1255.6,1399.6 L1257.1,1399.6 L1258.6,1399.6 L1260.1,1399.6 L1261.6,1399.6 L1263.1,1399.6 L1264.6,1399.6 L1266.1,1399.6 L1267.6,1399.6 L1269.1,1399.7 L1270.6,1399.8 L1272.1,1399.8 L1273.6,1399.8 L1275.1,1399.8 L1276.6,1399.8 L1278.1,1399.8 L1279.6,1399.9 L1281.1,1399.9 L1282.6,1399.9 L1284.1,1399.8 L1285.6,1399.7 L1287.1,1399.7 L1288.6,1399.8 L1290.1,1399.8 L1291.6,1399.8 L1293.1,1399.8 L1294.6,1399.9 L1296.1,1400.0 L1297.6,1400.0 L1299.1,1399.9 L1300.6,1399.8 L1302.1,1399.8 L1303.6,1399.8 L1305.1,1399.8 L1306.6,1399.8 L1308.2,1399.8 L1309.7,1399.8 L1311.2,1399.7 L1312.7,1399.7 L1314.2,1399.7 L1315.7,1399.7 L1317.2,1399.7 L1318.7,1399.8 L1320.2,1399.8 L1321.7,1399.8 L1323.2,1399.9 L1324.7,1400.0 L1326.2,1400.0 L1327.7,1400.1 L1329.2,1400.1 L1330.7,1400.0 L1332.2,1400.0 L1333.7,1400.0 L1335.2,1399.9 L1336.7,1400.0 L1338.2,1400.0 L1339.7,1400.0 L1341.2,1400.0 L1342.7,1400.0 L1344.2,1399.9 L1345.7,1399.9 L1347.2,1399.9 L1348.7,1399.9 L1350.2,1400.0 L1351.7,1399.9 L1353.2,1399.9 L1354.7,1399.8 L1356.2,1399.8 L1357.7,1399.8 L1359.2,1399.8 L1360.7,1399.9 L1362.2,1399.9 L1363.7,1399.9 L1365.2,1399.9 L1366.7,1400.0 L1368.2,1400.1 L1369.7,1400.0 L1371.2,1400.0 L1372.8,1400.0 L1374.3,1400.0 L1375.8,1400.0 L1377.3,1400.0 L1378.8,1400.0 L1380.3,1400.0 L1381.8,1400.0 L1383.3,1400.0 L1384.8,1400.0 L1386.3,1400.0 L1387.8,1400.0 L1389.3,1400.1 L1390.8,1400.1 L1392.3,1400.1 L1393.8,1400.1 L1395.3,1400.1 L1396.8,1400.0 L1398.3,1400.0 L1399.8,1400.0 L1401.3,1400.0 L1402.8,1400.1 L1404.3,1400.1 L1405.8,1400.2 L1407.3,1400.2 L1408.8,1400.2 L1410.3,1400.2 L1411.8,1400.2 L1413.3,1400.1 L1414.8,1400.0 L1416.3,1400.0 L1417.8,1400.1 L1419.3,1400.2 L1420.8,1400.2 L1422.3,1400.3 L1423.8,1400.2 L1425.3,1400.3 L1426.8,1400.2 L1428.3,1400.2 L1429.8,1400.3 L1431.3,1400.2 L1432.8,1400.2 L1434.3,1400.1 L1435.8,1400.1 L1437.4,1400.2 L1438.9,1400.2 L1440.4,1400.1 L1441.9,1400.1 L1443.4,1400.1 L1444.9,1400.3 L1446.4,1400.3 L1447.9,1400.4 L1449.4,1400.3 L1450.9,1400.3 L1452.4,1400.2 L1453.9,1400.2 L1455.4,1400.2 L1456.9,1400.2 L1458.4,1400.1 L1459.9,1400.1 L1461.4,1400.1 L1462.9,1400.2 L1464.4,1400.2 L1465.9,1400.2 L1467.4,1400.2 L1468.9,1400.3"/>
<path class="c" stroke="#c1272d" d="M884.9,778.3 L884.9,779.8 L885.0,781.3 L885.0,782.8 L885.1,784.3 L885.1,785.8 L885.2,787.3 L885.2,788.8 L885.3,790.3 L885.3,791.8 L885.3,793.3 L885.4,794.8 L885.4,796.3 L885.5,797.8 L885.5,799.3 L885.5,800.8 L885.5,802.3 L885.6,803.8 L885.6,805.4 L885.6,806.9 L885.7,808.4 L885.7,809.9 L885.7,811.4 L885.7,812.9 L885.8,814.4 L885.8,815.9 L885.8,817.4 L885.9,818.9 L885.9,820.4 L885.9,821.9 L886.0,823.4 L886.0,824.9 L886.0,826.4 L886.0,827.9 L886.1,829.4 L886.1,830.9 L886.1,832.4 L886.2,833.9 L886.2,835.4 L886.2,836.9 L886.3,838.4 L886.3,839.9 L886.3,841.4 L886.3,843.0 L886.4,844.5 L886.4,846.0 L886.4,847.5 L886.5,849.0 L886.5,850.4 L886.5,851.9 L886.6,853.4 L886.7,854.9 L886.7,856.5 L886.8,858.2 L886.8,859.9 L886.9,861.5 L886.9,863.0 L887.0,864.4 L887.0,865.8 L887.1,867.4 L887.1,869.1 L887.2,870.8 L887.3,872.2 L887.3,873.9 L887.4,875.3 L887.4,876.7 L887.5,878.0 L887.5,879.4 L887.6,880.9 L887.6,882.5 L887.7,883.7 L887.7,884.9 L887.8,886.0 L887.9,888.0 L887.9,890.0 L888.0,891.8 L888.0,893.3 L888.1,894.2 L888.1,895.2 L888.2,897.3 L888.2,899.6 L888.3,901.4 L888.3,902.4 L888.4,903.4 L888.4,904.6 L888.5,905.6 L888.6,906.5 L888.6,908.2 L888.7,910.0 L888.7,911.7 L888.8,914.0 L888.8,915.9 L888.9,917.2 L888.9,918.1 L889.0,919.5 L889.0,921.7 L889.1,923.8 L889.2,925.3 L889.2,926.4 L889.3,926.9 L889.3,927.4 L889.4,929.3 L889.4,931.4 L889.5,933.6 L889.6,934.9 L889.7,935.9 L889.8,937.1 L889.9,938.5 L890.0,940.1 L890.1,941.0 L890.2,942.6 L890.3,944.1 L890.4,946.4 L890.5,948.3 L890.6,949.7 L890.6,951.3 L890.7,953.1 L890.8,954.6 L890.9,956.8 L891.0,958.1 L891.1,959.8 L891.2,961.0 L891.3,962.6 L891.4,963.9 L891.5,964.7 L891.6,965.5 L891.7,967.3 L891.8,968.4 L891.9,970.0 L891.9,972.0 L892.0,974.1 L892.1,976.3 L892.2,978.5 L892.3,980.6 L892.4,981.5 L892.5,981.4 L892.6,981.8 L892.7,983.1 L892.8,984.8 L892.9,987.4 L893.0,989.6 L893.1,990.9 L893.2,991.6 L893.3,992.4 L893.4,993.6 L893.6,995.5 L893.7,997.5 L893.8,999.5 L894.0,1000.1 L894.1,1000.9 L894.2,1002.6 L894.4,1004.1 L894.5,1005.9 L894.7,1008.1 L894.8,1009.7 L894.9,1011.1 L895.1,1012.3 L895.2,1014.5 L895.3,1016.5 L895.5,1017.9 L895.6,1019.1 L895.8,1019.7 L895.9,1021.4 L896.0,1022.7 L896.2,1024.0 L896.3,1025.0 L896.5,1026.1 L896.6,1027.9 L896.7,1029.1 L896.9,1031.0 L897.0,1033.1 L897.2,1034.2 L897.3,1036.1 L897.4,1037.6 L897.6,1039.3 L897.7,1040.8 L897.9,1042.8 L898.0,1044.9 L898.1,1046.5 L898.3,1047.2 L898.4,1048.8 L898.6,1050.5 L898.7,1051.6 L898.8,1052.7 L898.9,1053.8 L899.0,1055.9 L899.2,1057.3 L899.3,1058.7 L899.4,1061.0 L899.5,1062.9 L899.6,1064.6 L899.7,1066.3 L899.9,1067.2 L900.0,1068.4 L900.1,1069.1 L900.2,1070.2 L900.3,1071.2 L900.5,1072.3 L900.6,1074.0 L900.7,1075.8 L900.8,1077.8 L900.9,1079.7 L901.0,1081.6 L901.2,1082.9 L901.3,1084.1 L901.4,1085.7 L901.5,1087.2 L901.6,1088.6 L901.7,1090.0 L901.9,1091.6 L902.0,1093.6 L902.1,1095.4 L902.2,1096.0 L902.3,1097.2 L902.4,1098.4 L902.6,1100.9 L902.7,1103.1 L902.8,1105.8 L902.9,1106.9 L903.0,1107.9 L903.1,1108.6 L903.3,1110.2 L903.4,1112.3 L903.5,1114.3 L903.6,1115.7 L903.7,1117.1 L903.9,1117.9 L904.0,1119.7 L904.1,1120.8 L904.4,1122.2 L904.7,1123.8 L905.0,1125.8 L905.3,1127.4 L905.6,1128.8 L905.8,1129.7 L906.1,1131.4 L906.4,1132.0 L906.7,1132.6 L907.0,1133.3 L907.3,1134.8 L907.6,1136.8 L907.9,1139.3 L908.2,1141.6 L908.5,1143.8 L908.8,1144.9 L909.1,1145.6 L909.4,1145.9 L909.7,1147.7 L910.0,1149.6 L910.3,1152.2 L910.6,1153.6 L910.9,1154.7 L911.2,1155.3 L911.5,1156.4 L911.8,1158.0 L912.1,1160.0 L912.4,1161.6 L912.7,1163.7 L913.0,1165.1 L913.3,1166.0 L913.6,1167.5 L913.9,1168.9 L914.2,1170.4 L914.5,1171.5 L914.9,1173.4 L915.2,1175.1 L915.6,1176.7 L916.0,1178.4 L916.3,1180.0 L916.7,1181.8 L917.0,1183.2 L917.4,1185.1 L917.8,1186.3 L918.1,1187.9 L918.5,1189.8 L918.9,1191.3 L919.2,1192.8 L919.6,1194.5 L920.0,1195.7 L920.3,1196.3 L920.7,1197.9 L921.1,1199.5 L921.4,1200.3 L921.8,1201.3 L922.1,1202.4 L922.5,1204.4 L922.9,1205.7 L923.2,1207.7 L923.6,1209.6 L924.0,1210.9 L924.3,1212.4 L924.7,1213.9 L925.1,1215.4 L925.4,1216.4 L925.8,1217.5 L926.1,1218.7 L926.5,1219.7 L926.9,1220.9 L927.2,1222.0 L927.6,1223.8 L928.0,1225.5 L928.3,1226.4 L928.7,1227.6 L929.0,1228.9 L929.4,1230.0 L929.8,1231.6 L930.1,1233.6 L931.1,1235.1 L932.1,1236.2 L933.2,1236.9 L934.3,1238.1 L935.3,1238.9 L936.3,1240.2 L936.8,1241.5 L937.3,1243.1 L937.8,1244.5 L938.2,1245.9 L938.7,1247.6 L939.2,1249.1 L939.7,1251.4 L940.1,1253.5 L940.6,1255.6 L941.1,1257.1 L941.6,1258.2 L942.0,1259.4 L942.7,1260.6 L943.5,1260.8 L944.2,1261.8 L945.0,1263.6 L945.8,1265.3 L946.6,1266.7 L947.3,1267.5 L947.7,1268.7 L948.0,1269.6 L948.4,1270.4 L948.7,1272.1 L949.0,1273.9 L949.4,1274.8 L949.7,1275.8 L950.0,1277.0 L950.5,1279.0 L951.2,1280.8 L951.8,1282.4 L952.4,1283.7 L953.1,1285.1 L953.7,1286.9 L954.3,1288.4 L955.0,1289.2 L955.6,1289.7 L956.2,1290.9 L956.9,1293.2 L957.5,1295.0 L958.1,1296.8 L959.2,1298.0 L960.3,1298.7 L961.5,1299.7 L962.6,1300.8 L963.7,1301.8 L964.8,1303.0 L965.9,1304.0 L967.0,1305.4 L967.9,1306.2 L968.6,1307.8 L969.2,1309.0 L969.9,1310.4 L970.5,1311.6 L971.2,1312.9 L971.9,1313.9 L972.5,1315.1 L973.2,1316.8 L973.8,1318.5 L974.6,1319.5 L975.4,1320.3 L976.3,1320.9 L977.1,1322.0 L978.0,1323.9 L978.9,1325.8 L979.7,1327.2 L980.6,1327.8 L981.4,1329.1 L982.4,1329.6 L983.6,1331.1 L984.9,1332.3 L986.2,1333.4 L987.5,1333.8 L988.8,1333.9 L990.1,1334.4 L991.4,1334.9 L992.7,1335.6 L993.9,1336.4 L995.1,1337.2 L996.4,1338.1 L997.6,1339.2 L998.9,1339.6 L1000.1,1340.7 L1001.3,1342.4 L1002.5,1343.7 L1003.5,1345.0 L1004.4,1345.9 L1005.3,1347.0 L1006.3,1348.3 L1007.2,1349.6 L1008.1,1350.7 L1009.3,1351.4 L1010.6,1352.3 L1011.8,1353.1 L1013.0,1353.8 L1014.3,1355.5 L1015.5,1356.6 L1016.7,1357.4 L1018.0,1357.7 L1019.2,1358.5 L1020.5,1359.7 L1021.8,1361.1 L1023.1,1362.2 L1024.4,1361.7 L1025.7,1361.2 L1027.0,1361.9 L1028.3,1363.8 L1029.6,1365.0 L1030.9,1365.9 L1032.2,1366.3 L1033.5,1367.2 L1034.8,1368.1 L1036.1,1369.6 L1037.4,1370.2 L1038.7,1370.6 L1040.0,1371.6 L1041.4,1371.5 L1042.9,1371.1 L1044.4,1370.8 L1045.9,1370.1 L1047.3,1370.9 L1048.6,1372.1 L1049.8,1373.9 L1051.1,1374.8 L1052.4,1375.0 L1053.7,1375.6 L1055.0,1376.1 L1056.3,1376.8 L1057.8,1377.1 L1059.3,1377.9 L1060.8,1377.6 L1062.3,1377.4 L1063.8,1376.7 L1065.3,1376.6 L1066.8,1376.7 L1068.3,1377.4 L1069.8,1377.5 L1071.2,1378.2 L1072.7,1378.9 L1074.1,1379.9 L1075.5,1380.3 L1076.9,1380.3 L1078.3,1380.4 L1079.8,1380.8 L1081.2,1381.4 L1082.6,1381.9 L1084.1,1382.0 L1085.6,1382.1 L1087.1,1382.5 L1088.6,1383.0 L1090.1,1383.1 L1091.6,1383.5 L1093.1,1383.6 L1094.6,1383.9 L1096.1,1384.3 L1097.5,1384.4 L1099.0,1384.9 L1100.4,1385.1 L1101.9,1385.3 L1103.4,1385.9 L1104.8,1386.4 L1106.3,1386.7 L1107.7,1386.6 L1109.2,1386.8 L1110.6,1387.1 L1112.1,1387.1 L1113.6,1387.2 L1115.1,1387.0 L1116.6,1386.8 L1118.1,1386.7 L1119.6,1386.8 L1121.1,1387.1 L1122.6,1387.2 L1124.1,1387.4 L1125.6,1387.8 L1127.1,1388.2 L1128.5,1388.7 L1130.0,1389.4 L1131.4,1390.2 L1132.8,1390.7 L1134.3,1391.2 L1135.7,1391.5 L1137.2,1391.9 L1138.6,1392.3 L1140.1,1392.5 L1141.6,1392.9 L1143.1,1393.1 L1144.5,1393.2 L1146.0,1393.3 L1147.5,1393.5 L1149.0,1393.8 L1150.4,1394.1 L1151.9,1394.2 L1153.4,1394.5 L1154.9,1394.6 L1156.4,1394.9 L1157.9,1395.2 L1159.3,1395.6 L1160.8,1395.8 L1162.3,1396.1 L1163.8,1396.4 L1165.3,1396.7 L1166.8,1396.8 L1168.3,1397.1 L1169.7,1397.3 L1171.2,1397.5 L1172.7,1397.5 L1174.2,1397.3 L1175.7,1397.4 L1177.2,1397.6 L1178.7,1397.9 L1180.2,1398.0 L1181.8,1398.0 L1183.3,1398.0 L1184.8,1397.9 L1186.3,1397.7 L1187.8,1397.7 L1189.3,1397.7 L1190.8,1397.8 L1192.3,1398.0 L1193.8,1397.9 L1195.3,1397.9 L1196.8,1397.7 L1198.3,1397.8 L1199.8,1397.8 L1201.3,1397.8 L1202.8,1397.8 L1204.3,1397.8 L1205.8,1397.7 L1207.3,1397.8 L1208.8,1397.8 L1210.3,1397.8 L1211.8,1397.8 L1213.3,1397.8 L1214.8,1397.8 L1216.3,1397.8 L1217.8,1397.8 L1219.3,1398.1 L1220.8,1398.1 L1222.3,1398.1 L1223.8,1397.9 L1225.4,1397.6 L1226.9,1397.5 L1228.4,1397.6 L1229.9,1397.7 L1231.4,1397.7 L1232.9,1397.7 L1234.4,1397.8 L1235.9,1398.0 L1237.4,1398.3 L1238.9,1398.5 L1240.4,1398.7 L1241.9,1398.3 L1243.4,1398.1 L1244.9,1398.1 L1246.4,1398.2 L1247.9,1398.4 L1249.4,1398.5 L1250.9,1398.5 L1252.4,1398.4 L1253.9,1398.4 L1255.4,1398.6 L1256.9,1398.5 L1258.4,1398.3 L1259.9,1398.3 L1261.4,1398.5 L1262.9,1398.8 L1264.4,1398.9 L1265.9,1398.9 L1267.4,1398.8 L1268.9,1398.8 L1270.5,1398.8 L1272.0,1398.9 L1273.5,1398.9 L1275.0,1398.9 L1276.5,1398.7 L1278.0,1398.3 L1279.5,1398.1 L1281.0,1398.2 L1282.5,1398.2 L1284.0,1398.5 L1285.5,1398.7 L1287.0,1398.7 L1288.5,1398.7 L1290.0,1398.8 L1291.5,1398.9 L1293.0,1398.9 L1294.5,1398.9 L1296.0,1399.0 L1297.5,1399.1 L1299.0,1399.2 L1300.5,1399.2 L1302.0,1399.4 L1303.5,1399.4 L1305.0,1399.5 L1306.5,1399.5 L1308.0,1399.3 L1309.5,1399.1 L1311.0,1398.9 L1312.5,1398.9 L1314.0,1399.0 L1315.6,1399.2 L1317.1,1399.6 L1318.6,1399.8 L1320.1,1399.6 L1321.6,1399.5 L1323.1,1399.5 L1324.6,1399.4 L1326.1,1399.3 L1327.6,1399.2 L1329.1,1399.3 L1330.6,1399.4 L1332.1,1399.4 L1333.6,1399.3 L1335.1,1399.5 L1336.6,1399.5 L1338.1,1399.6 L1339.6,1399.7 L1341.1,1399.9 L1342.6,1399.7 L1344.1,1399.6 L1345.6,1399.3 L1347.1,1399.3 L1348.6,1399.4 L1350.1,1399.6 L1351.6,1399.7 L1353.1,1399.7 L1354.6,1399.8 L1356.1,1399.7 L1357.6,1399.5 L1359.1,1399.4 L1360.7,1399.4 L1362.2,1399.4 L1363.7,1399.5 L1365.2,1399.6 L1366.7,1399.7 L1368.2,1399.7 L1369.7,1399.9 L1371.2,1399.9 L1372.7,1400.0 L1374.2,1400.0 L1375.7,1400.0 L1377.2,1399.7 L1378.7,1399.6 L1380.2,1399.5 L1381.7,1399.4 L1383.2,1399.4 L1384.7,1399.6 L1386.2,1399.6 L1387.7,1399.6 L1389.2,1399.6 L1390.7,1399.6 L1392.2,1399.7 L1393.7,1399.9 L1395.2,1400.0 L1396.7,1400.1 L1398.2,1400.0 L1399.7,1399.9 L1401.2,1399.9 L1402.7,1399.7 L1404.3,1399.8 L1405.8,1399.9 L1407.3,1400.1 L1408.8,1400.1 L1410.3,1400.2 L1411.8,1400.2 L1413.3,1400.3 L1414.8,1400.2 L1416.3,1400.3 L1417.8,1400.1 L1419.3,1399.9 L1420.8,1399.9 L1422.3,1399.9 L1423.8,1400.2 L1425.3,1400.2 L1426.8,1400.1 L1428.3,1399.8 L1429.8,1399.8 L1431.3,1399.8 L1432.8,1399.8 L1434.3,1399.8 L1435.8,1399.9 L1437.3,1400.0 L1438.8,1400.0 L1440.3,1399.8 L1441.8,1399.7 L1443.3,1399.8 L1444.8,1399.8 L1446.3,1400.0 L1447.9,1399.9 L1449.4,1399.9 L1450.9,1399.9 L1452.4,1399.9 L1453.9,1400.0 L1455.4,1399.8 L1456.9,1400.0 L1458.4,1400.0 L1459.9,1400.0 L1461.4,1400.1 L1462.9,1400.1 L1464.4,1400.0 L1465.9,1399.9 L1467.4,1399.8 L1468.9,1400.0"/>
<path class="c" stroke="#3ab54a" d="M884.9,778.3 L884.9,779.8 L885.0,781.3 L885.0,782.8 L885.1,784.3 L885.1,785.8 L885.2,787.3 L885.2,788.8 L885.3,790.3 L885.3,791.8 L885.3,793.3 L885.4,794.8 L885.4,796.3 L885.5,797.8 L885.5,799.3 L885.5,800.8 L885.5,802.3 L885.6,803.8 L885.6,805.3 L885.6,806.8 L885.7,808.3 L885.7,809.8 L885.7,811.3 L885.7,812.8 L885.8,814.3 L885.8,815.8 L885.8,817.3 L885.9,818.8 L885.9,820.3 L885.9,821.8 L886.0,823.4 L886.0,824.9 L886.0,826.4 L886.0,827.9 L886.1,829.4 L886.1,830.9 L886.1,832.4 L886.2,833.9 L886.2,835.4 L886.2,836.9 L886.3,838.4 L886.3,839.9 L886.3,841.4 L886.3,842.9 L886.4,844.5 L886.4,846.0 L886.4,847.5 L886.5,849.0 L886.5,850.5 L886.5,852.1 L886.6,853.6 L886.7,855.3 L886.7,856.9 L886.8,858.5 L886.8,859.7 L886.9,860.9 L886.9,862.1 L887.0,863.6 L887.0,865.5 L887.1,867.0 L887.1,868.7 L887.2,869.9 L887.3,871.3 L887.3,873.0 L887.4,874.7 L887.4,876.3 L887.5,877.4 L887.5,878.8 L887.6,880.4 L887.6,882.5 L887.7,883.8 L887.7,885.1 L887.8,885.9 L887.8,887.7 L887.9,889.7 L888.0,891.8 L888.0,893.1 L888.1,894.3 L888.1,895.3 L888.2,896.7 L888.2,898.4 L888.3,900.3 L888.3,901.4 L888.4,902.8 L888.4,904.0 L888.5,905.4 L888.6,907.5 L888.6,909.5 L888.7,911.8 L888.7,912.8 L888.8,913.9 L888.8,915.3 L888.9,916.6 L888.9,918.2 L889.0,920.1 L889.0,922.1 L889.1,922.9 L889.1,924.1 L889.2,925.5 L889.3,926.8 L889.3,928.7 L889.4,930.5 L889.4,932.2 L889.5,932.2 L889.6,933.3 L889.7,934.4 L889.8,936.4 L889.9,937.7 L890.0,939.7 L890.1,941.3 L890.2,942.3 L890.3,943.8 L890.4,945.7 L890.5,946.9 L890.6,949.0 L890.7,949.8 L890.8,951.8 L890.9,953.5 L891.0,955.1 L891.1,956.6 L891.2,958.2 L891.3,959.7 L891.4,961.1 L891.5,962.4 L891.6,964.2 L891.7,965.5 L891.8,966.9 L891.9,968.4 L892.0,970.3 L892.1,972.3 L892.2,974.0 L892.3,976.1 L892.4,976.7 L892.5,978.0 L892.6,978.4 L892.7,979.7 L892.8,981.2 L892.9,982.4 L893.0,984.0 L893.1,986.9 L893.2,988.7 L893.3,990.6 L893.4,991.8 L893.6,993.8 L893.7,994.8 L893.9,995.3 L894.0,995.9 L894.2,997.4 L894.3,999.5 L894.5,1002.3 L894.6,1004.7 L894.8,1006.2 L894.9,1007.0 L895.1,1007.9 L895.3,1008.8 L895.4,1010.2 L895.6,1011.5 L895.7,1012.7 L895.9,1014.6 L896.0,1015.7 L896.2,1017.1 L896.3,1018.5 L896.5,1020.4 L896.6,1022.4 L896.8,1023.4 L896.9,1025.0 L897.1,1026.4 L897.2,1027.8 L897.4,1029.9 L897.5,1031.2 L897.7,1032.7 L897.8,1034.2 L898.0,1036.8 L898.1,1039.2 L898.3,1040.6 L898.4,1041.3 L898.6,1043.0 L898.7,1044.3 L898.9,1045.5 L899.0,1046.5 L899.2,1048.6 L899.3,1050.0 L899.5,1052.2 L899.6,1052.8 L899.7,1054.4 L899.9,1055.6 L900.0,1057.2 L900.1,1059.0 L900.2,1060.0 L900.4,1061.2 L900.5,1062.5 L900.6,1063.4 L900.7,1065.7 L900.9,1067.5 L901.0,1069.5 L901.2,1070.8 L901.5,1072.1 L901.7,1073.8 L902.0,1076.7 L902.3,1078.5 L902.6,1080.2 L902.9,1080.6 L903.2,1081.4 L903.5,1082.1 L903.8,1082.9 L904.1,1085.2 L904.4,1087.9 L904.7,1089.6 L905.0,1090.7 L905.2,1091.2 L905.5,1091.8 L905.8,1092.9 L906.0,1094.1 L906.3,1095.7 L906.5,1097.6 L906.8,1099.2 L907.1,1101.0 L907.3,1102.8 L907.6,1104.8 L907.9,1106.4 L908.1,1107.9 L908.4,1109.4 L908.6,1111.6 L908.9,1112.8 L909.2,1114.0 L909.4,1115.1 L909.7,1116.4 L909.9,1117.6 L910.2,1119.4 L910.5,1121.4 L910.7,1123.1 L911.0,1124.0 L911.3,1125.0 L911.5,1126.1 L911.8,1128.3 L912.0,1130.3 L912.3,1131.9 L912.6,1132.8 L912.9,1133.9 L913.2,1135.5 L913.5,1137.1 L913.8,1138.5 L914.1,1139.7 L914.4,1140.8 L914.7,1142.3 L915.0,1144.0 L915.3,1146.0 L915.5,1147.3 L915.8,1148.6 L916.1,1149.8 L916.4,1150.5 L916.7,1151.9 L917.0,1153.6 L917.3,1155.3 L917.6,1156.8 L917.9,1158.4 L918.2,1160.1 L918.5,1161.6 L918.8,1162.9 L919.1,1164.5 L919.4,1166.0 L919.6,1167.0 L919.9,1168.7 L920.2,1170.2 L920.6,1171.9 L921.0,1173.9 L921.4,1175.7 L921.8,1177.2 L922.2,1178.8 L922.5,1180.3 L922.9,1182.1 L923.3,1182.5 L923.7,1183.1 L924.1,1184.3 L924.4,1186.3 L924.8,1188.6 L925.2,1190.4 L925.6,1192.0 L926.0,1194.3 L926.3,1196.5 L926.7,1198.2 L927.1,1199.5 L927.5,1199.9 L927.9,1201.2 L928.3,1201.8 L928.6,1202.4 L929.0,1203.7 L929.4,1205.2 L929.8,1207.5 L930.2,1210.0 L930.8,1211.5 L931.5,1212.7 L932.2,1212.6 L932.8,1213.0 L933.5,1214.4 L934.2,1215.9 L934.9,1216.5 L935.5,1217.9 L936.2,1219.4 L936.9,1221.0 L937.6,1222.4 L938.2,1223.3 L938.9,1224.9 L939.5,1226.4 L940.1,1227.7 L940.7,1229.9 L941.3,1231.0 L942.0,1232.7 L942.6,1234.3 L943.2,1236.3 L943.8,1238.8 L944.4,1239.9 L945.0,1241.2 L945.7,1243.0 L946.3,1244.5 L946.9,1245.9 L947.5,1246.7 L948.1,1247.7 L948.7,1249.0 L949.3,1250.8 L949.9,1252.9 L950.5,1255.0 L951.1,1257.3 L951.7,1259.3 L952.3,1259.6 L952.9,1258.8 L953.5,1259.5 L954.1,1261.0 L954.8,1262.1 L955.6,1263.6 L956.3,1265.0 L957.1,1266.6 L957.9,1268.3 L958.7,1270.1 L959.5,1271.6 L960.2,1271.7 L960.8,1272.4 L961.4,1274.1 L961.9,1275.7 L962.5,1277.5 L963.0,1278.4 L963.6,1279.6 L964.2,1280.2 L965.2,1281.9 L966.6,1283.3 L968.0,1284.1 L969.0,1284.7 L970.1,1285.3 L970.8,1286.8 L971.5,1288.5 L972.2,1289.4 L972.8,1290.7 L973.5,1291.4 L974.2,1292.6 L974.8,1294.8 L975.5,1296.4 L976.1,1297.7 L976.8,1298.3 L977.5,1298.9 L978.2,1300.8 L978.8,1302.5 L979.5,1304.4 L980.2,1305.8 L980.9,1306.9 L981.6,1309.2 L982.2,1311.2 L983.2,1312.2 L984.4,1312.3 L985.7,1312.6 L987.0,1313.5 L988.3,1314.1 L989.4,1314.7 L990.5,1314.7 L991.6,1315.3 L992.6,1316.7 L993.4,1317.5 L994.2,1318.9 L995.5,1319.2 L996.9,1319.1 L998.4,1318.6 L999.9,1317.9 L1001.3,1318.1 L1002.3,1319.5 L1003.0,1321.8 L1003.7,1323.3 L1004.4,1323.6 L1005.0,1324.4 L1005.7,1326.4 L1006.4,1328.6 L1007.1,1329.9 L1008.1,1329.9 L1009.2,1329.6 L1010.2,1330.6 L1011.3,1332.4 L1012.4,1334.6 L1013.4,1335.9 L1014.5,1336.9 L1015.6,1337.8 L1016.7,1338.2 L1017.8,1339.3 L1019.0,1340.4 L1020.2,1341.0 L1021.5,1341.9 L1022.8,1342.6 L1024.2,1343.6 L1025.6,1344.4 L1026.9,1345.5 L1028.3,1346.3 L1029.7,1346.4 L1031.1,1346.4 L1032.4,1347.2 L1033.7,1348.6 L1035.1,1349.8 L1036.4,1350.3 L1037.8,1350.2 L1039.2,1349.6 L1040.7,1349.9 L1042.2,1351.0 L1043.7,1351.8 L1045.2,1351.7 L1046.7,1351.4 L1048.2,1351.5 L1049.4,1353.0 L1050.6,1354.1 L1051.8,1355.4 L1053.0,1356.5 L1054.2,1356.9 L1055.4,1357.9 L1056.6,1358.5 L1058.0,1358.9 L1059.4,1358.9 L1060.8,1359.8 L1062.3,1360.4 L1063.7,1359.9 L1065.0,1359.2 L1066.3,1359.9 L1067.6,1361.5 L1068.9,1363.8 L1070.2,1364.9 L1071.5,1366.0 L1072.8,1365.4 L1074.0,1366.1 L1075.4,1367.0 L1076.8,1368.3 L1078.2,1369.0 L1079.6,1369.2 L1081.0,1369.0 L1082.4,1369.9 L1083.9,1369.9 L1085.3,1370.2 L1086.7,1370.4 L1088.1,1370.6 L1089.6,1370.8 L1091.0,1371.2 L1092.4,1372.4 L1093.8,1373.4 L1095.3,1373.7 L1096.7,1374.2 L1098.1,1374.5 L1099.5,1374.9 L1101.0,1374.8 L1102.4,1376.2 L1103.8,1377.3 L1105.2,1378.3 L1106.7,1378.7 L1108.2,1378.9 L1109.7,1378.9 L1111.1,1379.0 L1112.6,1379.1 L1114.1,1379.6 L1115.5,1380.2 L1116.7,1381.1 L1117.9,1382.1 L1119.2,1382.8 L1120.4,1383.9 L1121.7,1383.9 L1122.9,1382.6 L1124.1,1381.1 L1125.4,1379.3 L1126.6,1378.2 L1128.1,1379.2 L1129.5,1380.0 L1131.0,1381.1 L1132.4,1381.3 L1133.9,1381.4 L1135.3,1381.4 L1136.8,1381.5 L1138.3,1381.6 L1139.7,1382.0 L1141.2,1382.3 L1142.6,1382.5 L1144.1,1383.0 L1145.5,1383.2 L1147.0,1383.4 L1148.5,1383.7 L1149.9,1384.6 L1151.4,1385.1 L1152.9,1385.6 L1154.4,1385.7 L1155.9,1386.1 L1157.3,1386.0 L1158.8,1385.9 L1160.3,1385.9 L1161.8,1386.1 L1163.3,1386.2 L1164.8,1386.7 L1166.3,1386.9 L1167.8,1387.2 L1169.2,1387.3 L1170.7,1387.7 L1172.1,1388.1 L1173.6,1388.3 L1175.0,1388.5 L1176.5,1389.2 L1178.0,1389.6 L1179.4,1390.0 L1180.9,1389.8 L1182.4,1389.5 L1183.9,1389.1 L1185.4,1388.7 L1186.9,1388.9 L1188.4,1389.6 L1189.8,1389.8 L1191.3,1389.7 L1192.8,1389.4 L1194.3,1389.5 L1195.8,1389.6 L1197.2,1390.2 L1198.7,1390.7 L1200.2,1391.2 L1201.7,1391.7 L1203.1,1392.2 L1204.6,1392.5 L1206.1,1392.7 L1207.6,1392.9 L1209.1,1393.1 L1210.5,1393.2 L1212.0,1393.1 L1213.5,1393.1 L1215.0,1393.1 L1216.5,1393.0 L1218.0,1392.6 L1219.5,1392.4 L1221.0,1392.6 L1222.5,1392.7 L1224.0,1392.7 L1225.5,1392.8 L1227.0,1392.9 L1228.5,1393.2 L1229.9,1393.5 L1231.4,1393.5 L1232.9,1393.5 L1234.4,1393.6 L1235.9,1393.9 L1237.4,1394.0 L1238.9,1394.0 L1240.4,1393.9 L1241.9,1394.1 L1243.4,1394.3 L1244.9,1394.6 L1246.4,1394.6 L1247.9,1394.4 L1249.4,1394.0 L1250.9,1393.9 L1252.4,1393.8 L1253.9,1394.0 L1255.4,1394.1 L1256.9,1394.1 L1258.4,1394.1 L1259.9,1394.0 L1261.4,1393.8 L1262.9,1393.5 L1264.4,1393.2 L1265.9,1392.9 L1267.4,1392.8 L1269.0,1392.8 L1270.5,1392.8 L1272.0,1393.0 L1273.5,1393.0 L1275.0,1392.9 L1276.5,1392.9 L1278.0,1392.9 L1279.4,1393.3 L1280.9,1393.5 L1282.4,1393.4 L1283.9,1393.2 L1285.4,1393.0 L1286.9,1392.9 L1288.4,1392.6 L1289.9,1392.1 L1291.4,1391.9 L1292.9,1392.1 L1294.3,1392.5 L1295.7,1392.8 L1297.1,1393.3 L1298.6,1393.7 L1300.0,1394.2 L1301.5,1393.9 L1302.9,1393.6 L1304.4,1393.3 L1305.8,1393.0 L1307.3,1393.0 L1308.8,1393.1 L1310.3,1393.0 L1311.7,1393.4 L1313.2,1393.7 L1314.7,1394.0 L1316.2,1394.4 L1317.7,1394.8 L1319.2,1394.9 L1320.7,1395.1 L1322.2,1395.3 L1323.6,1395.5 L1325.1,1395.2 L1326.6,1394.9 L1328.1,1394.9 L1329.6,1395.0 L1331.1,1394.7 L1332.6,1394.7 L1334.1,1394.5 L1335.6,1394.3 L1337.1,1394.1 L1338.6,1393.9 L1340.1,1393.8 L1341.6,1394.0 L1343.1,1394.3 L1344.5,1394.5 L1346.0,1394.7 L1347.5,1395.1 L1349.0,1395.5 L1350.5,1396.1 L1351.9,1396.5 L1353.4,1396.8 L1354.9,1396.8 L1356.4,1396.9 L1357.9,1397.0 L1359.4,1397.1 L1360.9,1397.5 L1362.4,1397.7 L1363.9,1397.7 L1365.4,1397.6 L1366.9,1397.4 L1368.4,1397.6 L1369.9,1397.6 L1371.4,1397.6 L1372.9,1397.7 L1374.4,1397.7 L1375.9,1397.8 L1377.4,1397.8 L1378.9,1397.8 L1380.4,1397.7 L1381.9,1397.7 L1383.4,1397.8 L1384.9,1397.8 L1386.4,1397.8 L1387.9,1397.9 L1389.4,1398.0 L1390.9,1397.9 L1392.4,1397.8 L1393.9,1397.8 L1395.4,1398.0 L1396.9,1398.2 L1398.4,1398.4 L1399.9,1398.3 L1401.4,1398.3 L1402.9,1398.3 L1404.4,1398.3 L1405.9,1398.4 L1407.4,1398.4 L1408.9,1398.4 L1410.4,1398.3 L1411.9,1398.4 L1413.4,1398.4 L1414.9,1398.4 L1416.4,1398.4 L1417.9,1398.6 L1419.4,1398.8 L1420.9,1398.9 L1422.4,1398.5 L1423.9,1398.4 L1425.4,1398.1 L1426.9,1398.0 L1428.4,1397.9 L1429.9,1397.9 L1431.4,1397.7 L1432.9,1397.5 L1434.4,1397.3 L1435.9,1397.6 L1437.4,1397.9 L1438.9,1398.2 L1440.4,1398.1 L1441.9,1398.3 L1443.4,1398.4 L1444.9,1398.6 L1446.4,1398.8 L1447.9,1398.9 L1449.4,1398.8 L1450.9,1398.7 L1452.4,1398.9 L1453.9,1399.1 L1455.4,1399.1 L1456.9,1399.1 L1458.4,1398.9 L1459.9,1398.8 L1461.4,1399.0 L1462.9,1399.1 L1464.4,1399.0 L1465.9,1398.9 L1467.4,1399.0 L1468.9,1399.2"/>
</g>
<rect class="ax" x="884.9" y="778.0" width="584.0" height="623.0"/>
<text class="t" transform="translate(869.7,1416.6) scale(1,1.04)" text-anchor="end">0.0</text>
<text class="t" transform="translate(869.7,1292.0) scale(1,1.04)" text-anchor="end">0.2</text>
<text class="t" transform="translate(869.7,1167.4) scale(1,1.04)" text-anchor="end">0.4</text>
<text class="t" transform="translate(869.7,1042.8) scale(1,1.04)" text-anchor="end">0.6</text>
<text class="t" transform="translate(869.7,918.2) scale(1,1.04)" text-anchor="end">0.8</text>
<text class="t" transform="translate(869.7,793.6) scale(1,1.04)" text-anchor="end">1.0</text>
<text class="t" transform="translate(884.9,1445.4) scale(1,1.04)" text-anchor="middle">0</text>
<text class="t" transform="translate(1079.6,1445.4) scale(1,1.04)" text-anchor="middle">50</text>
<text class="t" transform="translate(1274.2,1445.4) scale(1,1.04)" text-anchor="middle">100</text>
<text class="t" transform="translate(1468.9,1445.4) scale(1,1.04)" text-anchor="middle">150</text>
<path class="ax" d="M884.9,1401.0h-7.6M884.9,1276.4h-7.6M884.9,1151.8h-7.6M884.9,1027.2h-7.6M884.9,902.6h-7.6M884.9,778.0h-7.6M884.9,1401.0v7.6M1079.6,1401.0v7.6M1274.2,1401.0v7.6M1468.9,1401.0v7.6"/>
<text class="t" transform="translate(1176.9,1492.6) scale(1,1.04)" text-anchor="middle"><tspan class="it">k</tspan>th iteration</text>
<g transform="translate(797.7,1092.5) rotate(-90)">
<text y="0"><tspan class="cal" x="-49" font-size="42">𝒲</tspan><tspan x="-3" font-size="48">(</tspan><tspan class="it" dx="1" font-size="45">k</tspan><tspan dx="1" font-size="48">)</tspan></text>
</g>
<text y="848.8" style="fill:#7f0000"><tspan class="it" x="1308.1" font-size="46" textLength="20.05" lengthAdjust="spacingAndGlyphs">r</tspan> <tspan x="1341.0" dy="1.0" font-size="38" textLength="35.1" lengthAdjust="spacingAndGlyphs">=</tspan> <tspan x="1386.6" dy="-1.0" font-size="44.5">0.6</tspan></text>
<path class="ar" d="M960.2,1270.2L1017.8,1120.1"/>
<path d="M1022.6,1107.5L1025.5,1128.4L1017.8,1120.1L1006.5,1121.1Z" fill="#000"/>
<circle cx="960.2" cy="1270.2" r="3.85" fill="#000"/>
<path class="ar" d="M1002.5,1343.4L1088.2,1215.8"/>
<path d="M1095.7,1204.6L1093.9,1225.6L1088.2,1215.8L1076.9,1214.3Z" fill="#000"/>
<circle cx="1002.5" cy="1343.4" r="3.85" fill="#000"/>
<path class="ar" d="M1093.0,1393.1L1189.9,1248.7"/>
<path d="M1197.4,1237.5L1195.6,1258.5L1189.9,1248.7L1178.6,1247.2Z" fill="#000"/>
<circle cx="1093.0" cy="1393.1" r="3.85" fill="#000"/>
<text y="1098.8"><tspan class="it" x="975.2" font-size="44" textLength="22.5" lengthAdjust="spacingAndGlyphs">ν</tspan> <tspan x="1009.9" dy="2.6" font-size="38" textLength="34.9" lengthAdjust="spacingAndGlyphs">=</tspan> <tspan x="1055.8" dy="-2.6" font-size="43.5">2</tspan></text>
<text y="1189.6"><tspan class="it" x="1064.6" font-size="44" textLength="22.5" lengthAdjust="spacingAndGlyphs">ν</tspan> <tspan x="1099.3" dy="2.6" font-size="38" textLength="34.9" lengthAdjust="spacingAndGlyphs">=</tspan> <tspan x="1145.2" dy="-2.6" font-size="43.5">1.5</tspan></text>
<text y="1232.8"><tspan class="it" x="1162.7" font-size="44" textLength="22.5" lengthAdjust="spacingAndGlyphs">ν</tspan> <tspan x="1197.4" dy="2.6" font-size="38" textLength="34.9" lengthAdjust="spacingAndGlyphs">=</tspan> <tspan x="1243.3" dy="-2.6" font-size="43.5">1</tspan></text>
</g>
</svg></body></html>
